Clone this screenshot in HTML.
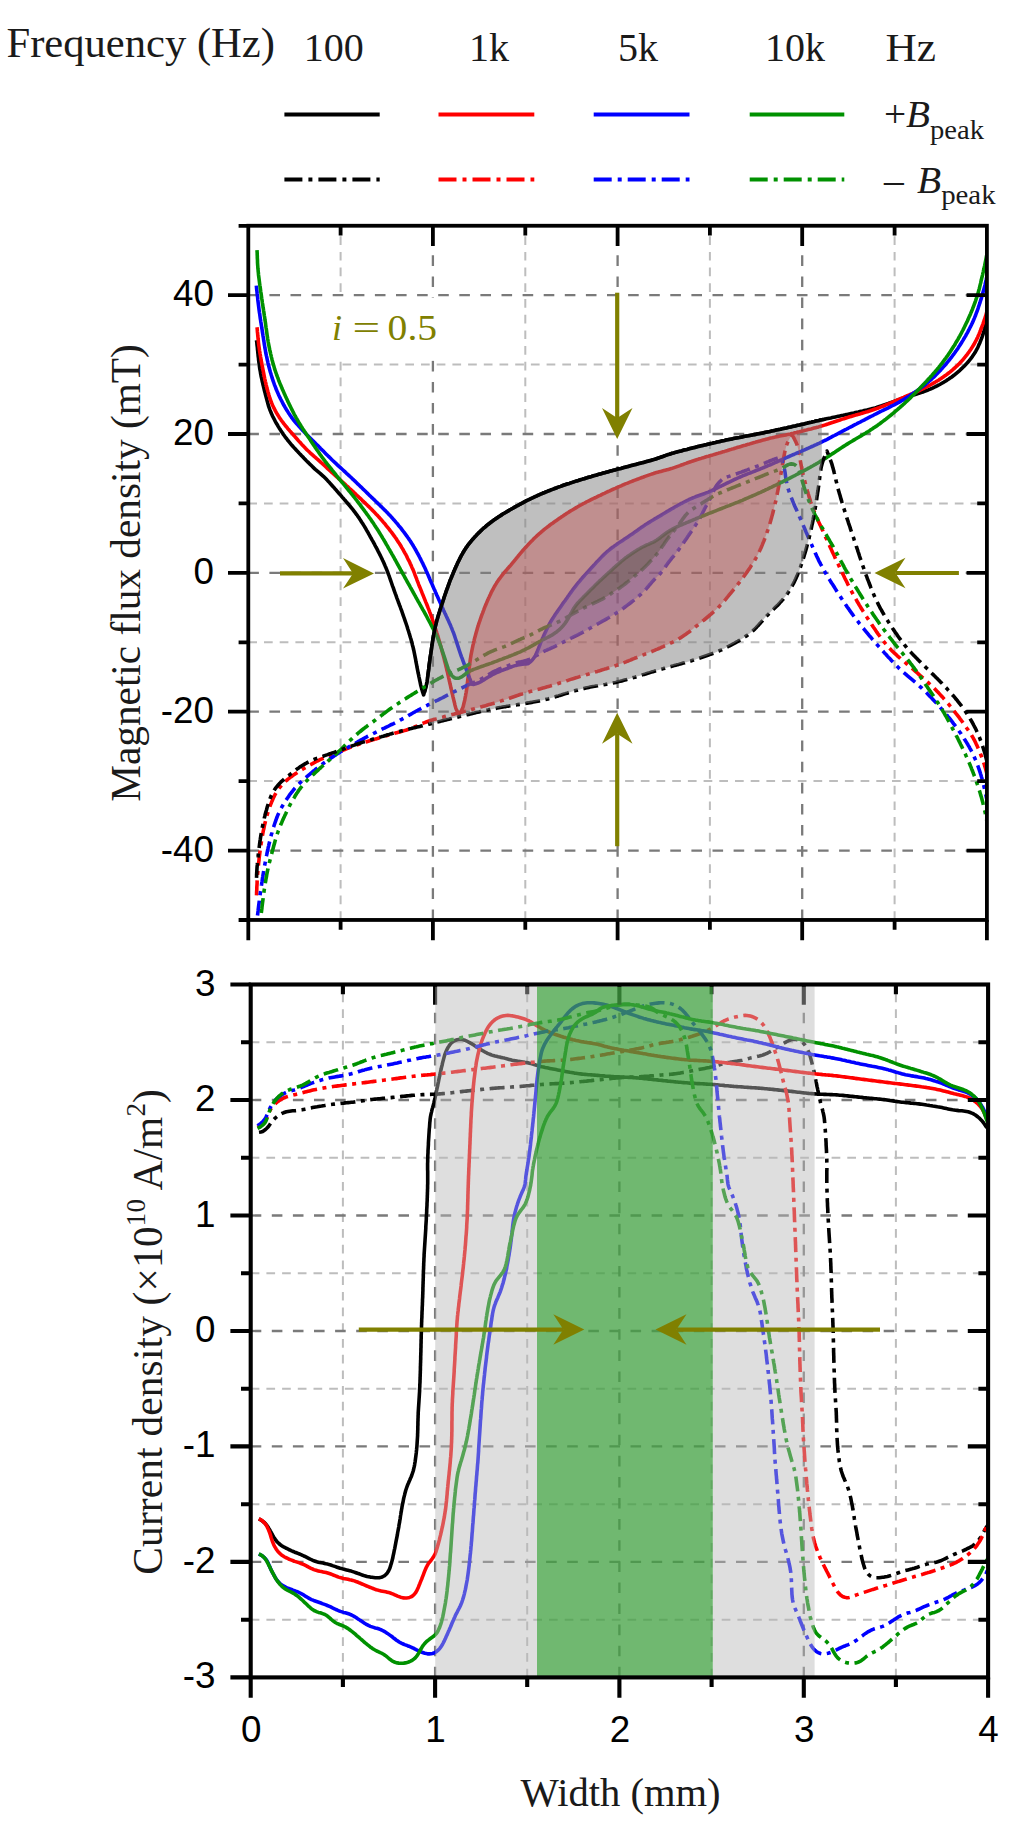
<!DOCTYPE html>
<html><head><meta charset="utf-8"><title>Figure</title>
<style>
html,body{margin:0;padding:0;background:#fff}
svg{display:block}
.ser{font-family:"Liberation Serif",serif}
.san{font-family:"Liberation Sans",sans-serif}
</style></head><body>
<svg width="1022" height="1829" viewBox="0 0 1022 1829">
<rect width="1022" height="1829" fill="#fff"/>

<g class="ser" fill="#1a1a1a">
<text x="6.5" y="56.8" font-size="42.6">Frequency (Hz)</text>
<text x="333.7" y="61" font-size="40" text-anchor="middle">100</text>
<text x="489" y="61" font-size="40" text-anchor="middle">1k</text>
<text x="638" y="61" font-size="40" text-anchor="middle">5k</text>
<text x="795" y="61" font-size="40" text-anchor="middle">10k</text>
<text transform="translate(885.5,61) scale(1.07,1)" font-size="40.5">Hz</text>
<text transform="translate(884,127.3) scale(1.06,1)" font-size="37">+<tspan font-style="italic">B</tspan><tspan font-size="27" dy="11.8">peak</tspan></text>
<text transform="translate(884,192.7) scale(1.068,1)" font-size="37">– <tspan font-style="italic" dx="3.2">B</tspan><tspan font-size="27" dy="11.5">peak</tspan></text>
</g>
<line x1="284.4" x2="379.7" y1="114.6" y2="114.6" stroke="#000" stroke-width="4"/>
<line x1="284.4" x2="379.7" y1="179.5" y2="179.5" stroke="#000" stroke-width="4" stroke-dasharray="18 6 4 6"/>
<line x1="438.5" x2="534.3" y1="114.6" y2="114.6" stroke="#ff0000" stroke-width="4"/>
<line x1="438.5" x2="534.3" y1="179.5" y2="179.5" stroke="#ff0000" stroke-width="4" stroke-dasharray="18 6 4 6"/>
<line x1="593.7" x2="689.5" y1="114.6" y2="114.6" stroke="#0000ff" stroke-width="4"/>
<line x1="593.7" x2="689.5" y1="179.5" y2="179.5" stroke="#0000ff" stroke-width="4" stroke-dasharray="18 6 4 6"/>
<line x1="749.7" x2="844.3" y1="114.6" y2="114.6" stroke="#009100" stroke-width="4"/>
<line x1="749.7" x2="844.3" y1="179.5" y2="179.5" stroke="#009100" stroke-width="4" stroke-dasharray="18 6 4 6"/>
<!-- chart 1 -->
<clipPath id="cp1"><rect x="248.3" y="225.75" width="738.5999999999999" height="694.25"/></clipPath>
<line x1="340.6" x2="340.6" y1="920.0" y2="225.8" stroke="#bdbdbd" stroke-width="2.0" stroke-dasharray="8.7 7"/>
<line x1="525.3" x2="525.3" y1="920.0" y2="225.8" stroke="#bdbdbd" stroke-width="2.0" stroke-dasharray="8.7 7"/>
<line x1="709.9" x2="709.9" y1="920.0" y2="225.8" stroke="#bdbdbd" stroke-width="2.0" stroke-dasharray="8.7 7"/>
<line x1="894.6" x2="894.6" y1="920.0" y2="225.8" stroke="#bdbdbd" stroke-width="2.0" stroke-dasharray="8.7 7"/>
<line y1="364.6" y2="364.6" x1="248.3" x2="986.9" stroke="#bdbdbd" stroke-width="2.0" stroke-dasharray="8.7 7"/>
<line y1="503.4" y2="503.4" x1="248.3" x2="986.9" stroke="#bdbdbd" stroke-width="2.0" stroke-dasharray="8.7 7"/>
<line y1="642.3" y2="642.3" x1="248.3" x2="986.9" stroke="#bdbdbd" stroke-width="2.0" stroke-dasharray="8.7 7"/>
<line y1="781.1" y2="781.1" x1="248.3" x2="986.9" stroke="#bdbdbd" stroke-width="2.0" stroke-dasharray="8.7 7"/>
<line x1="432.9" x2="432.9" y1="920.0" y2="225.8" stroke="#7a7a7a" stroke-width="2.3" stroke-dasharray="10.6 10.5"/>
<line x1="617.6" x2="617.6" y1="920.0" y2="225.8" stroke="#7a7a7a" stroke-width="2.3" stroke-dasharray="10.6 10.5"/>
<line x1="802.2" x2="802.2" y1="920.0" y2="225.8" stroke="#7a7a7a" stroke-width="2.3" stroke-dasharray="10.6 10.5"/>
<line y1="295.2" y2="295.2" x1="248.3" x2="986.9" stroke="#7a7a7a" stroke-width="2.3" stroke-dasharray="10.6 10.5"/>
<line y1="434.0" y2="434.0" x1="248.3" x2="986.9" stroke="#7a7a7a" stroke-width="2.3" stroke-dasharray="10.6 10.5"/>
<line y1="572.9" y2="572.9" x1="248.3" x2="986.9" stroke="#7a7a7a" stroke-width="2.3" stroke-dasharray="10.6 10.5"/>
<line y1="711.7" y2="711.7" x1="248.3" x2="986.9" stroke="#7a7a7a" stroke-width="2.3" stroke-dasharray="10.6 10.5"/>
<line y1="850.6" y2="850.6" x1="248.3" x2="986.9" stroke="#7a7a7a" stroke-width="2.3" stroke-dasharray="10.6 10.5"/>
<clipPath id="cp1b"><rect x="426" y="225.75" width="399" height="694.25"/></clipPath>
<g clip-path="url(#cp1)" fill="none" stroke-linejoin="round">
<path d="M256.5,340.2 256.7,341.8 256.9,343.3 257.0,344.8 257.2,346.3 257.4,347.9 257.5,349.4 257.7,350.9 257.8,352.5 258.0,354.0 258.1,355.5 258.3,357.1 258.5,358.6 258.6,360.1 258.8,361.6 259.0,363.1 259.2,364.5 259.4,366.0 259.6,367.5 259.8,369.0 260.1,370.5 260.4,372.0 260.6,373.5 260.9,375.0 261.2,376.6 261.6,378.2 261.9,379.7 262.2,381.2 262.6,382.7 262.9,384.2 263.3,385.7 263.6,387.1 264.0,388.6 264.3,390.0 264.7,391.5 265.1,392.9 265.4,394.4 265.8,395.9 266.2,397.4 266.6,398.9 267.0,400.4 267.4,401.9 267.8,403.3 268.2,404.7 268.6,406.2 269.1,407.6 269.6,409.0 270.1,410.4 270.7,411.8 271.3,413.2 271.9,414.6 272.5,416.0 273.2,417.3 273.9,418.7 274.6,420.0 275.3,421.4 276.0,422.7 276.8,424.0 277.6,425.3 278.3,426.6 279.1,427.9 280.0,429.2 280.8,430.5 281.6,431.7 282.5,433.0 283.3,434.3 284.2,435.5 285.1,436.8 286.0,438.0 287.0,439.2 287.9,440.5 288.9,441.7 289.9,442.9 290.9,444.1 291.9,445.3 293.0,446.5 294.0,447.6 295.1,448.8 296.2,450.0 297.2,451.1 298.3,452.2 299.4,453.4 300.5,454.5 301.6,455.7 302.7,456.8 303.8,458.0 305.0,459.2 306.1,460.4 307.3,461.6 308.5,462.7 309.6,463.9 310.8,465.0 311.9,466.1 313.0,467.2 314.2,468.3 315.3,469.3 316.5,470.3 317.7,471.3 318.9,472.3 320.1,473.3 321.2,474.3 322.3,475.3 323.4,476.3 324.4,477.3 325.4,478.3 326.4,479.3 327.4,480.4 328.4,481.5 329.5,482.6 330.5,483.8 331.6,485.0 332.7,486.2 333.8,487.4 334.9,488.7 336.0,489.9 337.0,491.1 338.1,492.4 339.1,493.6 340.2,494.7 341.2,495.9 342.2,497.1 343.2,498.2 344.2,499.4 345.2,500.5 346.2,501.7 347.2,502.8 348.2,504.0 349.2,505.2 350.2,506.3 351.1,507.5 352.1,508.7 353.1,509.9 354.0,511.1 355.0,512.4 355.9,513.6 356.8,514.8 357.7,516.1 358.6,517.3 359.4,518.6 360.3,519.9 361.1,521.2 361.9,522.5 362.8,523.8 363.6,525.1 364.4,526.4 365.2,527.7 366.0,529.1 366.7,530.4 367.5,531.7 368.3,533.1 369.0,534.4 369.8,535.8 370.5,537.1 371.3,538.5 372.0,539.8 372.8,541.2 373.5,542.5 374.3,543.9 375.0,545.3 375.7,546.6 376.5,548.0 377.2,549.4 377.9,550.8 378.6,552.1 379.3,553.5 380.0,554.9 380.7,556.3 381.4,557.7 382.1,559.1 382.7,560.5 383.4,561.9 384.0,563.3 384.6,564.7 385.2,566.2 385.9,567.6 386.4,569.0 387.0,570.4 387.6,571.9 388.1,573.3 388.6,574.7 389.2,576.2 389.7,577.7 390.2,579.1 390.7,580.6 391.2,582.0 391.7,583.5 392.2,585.0 392.7,586.4 393.3,587.9 393.8,589.4 394.3,590.8 394.8,592.3 395.3,593.7 395.9,595.2 396.4,596.6 396.9,598.1 397.5,599.6 398.0,601.0 398.5,602.5 399.1,603.9 399.6,605.4 400.2,606.8 400.7,608.3 401.3,609.8 401.8,611.2 402.3,612.7 402.8,614.1 403.3,615.6 403.8,617.0 404.3,618.4 404.8,619.9 405.3,621.3 405.8,622.8 406.3,624.3 406.8,625.8 407.3,627.2 407.7,628.7 408.2,630.2 408.7,631.7 409.1,633.1 409.6,634.6 410.0,636.1 410.4,637.5 410.9,639.0 411.3,640.5 411.7,641.9 412.1,643.4 412.4,644.9 412.8,646.3 413.2,647.8 413.5,649.3 413.9,650.8 414.2,652.3 414.5,653.8 414.8,655.3 415.1,656.9 415.4,658.4 415.7,659.9 415.9,661.4 416.2,662.8 416.5,664.3 416.8,665.8 417.0,667.2 417.3,668.7 417.6,670.2 417.9,671.7 418.2,673.3 418.6,674.9 418.9,676.6 419.3,678.3 419.6,680.0 420.0,681.6 420.3,683.2 420.6,684.7 421.0,686.2 421.4,687.7 421.8,689.2 422.2,690.6 422.6,692.0 423.1,693.5 423.6,694.9 424.1,693.3 424.6,691.6 425.1,690.0 425.5,688.3 425.9,686.8 426.3,685.2 426.6,683.7 426.9,682.1 427.1,680.7 427.3,679.1 427.5,677.6 427.8,676.0 428.0,674.5 428.2,673.0 428.4,671.5 428.6,670.0 428.8,668.5 428.9,667.1 429.1,665.6 429.3,664.1 429.5,662.7 429.7,661.1 429.9,659.6 430.1,658.1 430.3,656.7 430.6,655.2 430.8,653.7 431.0,652.3 431.2,650.9 431.4,649.4 431.6,647.9 431.8,646.4 432.1,644.9 432.3,643.3 432.5,641.8 432.8,640.2 433.0,638.6 433.3,637.0 433.6,635.4 433.9,633.9 434.2,632.3 434.5,630.8 434.8,629.3 435.1,627.8 435.4,626.2 435.8,624.7 436.2,623.3 436.5,621.8 436.9,620.3 437.4,618.8 437.8,617.3 438.2,615.9 438.7,614.4 439.1,612.9 439.6,611.5 440.0,610.0 440.5,608.6 441.0,607.1 441.4,605.7 441.9,604.2 442.4,602.8 442.9,601.3 443.4,599.8 443.9,598.4 444.3,596.9 444.8,595.5 445.3,594.0 445.8,592.6 446.3,591.1 446.8,589.6 447.4,588.2 447.9,586.7 448.4,585.2 449.0,583.8 449.5,582.3 450.0,580.8 450.6,579.4 451.2,578.0 451.8,576.5 452.4,575.1 453.0,573.7 453.6,572.2 454.2,570.8 454.8,569.3 455.5,567.9 456.1,566.4 456.8,565.0 457.4,563.6 458.1,562.1 458.8,560.7 459.5,559.3 460.2,557.9 460.9,556.5 461.6,555.2 462.4,553.8 463.1,552.5 463.9,551.2 464.7,549.9 465.6,548.6 466.4,547.3 467.3,546.1 468.2,544.8 469.2,543.5 470.2,542.3 471.2,541.1 472.2,539.9 473.2,538.8 474.2,537.6 475.2,536.5 476.3,535.4 477.3,534.3 478.4,533.2 479.5,532.2 480.5,531.1 481.6,530.1 482.7,529.0 483.8,528.0 485.0,527.1 486.1,526.1 487.2,525.1 488.4,524.2 489.6,523.3 490.8,522.3 492.1,521.4 493.3,520.5 494.6,519.6 495.8,518.7 497.1,517.9 498.3,517.1 499.6,516.2 500.8,515.4 502.1,514.6 503.3,513.8 504.7,513.0 506.0,512.2 507.4,511.4 508.7,510.6 510.1,509.8 511.5,509.0 512.9,508.2 514.3,507.4 515.7,506.6 517.1,505.8 518.5,505.1 519.9,504.3 521.2,503.6 522.6,502.9 524.0,502.1 525.3,501.4 526.7,500.7 528.1,500.0 529.5,499.3 530.9,498.7 532.3,498.0 533.7,497.3 535.1,496.7 536.4,496.1 537.8,495.4 539.2,494.8 540.6,494.2 542.0,493.6 543.3,493.0 544.7,492.5 546.1,491.9 547.5,491.3 548.9,490.7 550.4,490.2 551.8,489.6 553.2,489.1 554.7,488.5 556.2,488.0 557.6,487.4 559.1,486.9 560.6,486.4 562.1,485.8 563.5,485.3 565.0,484.8 566.5,484.3 568.0,483.8 569.4,483.4 570.9,482.9 572.4,482.4 573.9,481.9 575.3,481.4 576.8,480.9 578.3,480.5 579.8,480.0 581.2,479.6 582.7,479.1 584.2,478.7 585.6,478.2 587.1,477.8 588.6,477.3 590.1,476.9 591.5,476.5 593.0,476.0 594.5,475.6 596.0,475.2 597.4,474.7 598.9,474.3 600.4,473.9 601.9,473.5 603.3,473.1 604.8,472.7 606.2,472.3 607.7,471.9 609.1,471.5 610.6,471.1 612.0,470.7 613.5,470.3 615.0,469.9 616.4,469.5 617.9,469.1 619.4,468.7 620.9,468.4 622.4,468.0 623.9,467.6 625.4,467.2 626.8,466.8 628.3,466.4 629.8,466.0 631.3,465.6 632.8,465.2 634.3,464.8 635.9,464.4 637.4,464.0 639.0,463.6 640.5,463.2 642.0,462.8 643.6,462.4 645.1,462.0 646.5,461.6 648.0,461.2 649.4,460.8 650.8,460.4 652.2,460.0 653.5,459.6 654.9,459.2 656.4,458.7 657.8,458.2 659.2,457.8 660.7,457.2 662.1,456.7 663.6,456.2 665.2,455.6 666.6,455.1 668.1,454.6 669.5,454.2 670.9,453.7 672.2,453.3 673.5,453.0 674.7,452.6 675.9,452.3 677.2,451.9 678.5,451.6 679.8,451.2 681.2,450.9 682.6,450.5 684.1,450.1 685.5,449.7 687.0,449.4 688.5,449.0 690.1,448.6 691.6,448.2 693.2,447.8 694.8,447.4 696.4,447.0 698.0,446.6 699.6,446.2 701.2,445.8 702.9,445.4 704.5,445.1 706.1,444.7 707.7,444.3 709.3,443.9 710.9,443.5 712.5,443.2 714.1,442.8 715.6,442.5 717.2,442.1 718.7,441.8 720.2,441.4 721.7,441.1 723.1,440.8 724.6,440.5 726.1,440.1 727.6,439.8 729.0,439.5 730.5,439.2 732.0,438.9 733.4,438.6 734.9,438.3 736.4,438.0 737.9,437.7 739.3,437.5 740.8,437.2 742.3,436.9 743.8,436.6 745.2,436.3 746.7,436.0 748.2,435.8 749.7,435.5 751.1,435.2 752.6,434.9 754.1,434.6 755.6,434.4 757.0,434.1 758.5,433.8 760.0,433.5 761.5,433.2 762.9,432.9 764.4,432.6 765.9,432.3 767.4,432.0 768.8,431.7 770.3,431.4 771.8,431.1 773.2,430.8 774.7,430.4 776.2,430.1 777.6,429.8 779.1,429.5 780.6,429.2 782.0,428.8 783.5,428.5 785.0,428.2 786.4,427.9 787.9,427.5 789.3,427.2 790.8,426.9 792.3,426.5 793.7,426.2 795.2,425.9 796.7,425.5 798.1,425.2 799.6,424.9 801.1,424.5 802.5,424.2 804.0,423.9 805.5,423.5 807.0,423.2 808.4,422.8 809.9,422.5 811.4,422.2 812.9,421.8 814.4,421.5 815.9,421.1 817.4,420.8 818.9,420.5 820.3,420.1 821.8,419.8 823.3,419.5 824.8,419.2 826.3,418.8 827.8,418.5 829.3,418.2 830.8,417.9 832.3,417.5 833.8,417.2 835.4,416.9 836.9,416.6 838.5,416.2 840.0,415.9 841.6,415.6 843.1,415.3 844.7,414.9 846.2,414.6 847.8,414.3 849.3,413.9 850.9,413.6 852.4,413.3 853.9,413.0 855.4,412.6 856.9,412.3 858.4,412.0 859.9,411.6 861.3,411.3 862.8,411.0 864.2,410.6 865.6,410.3 867.0,410.0 868.3,409.6 869.7,409.3 871.0,408.9 872.3,408.6 873.6,408.2 875.0,407.9 876.4,407.5 877.9,407.0 879.4,406.5 880.9,406.1 882.5,405.5 884.0,405.0 885.5,404.5 887.0,404.0 888.4,403.5 889.8,402.9 891.2,402.4 892.6,401.9 894.0,401.4 895.3,400.9 896.7,400.4 898.1,399.9 899.5,399.4 900.9,398.9 902.4,398.4 903.8,397.9 905.3,397.4 906.8,396.9 908.3,396.5 909.9,396.0 911.4,395.6 912.9,395.1 914.4,394.7 915.9,394.2 917.4,393.7 918.9,393.3 920.3,392.8 921.8,392.3 923.2,391.9 924.6,391.3 926.0,390.8 927.4,390.3 928.8,389.7 930.2,389.1 931.7,388.5 933.1,387.8 934.4,387.2 935.8,386.5 937.1,385.9 938.4,385.2 939.8,384.5 941.0,383.8 942.3,383.0 943.6,382.3 944.9,381.5 946.2,380.7 947.5,379.8 948.8,379.0 950.1,378.1 951.4,377.2 952.7,376.2 953.9,375.3 955.1,374.3 956.3,373.3 957.5,372.3 958.7,371.3 959.9,370.3 961.0,369.2 962.2,368.1 963.3,367.0 964.4,365.9 965.5,364.8 966.6,363.6 967.6,362.5 968.6,361.3 969.6,360.1 970.6,358.9 971.5,357.7 972.4,356.4 973.3,355.1 974.2,353.8 975.0,352.5 975.8,351.1 976.5,349.8 977.3,348.4 978.0,347.0 978.6,345.6 979.3,344.1 979.9,342.7 980.5,341.2 981.1,339.7 981.7,338.2 982.2,336.7 982.7,335.1 983.2,333.6 983.7,332.1 984.1,330.6 984.6,329.0 985.0,327.5 985.3,325.9 985.7,324.3 986.0,322.7 986.4,321.0 986.7,319.4 986.9,317.8 987.2,316.2 987.5,314.6 987.8,313.1 988.0,311.5 988.3,309.9 988.5,308.3 988.7,306.8 988.9,305.2 989.2,303.6 989.4,302.0 989.6,300.5 989.7,298.9 989.9,297.3 990.1,295.8 990.3,294.2 990.5,292.6" stroke="#000" stroke-width="3.6"/>
<path d="M257.0,327.2 257.2,328.7 257.3,330.2 257.4,331.7 257.6,333.2 257.7,334.6 257.8,336.1 258.0,337.6 258.1,339.1 258.3,340.6 258.4,342.1 258.6,343.7 258.8,345.2 259.0,346.7 259.2,348.1 259.4,349.6 259.6,351.1 259.9,352.6 260.1,354.1 260.4,355.6 260.6,357.1 260.9,358.7 261.1,360.2 261.4,361.7 261.7,363.2 262.0,364.8 262.3,366.3 262.6,367.8 262.9,369.3 263.2,370.9 263.5,372.4 263.8,373.9 264.1,375.5 264.4,377.0 264.7,378.6 265.1,380.1 265.4,381.6 265.8,383.1 266.1,384.6 266.5,386.1 266.8,387.6 267.2,389.0 267.6,390.5 268.0,392.0 268.5,393.5 268.9,395.0 269.4,396.6 269.8,398.1 270.3,399.5 270.9,401.0 271.4,402.5 272.0,403.9 272.6,405.3 273.3,406.7 274.0,408.1 274.7,409.5 275.4,410.9 276.2,412.3 277.0,413.7 277.8,415.0 278.7,416.4 279.5,417.7 280.4,419.0 281.3,420.3 282.2,421.5 283.1,422.7 284.0,423.9 285.0,425.1 285.9,426.3 286.9,427.4 287.8,428.6 288.8,429.7 289.8,430.9 290.8,432.0 291.8,433.1 292.9,434.3 293.9,435.5 294.9,436.6 295.9,437.8 297.0,439.0 298.0,440.2 299.1,441.4 300.2,442.5 301.2,443.7 302.3,444.9 303.4,446.0 304.4,447.1 305.5,448.3 306.6,449.4 307.7,450.5 308.8,451.5 309.9,452.6 311.0,453.6 312.2,454.7 313.3,455.7 314.4,456.7 315.6,457.7 316.7,458.7 317.9,459.7 319.0,460.7 320.1,461.7 321.2,462.7 322.4,463.7 323.5,464.7 324.6,465.7 325.7,466.7 326.8,467.8 327.9,468.8 329.1,469.8 330.3,470.9 331.4,472.0 332.6,473.0 333.7,474.1 334.9,475.1 336.0,476.1 337.1,477.1 338.1,478.1 339.2,479.0 340.3,480.0 341.5,481.1 342.6,482.1 343.8,483.1 344.9,484.2 346.1,485.3 347.3,486.3 348.5,487.4 349.6,488.5 350.8,489.6 352.0,490.7 353.2,491.7 354.3,492.8 355.5,493.9 356.6,495.0 357.7,496.0 358.8,497.1 359.9,498.1 361.1,499.2 362.2,500.3 363.3,501.3 364.4,502.4 365.5,503.4 366.6,504.5 367.7,505.6 368.8,506.6 369.9,507.7 371.0,508.8 372.0,509.9 373.1,510.9 374.2,512.0 375.2,513.1 376.2,514.2 377.3,515.3 378.3,516.4 379.3,517.5 380.3,518.6 381.3,519.8 382.3,520.9 383.3,522.1 384.3,523.2 385.3,524.4 386.2,525.6 387.2,526.8 388.1,527.9 389.1,529.1 390.0,530.3 390.9,531.5 391.8,532.7 392.7,533.9 393.6,535.1 394.5,536.3 395.3,537.5 396.2,538.7 397.0,540.0 397.8,541.2 398.6,542.5 399.5,543.7 400.3,545.0 401.1,546.3 401.8,547.6 402.6,548.9 403.4,550.2 404.1,551.6 404.8,552.9 405.6,554.2 406.3,555.5 407.0,556.9 407.6,558.2 408.3,559.6 409.0,560.9 409.7,562.3 410.3,563.7 411.0,565.1 411.6,566.6 412.2,568.0 412.9,569.4 413.5,570.9 414.1,572.4 414.7,573.9 415.2,575.3 415.8,576.8 416.4,578.3 416.9,579.8 417.5,581.3 418.1,582.8 418.6,584.3 419.2,585.8 419.8,587.2 420.4,588.7 421.0,590.2 421.6,591.7 422.2,593.2 422.8,594.6 423.4,596.1 424.0,597.6 424.6,599.1 425.2,600.6 425.8,602.1 426.4,603.5 427.0,605.0 427.6,606.5 428.1,607.9 428.7,609.4 429.3,610.9 429.8,612.4 430.4,613.8 430.9,615.3 431.5,616.8 432.0,618.3 432.5,619.8 433.0,621.3 433.5,622.7 434.0,624.2 434.5,625.7 435.0,627.2 435.5,628.7 436.0,630.2 436.5,631.7 436.9,633.2 437.4,634.7 437.8,636.2 438.3,637.6 438.7,639.1 439.1,640.5 439.5,641.9 439.9,643.3 440.3,644.7 440.7,646.2 441.1,647.6 441.5,649.0 441.9,650.5 442.3,652.0 442.7,653.4 443.1,654.9 443.5,656.4 443.9,657.9 444.3,659.4 444.6,660.9 445.0,662.3 445.4,663.8 445.8,665.3 446.1,666.8 446.5,668.3 446.8,669.8 447.2,671.4 447.6,672.9 447.9,674.5 448.3,676.0 448.6,677.6 449.0,679.2 449.3,680.7 449.7,682.3 450.0,683.8 450.4,685.4 450.7,686.9 451.0,688.3 451.4,689.8 451.7,691.2 452.0,692.5 452.3,693.9 452.7,695.4 453.0,696.9 453.4,698.5 453.8,700.1 454.2,701.7 454.6,703.4 454.9,704.9 455.3,706.4 455.7,707.8 456.2,709.2 456.8,710.4 457.3,711.7 457.9,712.8 458.9,714.0 460.2,712.8 461.0,711.7 461.5,710.5 462.2,709.2 462.7,707.9 463.2,706.6 463.5,705.1 463.9,703.5 464.3,701.8 464.7,700.2 465.0,698.6 465.3,697.0 465.6,695.6 465.8,694.1 466.1,692.8 466.3,691.5 466.5,690.2 466.7,688.8 466.9,687.4 467.1,685.9 467.2,684.4 467.4,682.9 467.6,681.3 467.8,679.8 468.0,678.2 468.2,676.5 468.4,674.9 468.6,673.3 468.8,671.6 468.9,670.0 469.1,668.4 469.4,666.7 469.6,665.1 469.8,663.5 470.0,661.9 470.2,660.3 470.4,658.8 470.7,657.2 470.9,655.7 471.2,654.2 471.5,652.7 471.8,651.2 472.1,649.7 472.4,648.2 472.7,646.7 473.0,645.1 473.4,643.6 473.7,642.1 474.1,640.6 474.4,639.1 474.8,637.6 475.2,636.2 475.6,634.7 476.0,633.3 476.4,631.8 476.8,630.4 477.2,629.0 477.6,627.5 478.1,626.1 478.5,624.6 479.0,623.2 479.5,621.7 480.0,620.3 480.5,618.8 481.0,617.4 481.5,615.9 482.0,614.5 482.6,613.1 483.1,611.6 483.7,610.1 484.2,608.7 484.8,607.2 485.4,605.7 486.0,604.3 486.6,602.8 487.2,601.3 487.9,599.9 488.5,598.4 489.2,597.0 489.8,595.6 490.5,594.2 491.1,592.8 491.8,591.4 492.5,590.1 493.2,588.8 493.9,587.5 494.6,586.2 495.4,584.9 496.2,583.6 497.0,582.2 497.9,580.9 498.8,579.6 499.8,578.3 500.8,577.0 501.8,575.7 502.8,574.4 503.8,573.2 504.8,572.0 505.8,570.8 506.8,569.7 507.8,568.5 508.8,567.3 509.8,566.2 510.8,565.1 511.8,563.9 512.8,562.7 513.7,561.6 514.7,560.4 515.7,559.2 516.6,558.0 517.6,556.9 518.5,555.7 519.4,554.6 520.4,553.4 521.3,552.3 522.3,551.2 523.3,550.0 524.3,548.9 525.3,547.8 526.3,546.7 527.3,545.6 528.3,544.5 529.3,543.4 530.4,542.3 531.4,541.3 532.5,540.2 533.5,539.1 534.6,538.0 535.7,537.0 536.8,535.9 538.0,534.9 539.1,533.8 540.3,532.8 541.4,531.8 542.6,530.8 543.8,529.8 545.0,528.9 546.3,527.9 547.5,526.9 548.8,526.0 550.0,525.0 551.3,524.1 552.6,523.2 553.9,522.2 555.2,521.3 556.5,520.4 557.8,519.5 559.1,518.6 560.4,517.7 561.7,516.8 563.0,516.0 564.3,515.1 565.6,514.2 566.9,513.3 568.3,512.5 569.6,511.6 570.9,510.8 572.3,510.0 573.6,509.2 575.0,508.4 576.3,507.6 577.7,506.8 579.0,506.0 580.4,505.2 581.8,504.5 583.2,503.7 584.6,503.0 586.0,502.2 587.4,501.5 588.8,500.8 590.2,500.1 591.6,499.4 593.1,498.7 594.5,498.0 596.0,497.3 597.4,496.6 598.8,495.9 600.3,495.3 601.6,494.6 603.0,493.9 604.4,493.3 605.7,492.7 607.1,492.0 608.4,491.4 609.8,490.8 611.2,490.1 612.6,489.5 614.0,488.9 615.4,488.3 616.8,487.6 618.2,487.0 619.7,486.4 621.1,485.8 622.5,485.1 624.0,484.5 625.4,483.9 626.9,483.4 628.3,482.8 629.8,482.2 631.3,481.6 632.8,481.0 634.3,480.4 635.8,479.8 637.4,479.2 638.9,478.7 640.4,478.1 642.0,477.5 643.5,477.0 645.0,476.4 646.5,475.9 647.9,475.4 649.4,474.9 650.8,474.4 652.1,473.9 653.5,473.5 654.9,473.0 656.4,472.6 657.8,472.2 659.3,471.8 660.8,471.4 662.4,471.0 663.9,470.6 665.4,470.2 666.9,469.8 668.4,469.4 669.8,469.0 671.3,468.6 672.7,468.1 674.2,467.6 675.6,467.1 677.0,466.6 678.5,466.1 679.9,465.6 681.4,465.0 683.0,464.5 684.5,463.9 686.0,463.4 687.6,462.8 689.1,462.3 690.6,461.8 692.1,461.2 693.6,460.7 695.1,460.2 696.6,459.7 698.1,459.3 699.6,458.8 701.0,458.4 702.5,457.9 704.0,457.5 705.5,457.0 706.9,456.6 708.4,456.2 709.9,455.7 711.4,455.3 712.8,454.9 714.3,454.4 715.8,454.0 717.3,453.6 718.7,453.1 720.2,452.7 721.7,452.2 723.1,451.8 724.6,451.4 726.1,450.9 727.6,450.5 729.0,450.0 730.5,449.6 732.0,449.1 733.5,448.7 734.9,448.2 736.4,447.8 737.9,447.3 739.4,446.9 740.8,446.5 742.3,446.0 743.8,445.6 745.3,445.2 746.7,444.7 748.2,444.3 749.7,443.9 751.2,443.4 752.7,443.0 754.2,442.6 755.7,442.1 757.2,441.7 758.7,441.3 760.2,440.9 761.6,440.5 763.1,440.1 764.6,439.7 766.0,439.3 767.5,438.9 769.0,438.5 770.5,438.1 772.0,437.8 773.5,437.4 775.1,437.1 776.6,436.7 778.2,436.4 779.7,436.1 781.3,435.8 782.8,435.5 784.3,435.2 785.8,434.9 787.3,434.5 788.9,434.2 790.4,433.9 791.9,433.5 793.4,433.2 794.9,432.8 796.4,432.5 797.9,432.1 799.3,431.8 800.8,431.4 802.3,431.0 803.7,430.7 805.1,430.3 806.6,430.0 808.1,429.6 809.5,429.2 811.0,428.9 812.5,428.5 814.0,428.1 815.6,427.7 817.1,427.3 818.6,426.9 820.1,426.4 821.5,426.0 823.0,425.6 824.4,425.1 825.7,424.7 827.1,424.2 828.6,423.8 830.0,423.3 831.5,422.8 833.0,422.3 834.6,421.7 836.1,421.2 837.6,420.7 839.2,420.2 840.8,419.7 842.3,419.1 843.8,418.7 845.3,418.2 846.8,417.7 848.3,417.3 849.7,416.8 851.1,416.4 852.6,416.0 854.1,415.6 855.5,415.1 857.0,414.7 858.5,414.3 860.0,413.9 861.5,413.4 862.9,413.0 864.4,412.6 865.9,412.1 867.4,411.7 868.8,411.2 870.3,410.8 871.7,410.3 873.2,409.8 874.6,409.3 876.1,408.8 877.6,408.2 879.0,407.7 880.5,407.1 882.0,406.5 883.5,406.0 885.0,405.3 886.4,404.7 887.9,404.1 889.4,403.5 890.8,402.9 892.2,402.3 893.7,401.6 895.1,401.0 896.6,400.4 898.0,399.7 899.4,399.1 900.9,398.5 902.3,397.9 903.7,397.3 905.1,396.6 906.6,396.0 908.0,395.4 909.4,394.8 910.8,394.2 912.3,393.6 913.7,393.0 915.1,392.4 916.5,391.8 917.9,391.1 919.3,390.5 920.6,389.9 922.0,389.2 923.4,388.6 924.7,387.9 926.1,387.2 927.4,386.5 928.8,385.8 930.2,385.0 931.6,384.2 933.0,383.4 934.4,382.6 935.8,381.8 937.1,381.0 938.5,380.2 939.8,379.3 941.1,378.5 942.4,377.6 943.6,376.7 944.9,375.8 946.2,374.9 947.4,374.0 948.7,373.0 949.9,372.1 951.1,371.1 952.3,370.1 953.5,369.0 954.7,368.0 955.8,366.9 957.0,365.9 958.1,364.8 959.2,363.7 960.3,362.6 961.3,361.4 962.4,360.3 963.4,359.1 964.4,357.9 965.4,356.7 966.3,355.5 967.3,354.3 968.2,353.0 969.1,351.8 970.0,350.5 970.9,349.2 971.7,347.9 972.6,346.6 973.4,345.3 974.2,344.0 974.9,342.6 975.7,341.2 976.4,339.8 977.1,338.4 977.8,336.9 978.4,335.4 979.1,333.9 979.7,332.5 980.3,331.0 980.8,329.5 981.4,328.0 981.9,326.6 982.5,325.1 983.1,323.6 983.6,322.0 984.1,320.5 984.7,319.0 985.2,317.4 985.7,315.9 986.1,314.4 986.5,312.9 986.9,311.3 987.3,309.7 987.6,308.2 987.9,306.6 988.2,305.0 988.5,303.4 988.7,301.8 988.9,300.2 989.2,298.6 989.4,297.1 989.6,295.5 989.8,293.9 989.9,292.4 990.1,290.8 990.3,289.2 990.5,287.6" stroke="#ff0000" stroke-width="3.6"/>
<path d="M256.5,895.4 256.6,893.9 256.6,892.3 256.7,890.8 256.8,889.2 256.8,887.7 256.9,886.2 257.0,884.6 257.1,883.1 257.1,881.6 257.2,880.0 257.3,878.5 257.4,876.9 257.5,875.4 257.6,873.9 257.8,872.3 257.9,870.8 258.0,869.2 258.2,867.7 258.3,866.2 258.5,864.6 258.6,863.1 258.8,861.6 259.0,860.0 259.1,858.5 259.3,856.9 259.5,855.4 259.7,853.8 259.9,852.3 260.1,850.7 260.3,849.2 260.5,847.6 260.8,846.0 261.0,844.5 261.2,842.9 261.5,841.4 261.7,839.9 262.0,838.3 262.3,836.8 262.5,835.2 262.8,833.6 263.1,832.0 263.4,830.4 263.8,828.8 264.1,827.2 264.4,825.6 264.8,824.0 265.2,822.5 265.5,820.9 265.9,819.3 266.3,817.8 266.8,816.2 267.2,814.7 267.7,813.1 268.1,811.6 268.6,810.1 269.1,808.6 269.7,807.1 270.2,805.6 270.8,804.1 271.4,802.7 272.0,801.2 272.6,799.8 273.2,798.3 273.9,796.9 274.6,795.5 275.3,794.2 276.1,792.8 276.9,791.5 277.8,790.1 278.7,788.8 279.6,787.6 280.7,786.3 281.7,785.1 282.8,783.9 284.0,782.7 285.1,781.6 286.3,780.6 287.5,779.5 288.7,778.6 289.9,777.6 291.2,776.7 292.5,775.7 293.8,774.8 295.1,773.9 296.5,773.1 297.8,772.2 299.2,771.3 300.6,770.5 302.0,769.6 303.4,768.8 304.8,768.0 306.3,767.2 307.7,766.3 309.1,765.5 310.5,764.7 312.0,763.9 313.4,763.1 314.8,762.3 316.3,761.5 317.7,760.8 319.1,760.1 320.5,759.4 321.9,758.8 323.4,758.2 324.8,757.6 326.3,757.0 327.7,756.4 329.2,755.8 330.8,755.2 332.3,754.5 333.9,753.9 335.5,753.3 337.0,752.7 338.6,752.0 340.2,751.4 341.8,750.8 343.3,750.1 344.9,749.5 346.4,748.9 348.0,748.2 349.6,747.6 351.1,747.0 352.7,746.4 354.2,745.9 355.8,745.3 357.4,744.8 358.9,744.2 360.5,743.7 362.1,743.2 363.6,742.7 365.2,742.2 366.7,741.7 368.2,741.2 369.7,740.7 371.2,740.3 372.7,739.8 374.2,739.4 375.8,738.9 377.3,738.5 378.8,738.0 380.3,737.6 381.8,737.1 383.3,736.7 384.8,736.2 386.3,735.8 387.8,735.3 389.3,734.9 390.8,734.4 392.3,734.0 393.8,733.6 395.3,733.1 396.8,732.7 398.3,732.3 399.8,731.9 401.3,731.5 402.8,731.1 404.3,730.6 405.8,730.2 407.2,729.7 408.7,729.3 410.2,728.8 411.7,728.2 413.1,727.6 414.5,727.0 415.9,726.4 417.4,725.8 418.8,725.1 420.2,724.5 421.7,723.8 423.2,723.2 424.7,722.6 426.2,722.0 427.6,721.5 429.1,721.0 430.5,720.5 431.9,720.1 433.2,719.6 434.6,719.2 436.0,718.9 437.4,718.5 438.8,718.1 440.2,717.7 441.7,717.3 443.1,717.0 444.6,716.6 446.1,716.2 447.6,715.8 449.2,715.4 450.7,715.0 452.2,714.6 453.7,714.2 455.2,713.8 456.7,713.5 458.1,713.1 459.5,712.7 460.9,712.3 462.3,711.9 463.7,711.5 465.2,711.2 466.7,710.8 468.1,710.4 469.6,710.0 471.1,709.6 472.6,709.2 474.1,708.8 475.7,708.3 477.2,707.9 478.7,707.5 480.2,707.1 481.7,706.7 483.2,706.3 484.7,705.9 486.1,705.5 487.6,705.0 489.0,704.6 490.5,704.2 491.9,703.8 493.3,703.4 494.7,703.0 496.2,702.5 497.6,702.1 499.1,701.6 500.6,701.1 502.1,700.6 503.6,700.2 505.1,699.7 506.6,699.2 508.0,698.7 509.5,698.2 510.9,697.7 512.3,697.2 513.8,696.7 515.2,696.2 516.6,695.7 518.0,695.3 519.4,694.8 520.8,694.3 522.2,693.9 523.7,693.4 525.1,693.0 526.6,692.6 528.0,692.1 529.5,691.7 531.0,691.3 532.5,690.9 534.0,690.4 535.4,690.0 536.9,689.6 538.4,689.3 539.9,688.9 541.3,688.5 542.8,688.1 544.2,687.7 545.7,687.3 547.2,686.8 548.6,686.4 550.1,686.0 551.6,685.5 553.1,685.1 554.5,684.6 556.0,684.2 557.5,683.7 559.0,683.2 560.4,682.7 561.9,682.3 563.4,681.8 564.9,681.3 566.3,680.8 567.8,680.4 569.3,679.9 570.8,679.4 572.2,678.9 573.7,678.5 575.2,678.0 576.7,677.6 578.2,677.1 579.7,676.6 581.1,676.2 582.6,675.8 584.1,675.3 585.6,674.9 587.1,674.4 588.6,674.0 590.1,673.5 591.6,673.1 593.0,672.7 594.5,672.2 595.9,671.8 597.4,671.4 598.8,670.9 600.3,670.5 601.7,670.0 603.2,669.6 604.6,669.1 606.1,668.7 607.5,668.2 608.9,667.8 610.3,667.3 611.8,666.9 613.2,666.4 614.6,665.9 616.0,665.5 617.4,665.0 618.8,664.5 620.2,664.0 621.7,663.4 623.1,662.9 624.5,662.4 626.0,661.8 627.4,661.2 628.8,660.7 630.3,660.1 631.7,659.5 633.1,658.9 634.6,658.3 636.0,657.8 637.4,657.2 638.9,656.6 640.3,656.0 641.7,655.4 643.2,654.9 644.6,654.3 646.0,653.7 647.5,653.2 648.9,652.6 650.3,652.1 651.8,651.5 653.2,650.9 654.6,650.3 656.0,649.7 657.5,649.1 658.9,648.5 660.3,647.9 661.8,647.2 663.2,646.6 664.6,645.9 666.1,645.3 667.5,644.6 669.0,643.9 670.4,643.2 671.9,642.5 673.3,641.8 674.7,641.1 676.2,640.3 677.6,639.5 678.9,638.7 680.3,637.9 681.6,637.1 682.9,636.2 684.2,635.3 685.5,634.4 686.8,633.5 688.1,632.6 689.3,631.7 690.6,630.7 691.8,629.7 693.1,628.8 694.3,627.8 695.5,626.8 696.8,625.8 698.0,624.8 699.2,623.9 700.4,622.9 701.6,621.9 702.8,620.9 704.0,620.0 705.2,619.0 706.4,618.0 707.6,617.0 708.8,616.0 710.0,615.0 711.1,614.0 712.3,613.0 713.4,612.0 714.6,611.0 715.7,609.9 716.8,608.8 717.9,607.8 719.0,606.7 720.0,605.6 721.1,604.4 722.1,603.3 723.1,602.1 724.2,601.0 725.2,599.8 726.2,598.6 727.2,597.4 728.2,596.2 729.1,595.0 730.1,593.8 731.1,592.7 732.0,591.5 733.0,590.3 734.0,589.1 734.9,587.9 735.9,586.7 736.8,585.6 737.8,584.4 738.7,583.2 739.7,582.0 740.6,580.8 741.5,579.6 742.4,578.4 743.3,577.2 744.2,576.0 745.1,574.7 746.0,573.5 746.8,572.3 747.7,571.1 748.5,569.8 749.4,568.6 750.2,567.4 751.0,566.1 751.8,564.9 752.6,563.6 753.4,562.3 754.2,561.0 755.0,559.7 755.8,558.4 756.5,557.0 757.2,555.7 757.9,554.4 758.6,553.0 759.2,551.7 759.9,550.3 760.5,549.0 761.1,547.7 761.7,546.3 762.3,544.9 762.8,543.5 763.4,542.1 764.0,540.7 764.5,539.3 765.0,537.8 765.6,536.4 766.1,535.0 766.6,533.5 767.1,532.1 767.6,530.7 768.1,529.2 768.5,527.8 769.0,526.4 769.4,525.0 769.9,523.6 770.3,522.1 770.7,520.7 771.1,519.3 771.5,517.9 771.9,516.4 772.3,515.0 772.7,513.5 773.1,512.1 773.4,510.6 773.8,509.2 774.2,507.7 774.5,506.2 774.9,504.7 775.2,503.2 775.6,501.8 775.9,500.3 776.2,498.8 776.5,497.3 776.8,495.9 777.1,494.4 777.4,492.9 777.7,491.4 778.0,489.9 778.3,488.4 778.6,486.8 778.9,485.3 779.1,483.8 779.4,482.3 779.7,480.8 779.9,479.3 780.2,477.8 780.5,476.3 780.7,474.8 781.0,473.4 781.3,471.9 781.6,470.4 781.8,468.9 782.1,467.3 782.4,465.7 782.7,464.0 783.0,462.3 783.3,460.6 783.6,459.0 783.8,457.3 784.1,455.7 784.4,454.1 784.7,452.5 785.0,451.0 785.4,449.5 785.7,448.1 786.1,446.7 786.5,445.3 787.1,443.9 787.6,442.5 788.2,441.1 788.9,439.8 789.7,438.4 790.4,437.1 791.2,435.8 791.9,434.5 792.6,435.8 793.4,437.1 794.1,438.4 794.8,439.8 795.5,441.1 796.1,442.5 796.7,443.9 797.2,445.3 797.6,446.7 798.0,448.2 798.3,449.7 798.7,451.2 799.0,452.8 799.3,454.4 799.6,456.0 799.8,457.7 800.1,459.4 800.4,461.1 800.7,462.7 801.0,464.3 801.3,466.0 801.6,467.6 801.9,469.2 802.3,470.7 802.6,472.3 803.0,473.9 803.4,475.4 803.7,477.0 804.1,478.5 804.5,480.1 804.9,481.6 805.3,483.1 805.7,484.6 806.1,486.2 806.5,487.7 806.9,489.2 807.3,490.7 807.8,492.3 808.2,493.8 808.7,495.3 809.1,496.9 809.6,498.4 810.1,499.9 810.5,501.5 811.0,503.0 811.6,504.6 812.1,506.1 812.6,507.6 813.2,509.0 813.7,510.5 814.3,511.9 814.9,513.3 815.4,514.7 816.0,516.0 816.6,517.4 817.3,518.8 817.9,520.2 818.5,521.6 819.2,523.0 819.8,524.4 820.5,525.8 821.2,527.3 821.8,528.7 822.5,530.1 823.1,531.5 823.8,532.9 824.4,534.3 825.0,535.7 825.6,537.1 826.3,538.5 826.9,539.8 827.5,541.3 828.2,542.7 828.8,544.1 829.5,545.6 830.1,547.0 830.8,548.5 831.5,549.9 832.1,551.4 832.8,552.8 833.5,554.3 834.2,555.7 834.8,557.2 835.5,558.6 836.2,560.1 836.9,561.5 837.5,562.9 838.2,564.3 838.9,565.7 839.5,567.1 840.2,568.5 840.9,569.9 841.6,571.3 842.2,572.7 842.9,574.1 843.6,575.5 844.2,576.9 844.9,578.3 845.6,579.6 846.3,581.0 847.0,582.4 847.6,583.8 848.3,585.1 849.0,586.5 849.7,587.8 850.4,589.1 851.1,590.5 851.8,591.8 852.5,593.1 853.2,594.5 854.0,595.8 854.7,597.1 855.5,598.5 856.3,599.8 857.0,601.2 857.8,602.5 858.6,603.8 859.3,605.1 860.1,606.4 860.9,607.7 861.7,609.0 862.5,610.3 863.3,611.6 864.1,612.9 864.9,614.2 865.7,615.5 866.6,616.8 867.4,618.1 868.3,619.3 869.1,620.6 870.0,621.9 870.8,623.2 871.6,624.5 872.5,625.7 873.3,627.0 874.2,628.3 875.1,629.6 876.0,630.9 876.8,632.2 877.7,633.4 878.6,634.7 879.6,636.0 880.5,637.3 881.4,638.5 882.4,639.8 883.3,641.0 884.3,642.2 885.3,643.4 886.3,644.6 887.3,645.8 888.3,647.0 889.4,648.1 890.5,649.2 891.6,650.4 892.7,651.5 893.8,652.6 895.0,653.6 896.2,654.7 897.3,655.8 898.5,656.8 899.7,657.8 900.9,658.9 902.2,659.9 903.4,660.9 904.6,661.9 905.8,663.0 907.0,664.0 908.2,665.0 909.4,666.0 910.5,667.0 911.7,668.0 912.9,669.0 914.1,670.1 915.2,671.1 916.4,672.2 917.6,673.2 918.8,674.3 920.0,675.4 921.2,676.4 922.4,677.5 923.6,678.5 924.8,679.6 925.9,680.6 927.1,681.7 928.3,682.7 929.4,683.8 930.5,684.8 931.6,685.8 932.7,686.9 933.8,687.9 934.9,689.0 935.9,690.1 937.0,691.2 938.1,692.3 939.1,693.4 940.2,694.6 941.2,695.7 942.2,696.8 943.2,697.9 944.2,699.1 945.2,700.2 946.2,701.3 947.1,702.5 948.1,703.6 949.0,704.7 950.0,705.9 951.0,707.1 952.0,708.3 952.9,709.6 953.9,710.8 954.9,712.1 955.9,713.4 956.9,714.6 957.9,715.9 958.9,717.2 959.8,718.4 960.7,719.7 961.7,721.0 962.6,722.2 963.5,723.5 964.4,724.7 965.3,726.0 966.2,727.2 967.0,728.5 967.9,729.7 968.7,730.9 969.6,732.2 970.4,733.4 971.2,734.7 972.0,736.0 972.7,737.2 973.5,738.6 974.2,739.9 974.9,741.2 975.6,742.6 976.2,744.0 976.9,745.4 977.5,746.8 978.1,748.2 978.7,749.6 979.3,751.0 979.9,752.4 980.5,753.9 981.0,755.3 981.6,756.7 982.1,758.2 982.6,759.6 983.2,761.1 983.7,762.6 984.2,764.1 984.6,765.6 985.1,767.1 985.5,768.6 985.9,770.1 986.3,771.6 986.7,773.1 987.0,774.6 987.3,776.1 987.6,777.6 988.0,779.2 988.2,780.7 988.5,782.3 988.8,783.8 989.1,785.4 989.4,786.9 989.7,788.5 990.0,790.0" stroke="#ff0000" stroke-width="3.6" stroke-dasharray="15 5.5 4 5.5"/>
<path d="M256.3,285.6 256.5,287.2 256.6,288.8 256.8,290.3 257.0,291.9 257.1,293.4 257.3,295.0 257.5,296.6 257.7,298.1 257.8,299.7 258.0,301.3 258.2,302.9 258.4,304.5 258.6,306.0 258.8,307.6 259.0,309.2 259.2,310.8 259.4,312.3 259.7,313.9 259.9,315.4 260.1,317.0 260.3,318.6 260.6,320.2 260.8,321.8 261.1,323.4 261.3,324.9 261.6,326.5 261.8,328.1 262.1,329.6 262.3,331.2 262.5,332.7 262.8,334.3 263.0,335.8 263.3,337.3 263.5,338.9 263.7,340.4 264.0,341.9 264.2,343.4 264.4,344.9 264.7,346.4 264.9,347.9 265.2,349.4 265.5,350.9 265.7,352.4 266.0,353.9 266.3,355.4 266.7,356.9 267.0,358.4 267.3,360.0 267.7,361.5 268.0,363.1 268.4,364.6 268.8,366.2 269.2,367.7 269.6,369.2 270.0,370.7 270.4,372.3 270.9,373.8 271.3,375.2 271.8,376.7 272.2,378.2 272.7,379.6 273.2,381.1 273.7,382.5 274.2,384.0 274.7,385.4 275.3,386.8 275.8,388.3 276.4,389.7 277.0,391.1 277.6,392.5 278.2,393.9 278.8,395.3 279.5,396.7 280.2,398.1 280.9,399.5 281.6,400.8 282.3,402.2 283.0,403.6 283.7,405.0 284.5,406.3 285.3,407.7 286.1,409.0 286.8,410.3 287.7,411.6 288.5,412.9 289.3,414.1 290.2,415.4 291.0,416.6 291.9,417.9 292.9,419.1 293.8,420.3 294.8,421.5 295.7,422.6 296.7,423.8 297.7,424.9 298.7,426.0 299.7,427.1 300.7,428.2 301.7,429.4 302.7,430.5 303.8,431.6 304.9,432.7 305.9,433.9 307.1,435.0 308.2,436.1 309.3,437.2 310.4,438.3 311.6,439.5 312.7,440.6 313.9,441.7 315.0,442.8 316.1,443.9 317.2,445.0 318.3,446.1 319.4,447.2 320.4,448.3 321.5,449.4 322.7,450.5 323.8,451.6 324.9,452.8 326.0,453.9 327.1,455.0 328.2,456.1 329.4,457.2 330.5,458.3 331.6,459.4 332.7,460.5 333.9,461.6 335.0,462.7 336.1,463.7 337.3,464.8 338.4,465.8 339.6,466.9 340.7,467.9 341.9,469.0 343.0,470.0 344.2,471.1 345.4,472.2 346.5,473.3 347.7,474.3 348.8,475.4 350.0,476.5 351.1,477.5 352.2,478.6 353.3,479.6 354.4,480.7 355.5,481.7 356.6,482.8 357.7,483.9 358.9,485.0 360.0,486.1 361.1,487.1 362.3,488.3 363.4,489.4 364.6,490.5 365.7,491.6 366.8,492.7 368.0,493.8 369.1,494.9 370.2,496.0 371.3,497.1 372.4,498.1 373.5,499.2 374.6,500.2 375.7,501.3 376.8,502.4 377.9,503.4 379.0,504.5 380.1,505.6 381.2,506.6 382.3,507.7 383.4,508.8 384.5,509.9 385.6,510.9 386.6,512.0 387.7,513.1 388.7,514.2 389.8,515.3 390.8,516.4 391.8,517.5 392.8,518.6 393.8,519.8 394.8,520.9 395.8,522.1 396.8,523.2 397.8,524.4 398.7,525.6 399.7,526.8 400.7,527.9 401.6,529.1 402.5,530.3 403.4,531.5 404.3,532.7 405.2,533.9 406.1,535.1 407.0,536.3 407.8,537.5 408.7,538.7 409.5,540.0 410.4,541.2 411.2,542.5 412.0,543.8 412.8,545.0 413.6,546.4 414.4,547.7 415.1,549.0 415.9,550.3 416.6,551.6 417.3,553.0 418.1,554.3 418.8,555.6 419.5,557.0 420.2,558.3 420.8,559.7 421.5,561.0 422.2,562.4 422.9,563.7 423.5,565.1 424.2,566.5 424.9,567.9 425.5,569.3 426.1,570.7 426.8,572.1 427.4,573.5 428.0,574.9 428.6,576.3 429.2,577.7 429.8,579.2 430.4,580.6 431.0,582.0 431.7,583.4 432.3,584.8 432.9,586.2 433.5,587.6 434.1,589.0 434.8,590.4 435.4,591.9 436.0,593.3 436.6,594.7 437.3,596.1 437.9,597.5 438.5,598.9 439.1,600.3 439.8,601.7 440.4,603.1 441.0,604.5 441.7,605.9 442.3,607.4 442.9,608.8 443.5,610.2 444.2,611.6 444.8,613.0 445.5,614.4 446.1,615.8 446.8,617.2 447.4,618.6 448.1,620.0 448.7,621.4 449.3,622.8 450.0,624.2 450.6,625.6 451.2,627.1 451.8,628.5 452.3,629.9 452.9,631.4 453.5,632.8 454.0,634.3 454.5,635.7 455.0,637.2 455.5,638.7 456.0,640.2 456.5,641.6 456.9,643.1 457.4,644.6 457.9,646.1 458.4,647.6 458.9,649.2 459.4,650.7 459.9,652.2 460.4,653.7 460.9,655.1 461.4,656.6 462.0,658.0 462.5,659.4 463.0,660.8 463.5,662.3 464.1,663.7 464.6,665.2 465.2,666.6 465.8,668.1 466.3,669.6 466.9,671.0 467.5,672.5 468.0,674.0 468.6,675.5 469.2,677.0 469.7,678.4 470.3,679.9 470.9,681.4 471.4,682.8 472.0,684.3 473.5,684.4 474.9,684.1 476.5,683.5 478.0,683.0 479.5,682.3 480.9,681.6 482.4,680.7 483.8,679.9 485.2,679.0 486.6,678.1 488.0,677.3 489.5,676.4 490.9,675.6 492.3,674.8 493.7,674.0 495.2,673.3 496.6,672.7 498.0,672.1 499.4,671.5 500.8,670.9 502.2,670.4 503.6,669.8 505.1,669.3 506.6,668.7 508.1,668.2 509.6,667.6 511.2,667.0 512.7,666.4 514.3,665.9 515.9,665.4 517.5,665.0 519.2,664.7 520.8,664.4 522.5,664.2 524.2,664.0 526.0,663.9 527.7,663.8 529.0,662.9 530.2,662.0 531.4,660.9 532.5,659.7 533.6,658.4 534.5,657.0 535.4,655.6 536.1,654.1 536.8,652.6 537.4,651.1 538.0,649.6 538.6,648.2 539.1,646.8 539.7,645.3 540.2,643.9 540.8,642.4 541.4,641.0 542.0,639.6 542.6,638.1 543.3,636.7 543.9,635.3 544.6,633.9 545.2,632.5 545.9,631.1 546.6,629.6 547.2,628.2 548.0,626.8 548.7,625.4 549.4,624.0 550.2,622.6 551.0,621.2 551.9,619.8 552.7,618.5 553.6,617.1 554.5,615.7 555.4,614.3 556.3,613.0 557.3,611.6 558.2,610.3 559.1,609.0 560.0,607.7 560.9,606.4 561.7,605.2 562.6,603.9 563.5,602.7 564.4,601.5 565.3,600.3 566.2,599.0 567.1,597.8 568.0,596.4 569.0,595.1 569.9,593.8 570.9,592.4 571.9,591.0 572.8,589.7 573.8,588.4 574.8,587.1 575.8,585.8 576.7,584.6 577.7,583.4 578.7,582.2 579.7,581.1 580.6,579.9 581.7,578.7 582.7,577.5 583.8,576.3 584.8,575.1 585.9,573.9 587.0,572.7 588.2,571.4 589.3,570.2 590.4,569.0 591.5,567.8 592.7,566.5 593.8,565.3 594.9,564.1 596.0,562.8 597.2,561.6 598.3,560.4 599.4,559.3 600.5,558.1 601.6,556.9 602.7,555.8 603.9,554.7 605.0,553.6 606.2,552.5 607.4,551.4 608.7,550.4 610.0,549.3 611.3,548.3 612.6,547.3 613.9,546.4 615.2,545.4 616.6,544.5 617.9,543.5 619.3,542.6 620.6,541.7 622.0,540.9 623.3,540.0 624.6,539.1 625.9,538.2 627.2,537.4 628.5,536.5 629.8,535.6 631.0,534.8 632.3,533.9 633.6,533.0 634.8,532.1 636.1,531.2 637.5,530.2 638.8,529.2 640.2,528.3 641.6,527.3 642.9,526.4 644.3,525.5 645.6,524.6 647.0,523.7 648.3,522.9 649.6,522.1 650.9,521.3 652.2,520.5 653.5,519.7 654.8,518.9 656.1,518.2 657.4,517.4 658.7,516.6 660.0,515.9 661.3,515.1 662.6,514.3 663.9,513.5 665.2,512.7 666.5,511.9 667.8,511.2 669.1,510.4 670.4,509.6 671.7,508.8 673.1,508.1 674.4,507.3 675.7,506.5 677.1,505.8 678.5,505.0 679.8,504.3 681.2,503.5 682.7,502.8 684.1,502.0 685.5,501.3 686.9,500.6 688.4,499.9 689.8,499.2 691.2,498.6 692.6,498.0 694.1,497.4 695.5,496.8 696.9,496.3 698.4,495.8 699.8,495.3 701.2,494.8 702.7,494.3 704.1,493.8 705.5,493.2 707.0,492.6 708.4,492.1 709.8,491.4 711.2,490.8 712.6,490.1 714.0,489.5 715.4,488.8 716.9,488.1 718.3,487.4 719.7,486.7 721.2,486.0 722.6,485.3 724.0,484.6 725.5,483.9 726.9,483.2 728.4,482.5 729.8,481.8 731.3,481.1 732.8,480.4 734.2,479.7 735.7,479.0 737.1,478.3 738.6,477.7 740.1,477.0 741.6,476.4 743.1,475.7 744.6,475.1 746.1,474.5 747.6,473.9 749.1,473.4 750.7,472.8 752.2,472.2 753.6,471.6 755.1,471.0 756.6,470.4 758.0,469.8 759.5,469.3 760.9,468.7 762.3,468.1 763.8,467.5 765.2,466.9 766.6,466.3 768.0,465.7 769.5,465.1 770.9,464.5 772.3,463.9 773.6,463.3 775.0,462.7 776.4,462.1 777.7,461.5 779.1,460.8 780.5,460.2 782.0,459.6 783.4,458.9 784.9,458.3 786.3,457.7 787.6,457.1 789.0,456.5 790.3,455.9 791.6,455.3 793.0,454.7 794.3,454.2 795.7,453.6 797.2,452.9 798.6,452.3 800.1,451.7 801.6,451.1 803.1,450.4 804.6,449.8 806.1,449.1 807.6,448.5 809.0,447.8 810.5,447.2 812.0,446.5 813.5,445.9 814.9,445.2 816.3,444.6 817.7,443.9 819.1,443.3 820.5,442.6 821.9,441.9 823.3,441.2 824.7,440.5 826.2,439.8 827.6,439.1 828.9,438.4 830.3,437.7 831.7,436.9 833.0,436.2 834.4,435.5 835.7,434.8 837.1,434.1 838.5,433.3 839.8,432.6 841.2,431.9 842.6,431.1 844.0,430.4 845.4,429.7 846.8,429.0 848.1,428.3 849.5,427.5 850.9,426.8 852.3,426.1 853.6,425.4 855.0,424.7 856.4,424.0 857.9,423.2 859.3,422.5 860.7,421.8 862.1,421.0 863.5,420.3 864.9,419.6 866.3,418.8 867.7,418.1 869.1,417.4 870.5,416.7 871.9,416.0 873.3,415.3 874.7,414.5 876.1,413.8 877.5,413.1 878.9,412.4 880.3,411.7 881.7,411.0 883.1,410.3 884.5,409.6 885.9,409.0 887.3,408.3 888.7,407.6 890.1,406.9 891.4,406.2 892.8,405.5 894.2,404.8 895.5,404.1 896.9,403.4 898.3,402.7 899.6,401.9 900.9,401.1 902.3,400.3 903.6,399.6 904.9,398.7 906.2,397.9 907.5,397.1 908.8,396.3 910.1,395.4 911.4,394.6 912.7,393.7 914.0,392.8 915.3,391.9 916.6,391.1 917.8,390.2 919.1,389.3 920.3,388.3 921.5,387.4 922.7,386.5 923.9,385.6 925.1,384.7 926.2,383.7 927.4,382.7 928.6,381.7 929.8,380.7 930.9,379.7 932.1,378.6 933.2,377.5 934.4,376.5 935.5,375.4 936.5,374.3 937.6,373.2 938.7,372.1 939.7,371.0 940.8,369.9 941.8,368.7 942.8,367.6 943.9,366.4 944.9,365.3 945.9,364.1 946.9,362.9 947.9,361.7 948.9,360.5 949.8,359.3 950.8,358.0 951.8,356.8 952.7,355.5 953.6,354.3 954.6,353.0 955.5,351.7 956.4,350.5 957.3,349.2 958.2,347.9 959.0,346.6 959.9,345.3 960.7,344.0 961.5,342.7 962.3,341.4 963.1,340.1 963.9,338.7 964.7,337.4 965.5,336.1 966.2,334.7 967.0,333.4 967.7,332.1 968.4,330.7 969.1,329.4 969.8,328.0 970.5,326.7 971.2,325.3 971.8,324.0 972.5,322.6 973.1,321.2 973.7,319.8 974.3,318.4 974.9,316.9 975.5,315.5 976.0,314.0 976.5,312.6 977.1,311.2 977.6,309.7 978.1,308.3 978.5,306.9 979.0,305.5 979.5,304.0 980.0,302.6 980.4,301.1 980.9,299.6 981.4,298.1 981.8,296.5 982.3,295.0 982.7,293.5 983.1,292.0 983.5,290.6 983.9,289.2 984.3,287.7 984.7,286.2 985.1,284.7 985.4,283.1 985.8,281.5 986.2,279.9 986.5,278.2 986.9,276.6 987.2,275.1 987.4,273.5 987.7,272.0 987.9,270.4 988.1,268.9 988.4,267.3 988.6,265.8 988.8,264.2 988.9,262.7 989.1,261.1 989.3,259.6 989.5,258.1 989.6,256.6 989.8,255.1 989.9,253.6 990.0,252.1 990.2,250.6 990.3,249.1 990.5,247.6" stroke="#0000ff" stroke-width="3.6"/>
<path d="M257.5,915.5 257.7,914.0 257.9,912.4 258.1,910.9 258.2,909.4 258.4,907.9 258.6,906.3 258.8,904.8 259.0,903.3 259.2,901.7 259.4,900.2 259.6,898.6 259.8,897.0 260.0,895.5 260.2,893.9 260.4,892.4 260.7,890.8 260.9,889.2 261.1,887.7 261.3,886.1 261.6,884.5 261.8,882.9 262.1,881.3 262.3,879.7 262.5,878.1 262.8,876.5 263.0,875.0 263.3,873.4 263.6,871.9 263.8,870.3 264.1,868.8 264.4,867.2 264.6,865.6 264.9,864.1 265.2,862.5 265.5,861.0 265.8,859.4 266.0,857.9 266.3,856.4 266.7,854.9 267.0,853.3 267.3,851.8 267.6,850.3 268.0,848.7 268.3,847.2 268.7,845.6 269.0,844.1 269.4,842.5 269.8,841.0 270.1,839.4 270.5,837.9 270.9,836.4 271.3,834.8 271.8,833.3 272.2,831.8 272.6,830.3 273.1,828.8 273.5,827.3 274.0,825.8 274.5,824.3 275.0,822.8 275.5,821.4 276.0,819.9 276.5,818.5 277.1,817.0 277.6,815.6 278.2,814.2 278.9,812.8 279.6,811.3 280.3,809.9 281.0,808.5 281.8,807.1 282.6,805.7 283.4,804.4 284.2,803.0 285.0,801.7 285.9,800.3 286.8,799.0 287.7,797.7 288.6,796.4 289.5,795.1 290.4,793.8 291.4,792.5 292.4,791.3 293.4,790.0 294.4,788.8 295.5,787.6 296.5,786.4 297.6,785.3 298.7,784.2 299.8,783.1 300.9,782.0 302.0,781.0 303.1,779.9 304.3,778.9 305.4,777.9 306.6,776.9 307.8,775.9 309.0,774.9 310.2,773.9 311.4,772.8 312.6,771.8 313.9,770.8 315.1,769.8 316.4,768.8 317.6,767.8 318.9,766.8 320.2,765.8 321.4,764.9 322.7,763.9 323.9,763.0 325.2,762.1 326.4,761.2 327.7,760.3 328.9,759.4 330.2,758.6 331.4,757.7 332.7,756.9 334.0,756.0 335.3,755.2 336.6,754.3 337.9,753.5 339.3,752.7 340.6,751.8 342.0,751.0 343.4,750.1 344.8,749.3 346.2,748.5 347.5,747.7 348.9,746.9 350.3,746.1 351.6,745.3 353.0,744.5 354.3,743.7 355.7,743.0 357.1,742.2 358.5,741.4 359.9,740.6 361.2,739.8 362.6,739.1 364.0,738.3 365.3,737.6 366.7,736.9 368.0,736.2 369.4,735.5 370.7,734.8 372.1,734.2 373.4,733.5 374.8,732.8 376.1,732.2 377.5,731.5 378.9,730.8 380.2,730.1 381.6,729.4 383.0,728.7 384.4,728.1 385.8,727.4 387.3,726.7 388.7,726.0 390.1,725.2 391.6,724.5 393.1,723.8 394.5,723.1 396.0,722.3 397.4,721.6 398.8,720.9 400.2,720.1 401.6,719.4 403.0,718.6 404.3,717.9 405.7,717.1 407.0,716.4 408.3,715.6 409.7,714.8 411.0,714.1 412.4,713.3 413.7,712.5 415.0,711.8 416.4,711.0 417.7,710.3 419.1,709.5 420.5,708.8 421.9,708.0 423.4,707.3 424.8,706.5 426.3,705.8 427.8,705.0 429.3,704.3 430.8,703.5 432.3,702.8 433.7,702.1 435.1,701.4 436.5,700.7 437.9,700.1 439.2,699.4 440.6,698.7 442.0,698.0 443.3,697.3 444.6,696.6 446.0,695.9 447.4,695.2 448.7,694.6 450.1,693.9 451.5,693.2 452.9,692.4 454.3,691.7 455.8,691.0 457.2,690.3 458.7,689.6 460.1,688.8 461.6,688.1 463.0,687.3 464.5,686.6 466.0,685.9 467.5,685.2 469.0,684.5 470.5,683.9 472.0,683.2 473.5,682.6 475.1,681.9 476.6,681.2 478.1,680.5 479.6,679.8 481.0,679.1 482.4,678.3 483.8,677.4 485.2,676.6 486.6,675.8 488.0,674.9 489.5,674.0 490.9,673.2 492.3,672.4 493.7,671.6 495.2,670.9 496.6,670.3 498.0,669.6 499.4,669.0 500.8,668.5 502.2,667.9 503.6,667.4 505.1,666.8 506.6,666.2 508.1,665.7 509.6,665.1 511.2,664.5 512.7,664.0 514.3,663.5 515.9,663.0 517.5,662.5 519.2,662.1 520.9,661.8 522.6,661.4 524.3,661.0 526.0,660.6 527.7,660.0 529.3,659.4 530.8,658.7 532.3,657.9 533.8,657.0 535.2,656.2 536.7,655.3 538.1,654.6 539.5,653.8 540.9,653.0 542.4,652.2 543.8,651.5 545.3,650.7 546.8,650.1 548.2,649.4 549.7,648.8 551.1,648.1 552.6,647.5 554.0,646.8 555.5,646.1 556.9,645.4 558.4,644.7 559.8,644.0 561.3,643.2 562.7,642.5 564.2,641.7 565.7,641.0 567.1,640.2 568.6,639.5 570.0,638.7 571.4,638.0 572.8,637.3 574.2,636.6 575.6,636.0 576.9,635.3 578.4,634.6 579.8,633.8 581.2,633.1 582.6,632.4 584.0,631.6 585.4,630.8 586.8,630.1 588.2,629.3 589.5,628.5 590.9,627.7 592.3,626.9 593.7,626.1 595.1,625.3 596.5,624.5 597.9,623.8 599.3,623.0 600.7,622.2 602.1,621.4 603.5,620.7 604.9,619.9 606.3,619.1 607.7,618.3 609.1,617.5 610.5,616.6 611.9,615.8 613.3,614.9 614.7,614.1 616.1,613.2 617.4,612.3 618.8,611.4 620.1,610.5 621.4,609.6 622.7,608.7 624.0,607.8 625.3,606.8 626.5,605.9 627.8,604.9 629.0,604.0 630.3,603.0 631.5,602.0 632.7,601.1 634.0,600.1 635.2,599.1 636.5,598.0 637.7,597.0 638.9,596.0 640.1,594.9 641.3,593.9 642.5,592.7 643.6,591.6 644.8,590.4 645.9,589.3 646.9,588.0 648.0,586.8 649.0,585.5 650.1,584.3 651.1,583.1 652.1,581.9 653.2,580.7 654.3,579.6 655.4,578.5 656.5,577.4 657.6,576.3 658.7,575.1 659.8,574.0 660.8,572.8 661.9,571.5 662.9,570.2 663.8,568.8 664.8,567.5 665.8,566.1 666.8,564.7 667.7,563.4 668.7,562.1 669.7,560.8 670.7,559.6 671.6,558.4 672.6,557.2 673.6,556.1 674.6,554.9 675.6,553.7 676.6,552.4 677.5,551.2 678.5,549.9 679.5,548.5 680.4,547.2 681.3,545.8 682.3,544.5 683.2,543.1 684.2,541.8 685.1,540.5 686.0,539.2 686.9,537.9 687.8,536.6 688.7,535.3 689.5,534.0 690.4,532.8 691.3,531.5 692.2,530.2 693.0,528.9 693.9,527.6 694.8,526.3 695.7,524.9 696.6,523.5 697.5,522.2 698.3,520.8 699.1,519.4 700.0,517.9 700.8,516.5 701.5,515.0 702.3,513.5 703.0,512.0 703.8,510.5 704.5,509.0 705.3,507.5 706.1,506.0 706.9,504.5 707.7,503.0 708.5,501.5 709.3,500.1 710.1,498.6 710.9,497.1 711.6,495.6 712.3,494.1 712.9,492.6 713.6,491.1 714.3,489.6 715.0,488.1 715.8,486.7 716.6,485.4 717.6,484.2 718.6,483.0 719.6,481.8 720.7,480.8 721.8,479.7 723.0,478.7 724.2,477.8 725.8,477.4 727.3,476.9 728.9,476.4 730.4,475.9 732.0,475.4 733.5,474.9 735.1,474.3 736.7,473.8 738.2,473.2 739.7,472.6 741.3,472.1 742.8,471.5 744.3,471.0 745.8,470.4 747.3,469.9 748.9,469.3 750.5,468.7 752.0,468.2 753.6,467.6 755.1,467.0 756.6,466.4 758.1,465.8 759.6,465.2 761.1,464.6 762.5,464.0 764.0,463.4 765.4,462.8 766.8,462.2 768.3,461.6 769.7,461.0 771.2,460.4 772.7,459.8 774.2,459.3 775.8,458.7 777.4,458.1 778.9,457.6 780.5,457.0 781.1,458.5 781.6,460.0 782.2,461.6 782.7,463.1 783.2,464.7 783.7,466.2 784.1,467.8 784.5,469.4 784.8,471.0 785.1,472.6 785.3,474.2 785.5,475.9 785.7,477.5 786.0,479.2 786.3,480.8 786.6,482.4 786.9,484.0 787.3,485.6 787.7,487.1 788.1,488.6 788.6,490.1 789.1,491.6 789.6,493.1 790.2,494.6 790.7,496.1 791.3,497.6 791.9,499.0 792.4,500.5 793.0,501.9 793.6,503.4 794.2,504.8 794.8,506.2 795.5,507.7 796.1,509.1 796.8,510.6 797.4,512.0 798.1,513.5 798.7,514.9 799.3,516.4 800.0,517.8 800.6,519.2 801.2,520.7 801.8,522.1 802.4,523.5 803.1,525.0 803.7,526.4 804.3,527.8 804.9,529.2 805.5,530.7 806.1,532.2 806.8,533.6 807.4,535.0 808.0,536.5 808.6,537.8 809.2,539.2 809.8,540.6 810.4,541.9 811.0,543.3 811.6,544.6 812.2,546.0 812.8,547.4 813.4,548.8 814.0,550.3 814.7,551.7 815.3,553.1 816.0,554.5 816.6,556.0 817.3,557.4 818.0,558.8 818.6,560.2 819.3,561.6 820.0,562.9 820.7,564.3 821.5,565.7 822.2,567.0 822.9,568.4 823.7,569.7 824.5,571.1 825.2,572.4 826.0,573.8 826.8,575.1 827.6,576.4 828.4,577.7 829.2,579.0 830.0,580.4 830.8,581.7 831.6,583.0 832.5,584.3 833.3,585.5 834.1,586.8 834.9,588.1 835.7,589.4 836.5,590.7 837.3,592.0 838.1,593.2 839.0,594.5 839.8,595.8 840.6,597.0 841.4,598.3 842.2,599.5 843.0,600.8 843.9,602.0 844.7,603.3 845.5,604.5 846.4,605.7 847.2,607.0 848.1,608.2 849.0,609.4 849.8,610.7 850.7,611.9 851.6,613.1 852.5,614.3 853.3,615.5 854.2,616.7 855.1,617.9 856.0,619.1 857.0,620.3 857.9,621.4 858.8,622.6 859.7,623.8 860.7,625.0 861.6,626.2 862.5,627.4 863.5,628.5 864.4,629.7 865.4,630.9 866.4,632.1 867.3,633.2 868.3,634.4 869.3,635.6 870.3,636.7 871.3,637.9 872.3,639.1 873.3,640.2 874.3,641.4 875.3,642.6 876.4,643.8 877.4,645.0 878.4,646.1 879.5,647.3 880.5,648.4 881.5,649.6 882.5,650.7 883.5,651.8 884.5,652.9 885.5,653.9 886.5,655.0 887.4,656.1 888.4,657.2 889.5,658.3 890.5,659.3 891.5,660.5 892.5,661.6 893.5,662.6 894.5,663.7 895.5,664.8 896.6,665.8 897.6,666.8 898.6,667.9 899.7,668.9 900.8,669.9 901.9,670.9 903.0,672.0 904.1,672.9 905.3,673.9 906.5,674.9 907.6,675.9 908.8,676.9 910.0,677.9 911.2,678.9 912.4,679.9 913.6,680.9 914.8,681.9 916.0,682.9 917.2,684.0 918.4,685.0 919.5,686.1 920.6,687.1 921.8,688.2 922.9,689.3 924.0,690.3 925.1,691.4 926.2,692.5 927.3,693.6 928.4,694.8 929.5,695.9 930.6,697.0 931.7,698.1 932.7,699.2 933.8,700.4 934.9,701.5 935.9,702.6 937.0,703.8 938.0,704.9 939.0,706.1 940.1,707.2 941.1,708.4 942.1,709.5 943.1,710.7 944.1,711.9 945.1,713.0 946.1,714.2 947.1,715.4 948.0,716.6 949.0,717.7 950.0,718.9 950.9,720.1 951.9,721.4 952.8,722.6 953.7,723.8 954.7,725.0 955.6,726.3 956.5,727.5 957.4,728.8 958.3,730.0 959.2,731.3 960.1,732.5 961.0,733.8 961.8,735.1 962.7,736.4 963.5,737.6 964.3,739.0 965.2,740.3 966.0,741.6 966.8,742.9 967.6,744.2 968.4,745.6 969.2,746.9 969.9,748.3 970.7,749.7 971.4,751.0 972.1,752.4 972.8,753.8 973.4,755.2 974.1,756.6 974.7,758.0 975.3,759.4 975.9,760.8 976.5,762.2 977.0,763.6 977.6,765.1 978.1,766.5 978.6,768.0 979.1,769.4 979.6,770.9 980.1,772.3 980.5,773.8 981.0,775.3 981.4,776.8 981.9,778.3 982.3,779.8 982.7,781.4 983.1,782.9 983.5,784.5 983.9,786.0 984.2,787.6 984.6,789.1 985.0,790.7 985.3,792.2 985.6,793.7 986.0,795.3 986.3,796.8 986.6,798.3 987.0,799.9 987.3,801.4 987.6,802.9 987.9,804.4 988.2,805.9 988.5,807.4 988.8,808.9 989.1,810.5 989.4,812.0 989.7,813.5 990.0,815.0" stroke="#0000ff" stroke-width="3.6" stroke-dasharray="15 5.5 4 5.5"/>
<path d="M257.0,250.1 257.1,251.6 257.2,253.1 257.2,254.6 257.3,256.2 257.3,257.7 257.4,259.2 257.5,260.7 257.5,262.3 257.6,263.8 257.7,265.4 257.8,266.9 257.9,268.5 258.1,270.0 258.2,271.6 258.4,273.1 258.5,274.7 258.7,276.2 258.9,277.8 259.1,279.3 259.3,280.9 259.5,282.5 259.7,284.1 259.9,285.6 260.2,287.2 260.4,288.8 260.6,290.4 260.8,292.0 261.1,293.6 261.3,295.1 261.5,296.7 261.7,298.3 262.0,299.8 262.2,301.4 262.4,303.0 262.7,304.5 262.9,306.1 263.1,307.7 263.4,309.2 263.6,310.8 263.9,312.4 264.1,313.9 264.3,315.5 264.6,317.1 264.8,318.6 265.0,320.2 265.3,321.8 265.5,323.3 265.7,324.9 265.9,326.5 266.1,328.0 266.4,329.6 266.6,331.2 266.8,332.7 267.0,334.3 267.2,335.9 267.5,337.4 267.7,339.0 268.0,340.6 268.2,342.1 268.5,343.7 268.8,345.2 269.1,346.7 269.4,348.2 269.7,349.7 270.1,351.2 270.4,352.7 270.7,354.1 271.1,355.6 271.4,357.1 271.8,358.6 272.1,360.0 272.5,361.5 272.9,363.0 273.3,364.4 273.8,365.9 274.2,367.4 274.6,368.9 275.1,370.3 275.6,371.8 276.1,373.3 276.6,374.8 277.2,376.2 277.7,377.7 278.3,379.2 278.8,380.7 279.4,382.1 280.0,383.6 280.6,385.1 281.3,386.6 281.9,388.0 282.5,389.5 283.2,391.0 283.8,392.4 284.4,393.9 285.1,395.3 285.7,396.8 286.4,398.2 287.1,399.6 287.7,401.1 288.4,402.5 289.1,403.9 289.8,405.4 290.5,406.8 291.2,408.2 291.9,409.6 292.6,411.0 293.3,412.4 294.0,413.8 294.7,415.1 295.5,416.5 296.2,417.8 297.0,419.2 297.7,420.5 298.5,421.9 299.3,423.3 300.2,424.6 301.0,426.0 301.9,427.3 302.7,428.7 303.6,430.0 304.4,431.3 305.3,432.6 306.2,433.9 307.1,435.2 307.9,436.5 308.8,437.8 309.7,439.1 310.5,440.4 311.4,441.7 312.2,442.9 313.1,444.2 313.9,445.5 314.8,446.7 315.6,448.0 316.5,449.3 317.4,450.5 318.3,451.8 319.1,453.0 320.0,454.3 320.9,455.5 321.8,456.8 322.7,458.0 323.7,459.3 324.6,460.5 325.5,461.8 326.5,463.0 327.5,464.3 328.4,465.5 329.4,466.7 330.4,467.9 331.4,469.2 332.3,470.4 333.4,471.7 334.4,472.9 335.4,474.2 336.3,475.4 337.3,476.6 338.3,477.8 339.3,479.0 340.2,480.1 341.2,481.3 342.2,482.5 343.2,483.7 344.2,484.9 345.2,486.1 346.2,487.3 347.2,488.5 348.2,489.8 349.2,491.0 350.2,492.2 351.2,493.5 352.2,494.7 353.2,496.0 354.2,497.2 355.2,498.5 356.1,499.7 357.1,500.9 358.0,502.2 358.9,503.4 359.9,504.6 360.8,505.9 361.7,507.1 362.7,508.4 363.6,509.6 364.6,510.9 365.5,512.2 366.4,513.4 367.3,514.7 368.3,516.0 369.2,517.3 370.1,518.5 371.0,519.8 371.8,521.1 372.7,522.3 373.6,523.6 374.4,524.9 375.3,526.2 376.1,527.5 377.0,528.8 377.8,530.1 378.7,531.4 379.5,532.8 380.3,534.1 381.1,535.4 381.9,536.7 382.7,538.1 383.5,539.4 384.3,540.7 385.0,542.0 385.8,543.3 386.5,544.6 387.3,545.9 388.1,547.3 388.8,548.6 389.6,549.9 390.3,551.2 391.1,552.5 391.8,553.8 392.6,555.2 393.3,556.5 394.1,557.8 394.8,559.2 395.6,560.5 396.3,561.8 397.0,563.1 397.7,564.5 398.5,565.8 399.2,567.1 399.9,568.4 400.6,569.7 401.4,571.1 402.1,572.4 402.8,573.7 403.6,575.0 404.3,576.3 405.0,577.7 405.8,579.0 406.5,580.3 407.2,581.7 408.0,583.0 408.7,584.3 409.5,585.6 410.2,587.0 410.9,588.3 411.7,589.6 412.4,590.9 413.1,592.3 413.9,593.6 414.6,594.9 415.4,596.2 416.1,597.6 416.8,598.9 417.6,600.2 418.3,601.6 419.1,602.9 419.8,604.2 420.6,605.6 421.3,606.9 422.1,608.2 422.8,609.6 423.6,610.9 424.3,612.2 425.0,613.5 425.8,614.9 426.5,616.2 427.2,617.5 427.9,618.9 428.7,620.3 429.4,621.7 430.2,623.1 430.9,624.6 431.7,626.0 432.4,627.5 433.2,628.9 433.9,630.3 434.6,631.8 435.3,633.2 436.0,634.6 436.6,636.0 437.3,637.5 437.9,638.9 438.5,640.3 439.1,641.8 439.6,643.3 440.2,644.8 440.7,646.2 441.2,647.7 441.7,649.2 442.2,650.6 442.7,652.1 443.2,653.5 443.7,655.0 444.2,656.5 444.7,658.0 445.2,659.6 445.7,661.2 446.2,662.7 446.7,664.3 447.2,665.8 447.7,667.3 448.2,668.8 448.8,670.3 449.5,671.8 450.2,673.3 451.1,674.7 452.2,676.0 453.5,677.1 454.8,677.9 456.3,678.3 457.9,678.3 459.5,677.9 461.1,677.2 462.5,676.3 463.9,675.3 465.2,674.2 466.4,673.3 467.5,672.5 468.6,671.7 469.8,671.1 471.0,670.5 472.3,670.0 473.6,669.4 475.1,668.9 476.6,668.3 478.2,667.7 479.8,667.1 481.5,666.5 483.1,666.0 484.8,665.4 486.5,664.8 488.2,664.2 489.8,663.6 491.4,663.1 493.0,662.5 494.5,661.9 496.0,661.4 497.5,660.8 499.0,660.2 500.5,659.6 502.0,659.1 503.5,658.5 505.0,657.9 506.5,657.4 508.0,656.8 509.4,656.2 510.9,655.7 512.3,655.1 513.6,654.6 515.0,654.0 516.3,653.5 517.6,652.9 518.9,652.4 520.3,651.8 521.6,651.2 523.0,650.5 524.3,649.9 525.7,649.2 527.0,648.5 528.4,647.8 529.7,647.1 531.0,646.4 532.4,645.6 533.7,644.9 535.1,644.1 536.5,643.3 537.8,642.5 539.2,641.7 540.6,641.0 541.9,640.3 543.3,639.5 544.7,638.9 546.0,638.2 547.4,637.5 548.7,636.8 550.0,636.1 551.4,635.4 552.7,634.6 554.0,633.7 555.3,632.8 556.6,631.9 557.8,630.9 559.0,629.9 560.2,628.8 561.3,627.7 562.4,626.6 563.4,625.4 564.4,624.2 565.3,622.9 566.2,621.7 567.0,620.4 567.8,619.1 568.6,617.8 569.3,616.4 570.1,615.1 570.8,613.7 571.6,612.3 572.4,610.8 573.2,609.4 574.0,608.0 574.9,606.7 575.9,605.3 576.9,604.0 578.0,602.8 579.1,601.6 580.3,600.3 581.4,599.2 582.6,598.0 583.7,596.8 584.8,595.7 586.0,594.5 587.1,593.4 588.2,592.3 589.3,591.2 590.4,590.1 591.5,589.0 592.7,587.9 593.8,586.8 594.9,585.6 596.0,584.5 597.1,583.4 598.3,582.3 599.4,581.2 600.6,580.1 601.8,579.1 602.9,578.0 604.1,576.9 605.3,575.8 606.5,574.7 607.7,573.7 608.8,572.6 610.0,571.5 611.2,570.4 612.4,569.3 613.5,568.2 614.7,567.2 615.9,566.1 617.0,565.1 618.2,564.1 619.4,563.0 620.6,562.0 621.7,561.0 622.9,560.1 624.1,559.1 625.3,558.1 626.6,557.2 627.8,556.3 629.1,555.4 630.5,554.5 631.8,553.6 633.1,552.7 634.5,551.8 635.8,551.0 637.2,550.1 638.5,549.3 639.9,548.5 641.2,547.7 642.6,547.0 644.0,546.3 645.4,545.6 646.8,544.9 648.3,544.3 649.9,543.6 651.4,542.9 652.8,542.3 654.3,541.6 655.6,540.8 656.9,540.0 658.2,539.1 659.4,538.2 660.7,537.2 661.9,536.2 663.2,535.2 664.5,534.2 665.9,533.2 667.2,532.3 668.6,531.4 669.9,530.6 671.3,529.8 672.6,529.0 673.9,528.3 675.2,527.7 676.6,527.0 678.0,526.4 679.4,525.7 680.8,525.1 682.2,524.5 683.6,523.9 685.1,523.3 686.5,522.7 688.0,522.1 689.4,521.5 690.9,520.9 692.3,520.3 693.7,519.7 695.2,519.1 696.6,518.4 698.1,517.8 699.6,517.2 701.0,516.6 702.5,516.0 704.0,515.5 705.5,514.9 706.9,514.3 708.4,513.7 709.9,513.1 711.4,512.5 712.8,512.0 714.3,511.4 715.8,510.8 717.3,510.2 718.7,509.6 720.2,509.0 721.7,508.5 723.1,507.9 724.6,507.3 726.1,506.7 727.6,506.1 729.1,505.6 730.5,505.0 732.0,504.4 733.5,503.8 735.0,503.2 736.4,502.6 737.9,502.1 739.4,501.5 740.8,500.9 742.3,500.3 743.8,499.6 745.2,499.0 746.6,498.4 748.0,497.8 749.4,497.2 750.8,496.6 752.2,496.0 753.6,495.4 755.0,494.8 756.4,494.2 757.8,493.5 759.2,492.9 760.6,492.3 762.0,491.6 763.4,491.0 764.8,490.4 766.1,489.7 767.5,489.1 768.9,488.4 770.3,487.7 771.7,487.1 773.1,486.4 774.5,485.7 775.9,485.1 777.3,484.4 778.7,483.7 780.1,483.0 781.5,482.3 782.9,481.6 784.2,480.9 785.6,480.2 787.0,479.5 788.4,478.8 789.8,478.1 791.2,477.4 792.6,476.7 793.9,476.0 795.3,475.3 796.7,474.5 798.0,473.8 799.3,473.1 800.7,472.4 802.0,471.7 803.3,471.0 804.6,470.3 805.9,469.6 807.3,468.9 808.6,468.2 809.9,467.5 811.2,466.7 812.5,466.0 813.9,465.2 815.2,464.5 816.5,463.7 817.8,463.0 819.1,462.2 820.4,461.4 821.7,460.6 823.0,459.8 824.3,459.0 825.7,458.2 827.0,457.3 828.3,456.5 829.6,455.6 830.9,454.8 832.1,453.9 833.4,453.1 834.8,452.2 836.1,451.3 837.4,450.4 838.7,449.6 840.0,448.7 841.4,447.8 842.7,446.9 844.0,446.1 845.4,445.2 846.7,444.4 848.0,443.6 849.3,442.8 850.6,442.0 852.0,441.2 853.3,440.4 854.6,439.6 856.0,438.8 857.3,438.0 858.7,437.2 860.1,436.4 861.4,435.6 862.8,434.8 864.1,434.0 865.5,433.2 866.8,432.3 868.2,431.5 869.5,430.7 870.8,429.8 872.1,429.0 873.4,428.1 874.7,427.2 876.0,426.4 877.3,425.5 878.5,424.6 879.8,423.7 881.0,422.8 882.2,421.9 883.5,420.9 884.7,420.0 885.9,419.1 887.1,418.1 888.3,417.2 889.5,416.2 890.7,415.3 891.8,414.3 893.0,413.4 894.2,412.4 895.3,411.4 896.5,410.4 897.7,409.4 898.8,408.4 900.0,407.4 901.1,406.4 902.3,405.4 903.4,404.3 904.6,403.3 905.7,402.2 906.9,401.2 908.0,400.1 909.2,399.0 910.3,397.9 911.4,396.8 912.6,395.6 913.7,394.5 914.8,393.4 915.9,392.3 917.0,391.2 918.1,390.0 919.2,388.9 920.3,387.8 921.3,386.7 922.4,385.6 923.4,384.5 924.4,383.5 925.4,382.4 926.5,381.3 927.5,380.2 928.5,379.0 929.6,377.9 930.6,376.8 931.7,375.6 932.7,374.4 933.7,373.3 934.7,372.2 935.7,371.0 936.7,369.9 937.6,368.7 938.6,367.6 939.5,366.4 940.5,365.2 941.4,364.0 942.3,362.8 943.2,361.6 944.1,360.4 945.0,359.2 945.9,358.0 946.7,356.8 947.6,355.6 948.4,354.4 949.3,353.1 950.1,351.9 951.0,350.6 951.8,349.3 952.6,348.0 953.4,346.7 954.3,345.5 955.1,344.2 955.8,342.8 956.6,341.5 957.4,340.2 958.2,338.9 958.9,337.5 959.7,336.1 960.4,334.8 961.2,333.4 961.9,332.0 962.7,330.5 963.4,329.1 964.1,327.7 964.8,326.3 965.5,324.9 966.1,323.5 966.8,322.1 967.5,320.7 968.1,319.3 968.7,317.9 969.3,316.5 970.0,315.1 970.6,313.7 971.2,312.2 971.8,310.8 972.4,309.4 972.9,307.9 973.5,306.5 974.0,305.1 974.5,303.7 975.1,302.3 975.6,300.8 976.0,299.4 976.5,298.0 977.0,296.5 977.4,295.1 977.9,293.6 978.3,292.1 978.7,290.6 979.2,289.0 979.6,287.5 979.9,286.0 980.3,284.4 980.7,282.9 981.0,281.3 981.4,279.8 981.7,278.2 982.1,276.7 982.5,275.1 982.8,273.6 983.2,272.1 983.5,270.5 983.9,269.0 984.2,267.4 984.6,265.9 984.9,264.3 985.2,262.8 985.5,261.3 985.8,259.8 986.1,258.3 986.4,256.7 986.7,255.2 987.0,253.6 987.2,252.0 987.5,250.5 987.7,248.8 987.9,247.2 988.1,245.6 988.3,244.0 988.5,242.4 988.6,240.8 988.8,239.2 989.0,237.6 989.1,236.0 989.3,234.4 989.4,232.8 989.6,231.2 989.7,229.6 989.8,228.0 990.0,226.4 990.1,224.8 990.2,223.2 990.3,221.6 990.5,220.0" stroke="#009100" stroke-width="3.6"/>
<path d="M261.3,913.0 261.5,911.5 261.7,909.9 261.9,908.4 262.0,906.9 262.2,905.4 262.4,903.8 262.6,902.3 262.8,900.8 263.0,899.2 263.2,897.7 263.4,896.1 263.6,894.6 263.8,893.1 264.0,891.6 264.2,890.0 264.5,888.5 264.7,887.0 264.9,885.5 265.2,884.0 265.4,882.5 265.7,880.9 265.9,879.4 266.2,877.9 266.5,876.4 266.7,874.9 267.0,873.4 267.3,871.8 267.6,870.3 268.0,868.8 268.3,867.2 268.7,865.7 269.0,864.1 269.4,862.5 269.8,861.0 270.2,859.4 270.6,857.9 271.0,856.3 271.4,854.8 271.8,853.3 272.2,851.8 272.6,850.3 273.0,848.8 273.4,847.3 273.8,845.8 274.2,844.3 274.6,842.9 275.0,841.4 275.4,839.9 275.8,838.5 276.3,837.1 276.7,835.6 277.2,834.2 277.7,832.7 278.2,831.2 278.8,829.7 279.3,828.3 279.9,826.8 280.5,825.3 281.2,823.8 281.8,822.3 282.4,820.8 283.1,819.4 283.7,818.0 284.4,816.5 285.0,815.1 285.7,813.8 286.3,812.4 287.0,811.0 287.6,809.6 288.3,808.3 289.0,806.9 289.7,805.5 290.4,804.2 291.2,802.8 291.9,801.5 292.6,800.2 293.4,798.9 294.2,797.6 294.9,796.3 295.7,795.0 296.5,793.7 297.4,792.5 298.2,791.2 299.0,790.0 299.9,788.8 300.8,787.6 301.8,786.4 302.7,785.2 303.7,784.0 304.8,782.8 305.9,781.6 307.0,780.5 308.2,779.3 309.3,778.2 310.5,777.1 311.7,776.0 312.8,774.9 314.0,773.8 315.2,772.7 316.3,771.7 317.5,770.6 318.6,769.6 319.7,768.5 320.9,767.5 322.0,766.5 323.1,765.5 324.3,764.5 325.4,763.4 326.6,762.4 327.7,761.4 328.9,760.3 330.0,759.3 331.2,758.3 332.4,757.2 333.6,756.2 334.7,755.1 335.9,754.1 337.0,753.1 338.1,752.0 339.2,751.0 340.3,750.0 341.3,749.0 342.4,747.9 343.4,746.9 344.5,745.8 345.5,744.8 346.6,743.7 347.6,742.7 348.7,741.7 349.8,740.7 350.9,739.6 352.0,738.6 353.1,737.6 354.2,736.6 355.4,735.5 356.6,734.5 357.8,733.5 359.0,732.4 360.2,731.5 361.4,730.5 362.6,729.5 363.9,728.5 365.1,727.6 366.4,726.7 367.6,725.7 368.9,724.8 370.2,723.8 371.5,722.9 372.8,722.0 374.0,721.0 375.3,720.1 376.5,719.1 377.8,718.2 379.0,717.2 380.3,716.3 381.5,715.3 382.8,714.4 384.0,713.4 385.3,712.5 386.5,711.6 387.8,710.6 389.0,709.7 390.3,708.8 391.5,708.0 392.8,707.1 394.0,706.2 395.3,705.4 396.5,704.5 397.8,703.7 399.0,702.9 400.3,702.1 401.5,701.2 402.8,700.4 404.1,699.6 405.4,698.8 406.7,697.9 408.0,697.1 409.3,696.3 410.7,695.4 412.0,694.6 413.4,693.8 414.8,692.9 416.2,692.1 417.5,691.2 418.9,690.4 420.2,689.6 421.6,688.8 422.9,688.0 424.2,687.2 425.5,686.4 426.8,685.6 428.1,684.8 429.4,684.0 430.7,683.2 432.1,682.4 433.4,681.6 434.8,680.8 436.2,680.0 437.6,679.3 438.9,678.5 440.3,677.8 441.7,677.1 443.1,676.4 444.4,675.8 445.8,675.2 447.2,674.5 448.6,673.9 450.0,673.3 451.4,672.7 452.8,672.1 454.2,671.5 455.6,670.9 457.1,670.3 458.5,669.7 459.9,669.0 461.3,668.4 462.7,667.7 464.1,667.0 465.5,666.3 466.9,665.6 468.3,664.8 469.7,664.0 471.1,663.2 472.5,662.4 473.9,661.5 475.3,660.7 476.7,659.8 478.1,658.9 479.5,658.1 480.8,657.2 482.2,656.4 483.5,655.6 484.8,654.8 486.2,654.1 487.5,653.4 488.8,652.7 490.2,652.0 491.6,651.4 493.0,650.8 494.4,650.2 495.9,649.6 497.3,649.1 498.7,648.6 500.1,648.1 501.5,647.6 502.9,647.1 504.3,646.6 505.8,646.0 507.2,645.4 508.7,644.8 510.1,644.1 511.6,643.4 513.1,642.7 514.5,642.0 515.9,641.3 517.3,640.7 518.7,640.0 520.2,639.4 521.7,638.7 523.1,638.1 524.7,637.5 526.2,636.8 527.7,636.1 529.2,635.5 530.6,634.8 532.0,634.1 533.4,633.4 534.7,632.7 536.1,631.9 537.5,631.2 539.0,630.5 540.5,629.7 542.0,629.0 543.5,628.2 545.1,627.5 546.7,626.8 548.2,626.2 549.8,625.5 551.3,624.9 552.9,624.2 554.5,623.6 556.0,622.9 557.6,622.2 559.1,621.5 560.6,620.7 562.1,619.9 563.6,619.2 565.0,618.4 566.4,617.6 567.7,616.8 569.1,616.0 570.4,615.2 571.8,614.4 573.2,613.7 574.6,612.9 576.0,612.1 577.4,611.4 578.8,610.6 580.2,609.9 581.6,609.1 583.1,608.4 584.5,607.7 586.0,606.9 587.5,606.2 589.0,605.5 590.5,604.8 592.0,604.0 593.5,603.4 594.9,602.7 596.4,602.0 597.8,601.3 599.1,600.6 600.5,600.0 601.8,599.3 603.2,598.6 604.5,597.8 605.9,597.0 607.2,596.2 608.5,595.3 609.9,594.4 611.2,593.5 612.6,592.6 613.9,591.7 615.3,590.8 616.6,589.9 617.9,589.1 619.3,588.2 620.6,587.2 621.9,586.3 623.2,585.4 624.4,584.5 625.6,583.5 626.8,582.5 628.0,581.6 629.2,580.6 630.4,579.6 631.5,578.6 632.7,577.6 633.9,576.6 635.1,575.6 636.3,574.7 637.5,573.7 638.6,572.7 639.8,571.7 641.0,570.7 642.1,569.6 643.3,568.6 644.4,567.5 645.5,566.4 646.6,565.3 647.7,564.2 648.8,563.0 649.9,561.8 651.1,560.6 652.2,559.4 653.3,558.2 654.4,556.9 655.5,555.7 656.6,554.4 657.6,553.1 658.6,551.8 659.5,550.5 660.5,549.2 661.3,547.9 662.2,546.6 663.2,545.2 664.1,543.9 665.0,542.5 665.9,541.2 666.8,539.9 667.8,538.7 668.7,537.4 669.6,536.2 670.6,535.0 671.6,533.7 672.6,532.4 673.6,531.2 674.6,529.9 675.5,528.6 676.5,527.4 677.4,526.2 678.4,525.0 679.3,523.8 680.2,522.6 681.1,521.3 682.0,520.1 682.8,518.9 683.8,517.6 684.7,516.4 685.6,515.2 686.6,514.1 687.6,513.0 688.7,512.0 689.9,511.0 691.1,510.1 692.3,509.2 693.6,508.4 694.9,507.5 696.3,506.7 697.6,505.9 698.9,505.1 700.2,504.3 701.6,503.5 702.9,502.6 704.3,501.7 705.7,500.8 707.1,500.0 708.5,499.1 710.0,498.2 711.4,497.3 712.8,496.5 714.2,495.8 715.6,495.0 717.0,494.3 718.4,493.7 719.7,493.0 721.1,492.5 722.4,491.9 723.7,491.3 724.9,490.8 726.2,490.3 727.6,489.7 729.0,489.2 730.4,488.6 731.9,488.0 733.4,487.4 734.9,486.8 736.4,486.2 737.9,485.6 739.4,485.0 740.9,484.4 742.4,483.9 743.9,483.3 745.4,482.7 746.8,482.1 748.3,481.5 749.9,480.9 751.4,480.3 752.9,479.6 754.5,479.0 756.0,478.4 757.5,477.8 759.1,477.2 760.6,476.6 762.1,476.0 763.5,475.4 764.9,474.8 766.3,474.3 767.7,473.7 769.2,473.1 770.7,472.6 772.3,472.0 773.8,471.4 775.4,470.9 777.0,470.3 778.6,469.7 780.0,469.1 781.5,468.4 782.8,467.7 784.1,467.0 785.4,466.2 786.8,465.4 788.3,464.6 789.8,464.1 791.3,463.9 792.8,464.1 794.3,464.5 795.6,465.3 796.8,466.4 797.7,467.7 798.5,469.1 799.1,470.6 799.6,472.0 800.1,473.5 800.5,475.0 801.0,476.5 801.4,478.0 801.9,479.5 802.3,481.0 802.7,482.5 803.2,484.1 803.6,485.6 804.1,487.2 804.6,488.8 805.1,490.3 805.6,491.8 806.1,493.3 806.6,494.8 807.2,496.3 807.7,497.7 808.2,499.2 808.8,500.7 809.4,502.1 810.0,503.6 810.6,505.1 811.2,506.6 811.9,508.0 812.5,509.5 813.2,510.9 813.9,512.3 814.5,513.7 815.2,515.1 815.9,516.4 816.6,517.8 817.4,519.1 818.1,520.5 818.8,521.8 819.6,523.2 820.3,524.5 821.1,525.8 821.8,527.1 822.6,528.4 823.3,529.8 824.0,531.1 824.8,532.4 825.5,533.6 826.3,534.9 827.0,536.2 827.8,537.5 828.5,538.8 829.3,540.0 830.0,541.3 830.8,542.7 831.6,544.0 832.3,545.3 833.1,546.6 833.8,548.0 834.6,549.3 835.3,550.6 836.0,551.9 836.7,553.2 837.5,554.6 838.2,556.0 838.9,557.3 839.7,558.8 840.5,560.2 841.2,561.6 842.0,563.0 842.8,564.5 843.6,565.9 844.3,567.3 845.1,568.8 845.9,570.2 846.7,571.5 847.4,572.9 848.2,574.3 849.0,575.7 849.8,577.0 850.5,578.4 851.3,579.7 852.1,581.0 852.9,582.4 853.7,583.7 854.5,585.1 855.3,586.4 856.1,587.7 856.9,589.0 857.7,590.3 858.5,591.6 859.3,592.9 860.1,594.2 860.9,595.5 861.7,596.8 862.5,598.1 863.3,599.4 864.1,600.7 864.9,602.0 865.8,603.3 866.6,604.5 867.4,605.8 868.2,607.1 869.1,608.3 869.9,609.6 870.7,610.8 871.6,612.1 872.4,613.3 873.2,614.6 874.1,615.8 874.9,617.0 875.8,618.3 876.6,619.5 877.5,620.7 878.4,622.0 879.2,623.2 880.1,624.5 881.0,625.7 882.0,627.0 882.9,628.2 883.8,629.5 884.7,630.7 885.6,631.9 886.5,633.2 887.5,634.4 888.4,635.6 889.4,636.9 890.3,638.2 891.3,639.4 892.3,640.7 893.2,641.9 894.2,643.1 895.1,644.3 896.1,645.5 897.0,646.7 898.0,647.9 899.0,649.1 900.0,650.3 901.0,651.5 902.0,652.7 903.0,654.0 904.0,655.2 905.0,656.4 906.0,657.6 907.0,658.8 907.9,660.0 908.9,661.2 909.8,662.4 910.7,663.6 911.7,664.7 912.6,666.0 913.5,667.2 914.4,668.4 915.3,669.7 916.3,670.9 917.2,672.2 918.1,673.5 918.9,674.8 919.8,676.0 920.7,677.3 921.5,678.5 922.4,679.8 923.3,681.1 924.1,682.4 925.0,683.6 925.8,684.9 926.7,686.1 927.5,687.4 928.4,688.6 929.2,689.9 930.1,691.1 930.9,692.3 931.8,693.6 932.6,694.8 933.5,696.1 934.3,697.4 935.2,698.7 936.0,699.9 936.8,701.2 937.7,702.5 938.5,703.8 939.3,705.1 940.1,706.3 940.9,707.6 941.7,708.9 942.5,710.2 943.2,711.6 944.0,712.9 944.8,714.2 945.5,715.6 946.3,716.9 947.0,718.2 947.7,719.5 948.5,720.9 949.2,722.2 949.9,723.5 950.6,724.9 951.3,726.2 952.0,727.5 952.7,728.9 953.5,730.2 954.2,731.6 954.9,733.0 955.7,734.4 956.4,735.9 957.2,737.3 957.9,738.8 958.6,740.2 959.3,741.6 960.0,743.0 960.7,744.5 961.4,745.9 962.1,747.3 962.8,748.8 963.5,750.2 964.2,751.6 964.8,753.1 965.5,754.5 966.1,755.9 966.8,757.4 967.4,758.8 968.0,760.3 968.7,761.7 969.3,763.1 969.9,764.5 970.5,766.0 971.1,767.4 971.6,768.8 972.2,770.3 972.8,771.7 973.3,773.2 973.9,774.6 974.4,776.1 975.0,777.5 975.5,779.0 976.0,780.4 976.5,781.9 977.0,783.3 977.5,784.8 978.0,786.2 978.5,787.7 978.9,789.2 979.4,790.6 979.9,792.1 980.3,793.6 980.7,795.1 981.2,796.6 981.6,798.0 982.0,799.5 982.4,801.0 982.8,802.4 983.1,803.9 983.5,805.4 983.9,806.8 984.2,808.3 984.5,809.8 984.9,811.3 985.2,812.7 985.5,814.2 985.8,815.7 986.1,817.2 986.4,818.7 986.7,820.2 986.9,821.7 987.2,823.2 987.5,824.7 987.7,826.2 988.0,827.7 988.2,829.2 988.5,830.8 988.7,832.3 989.0,833.8 989.2,835.4 989.5,836.9 989.7,838.5 990.0,840.0" stroke="#009100" stroke-width="3.6" stroke-dasharray="15 5.5 4 5.5"/>
<path d="M256.5,877.9 256.6,876.3 256.6,874.7 256.7,873.0 256.8,871.4 256.9,869.8 257.0,868.2 257.1,866.6 257.3,864.9 257.4,863.4 257.6,861.8 257.7,860.2 257.9,858.5 258.1,856.9 258.2,855.2 258.4,853.6 258.6,852.0 258.8,850.3 259.0,848.7 259.2,847.2 259.4,845.6 259.6,844.0 259.8,842.4 260.0,840.9 260.3,839.3 260.5,837.7 260.8,836.1 261.0,834.5 261.3,833.0 261.6,831.4 261.9,829.9 262.1,828.4 262.4,826.9 262.7,825.4 263.1,823.8 263.4,822.3 263.7,820.8 264.1,819.2 264.4,817.7 264.8,816.2 265.1,814.7 265.5,813.2 265.9,811.7 266.4,810.2 266.8,808.7 267.2,807.1 267.7,805.6 268.2,804.1 268.7,802.5 269.2,801.0 269.7,799.6 270.2,798.1 270.8,796.7 271.4,795.3 272.1,794.0 272.8,792.6 273.6,791.3 274.4,789.9 275.3,788.6 276.2,787.4 277.2,786.2 278.2,785.0 279.2,783.8 280.3,782.7 281.4,781.6 282.5,780.6 283.7,779.5 284.9,778.5 286.2,777.5 287.4,776.5 288.6,775.6 289.8,774.6 291.1,773.6 292.3,772.7 293.5,771.7 294.8,770.7 296.1,769.7 297.4,768.8 298.7,767.9 300.0,766.9 301.4,766.1 302.7,765.2 304.1,764.4 305.4,763.6 306.8,762.9 308.2,762.1 309.6,761.5 311.0,760.8 312.4,760.1 313.9,759.5 315.3,758.9 316.8,758.3 318.3,757.8 319.9,757.2 321.4,756.7 323.0,756.2 324.6,755.6 326.1,755.1 327.7,754.6 329.3,754.0 330.8,753.5 332.4,752.9 334.0,752.4 335.5,751.8 337.1,751.2 338.6,750.7 340.2,750.1 341.8,749.5 343.3,749.0 344.9,748.4 346.4,747.8 348.0,747.3 349.6,746.7 351.1,746.2 352.7,745.6 354.3,745.1 355.8,744.5 357.4,744.0 358.9,743.5 360.5,743.0 362.1,742.4 363.6,741.9 365.2,741.5 366.7,741.0 368.2,740.5 369.7,740.1 371.2,739.7 372.7,739.2 374.2,738.8 375.8,738.4 377.3,738.0 378.8,737.5 380.3,737.1 381.8,736.6 383.3,736.2 384.8,735.7 386.2,735.3 387.7,734.8 389.2,734.4 390.7,733.9 392.2,733.5 393.7,733.1 395.2,732.6 396.7,732.2 398.1,731.8 399.6,731.5 401.0,731.1 402.5,730.7 404.0,730.3 405.4,729.9 406.9,729.6 408.4,729.2 409.9,728.8 411.3,728.5 412.8,728.1 414.2,727.8 415.6,727.4 417.0,727.1 418.4,726.7 419.8,726.4 421.3,726.0 422.7,725.7 424.2,725.3 425.7,725.0 427.2,724.6 428.6,724.2 430.1,723.9 431.5,723.5 432.9,723.2 434.3,722.8 435.7,722.5 437.0,722.1 438.4,721.8 439.9,721.4 441.3,721.1 442.8,720.7 444.3,720.3 445.8,719.9 447.4,719.5 448.9,719.2 450.4,718.8 452.0,718.4 453.5,718.0 455.1,717.6 456.6,717.3 458.1,716.9 459.6,716.5 461.1,716.2 462.6,715.8 464.1,715.4 465.6,715.1 467.1,714.7 468.6,714.4 470.1,714.0 471.6,713.7 473.1,713.3 474.6,713.0 476.0,712.6 477.5,712.3 479.0,712.0 480.5,711.6 481.9,711.3 483.4,711.0 484.9,710.6 486.4,710.3 488.0,710.0 489.5,709.6 491.1,709.3 492.7,709.0 494.2,708.7 495.7,708.4 497.2,708.1 498.7,707.8 500.1,707.5 501.5,707.3 502.9,707.0 504.4,706.8 505.8,706.6 507.3,706.3 508.8,706.1 510.3,705.8 511.8,705.6 513.3,705.4 514.8,705.1 516.3,704.9 517.9,704.6 519.4,704.4 521.0,704.2 522.5,703.9 524.0,703.7 525.6,703.4 527.1,703.1 528.7,702.9 530.2,702.6 531.7,702.4 533.2,702.1 534.7,701.8 536.2,701.5 537.7,701.2 539.2,700.9 540.6,700.6 542.1,700.3 543.6,700.0 545.1,699.6 546.5,699.2 548.0,698.9 549.5,698.5 551.0,698.0 552.5,697.6 554.0,697.2 555.4,696.8 556.9,696.3 558.4,695.9 559.8,695.4 561.3,695.0 562.7,694.5 564.1,694.1 565.6,693.6 567.0,693.2 568.4,692.7 569.9,692.3 571.3,691.9 572.7,691.4 574.1,691.0 575.5,690.6 576.9,690.2 578.4,689.8 579.8,689.4 581.2,689.1 582.7,688.7 584.2,688.4 585.7,688.0 587.2,687.7 588.7,687.4 590.2,687.1 591.7,686.8 593.2,686.5 594.7,686.3 596.2,686.0 597.7,685.8 599.2,685.5 600.6,685.3 602.1,685.0 603.6,684.7 605.1,684.5 606.6,684.2 608.2,683.9 609.7,683.6 611.2,683.3 612.7,683.0 614.3,682.7 615.8,682.4 617.3,682.0 618.8,681.6 620.2,681.3 621.7,680.9 623.1,680.5 624.6,680.1 626.1,679.7 627.5,679.3 629.0,678.9 630.5,678.5 632.0,678.0 633.4,677.6 634.9,677.2 636.4,676.7 637.9,676.3 639.4,675.8 640.9,675.4 642.4,674.9 644.0,674.4 645.5,674.0 647.0,673.5 648.5,673.1 649.9,672.6 651.4,672.1 652.9,671.7 654.4,671.3 655.9,670.8 657.4,670.4 658.9,669.9 660.3,669.5 661.8,669.1 663.4,668.6 664.9,668.2 666.4,667.8 668.0,667.3 669.5,666.9 671.0,666.5 672.6,666.1 674.1,665.6 675.7,665.2 677.2,664.8 678.7,664.4 680.3,663.9 681.8,663.5 683.3,663.1 684.8,662.7 686.3,662.2 687.8,661.8 689.3,661.4 690.7,661.0 692.1,660.5 693.6,660.1 695.0,659.7 696.3,659.2 697.7,658.8 699.1,658.3 700.6,657.8 702.0,657.3 703.5,656.8 704.9,656.3 706.4,655.8 707.8,655.3 709.2,654.8 710.6,654.2 712.0,653.7 713.4,653.2 714.7,652.7 716.1,652.1 717.4,651.6 718.8,651.0 720.1,650.4 721.5,649.8 722.8,649.2 724.2,648.5 725.5,647.9 726.9,647.2 728.2,646.5 729.6,645.8 731.0,645.1 732.3,644.4 733.7,643.7 735.1,642.9 736.4,642.1 737.8,641.4 739.1,640.6 740.5,639.8 741.8,639.0 743.1,638.1 744.4,637.3 745.6,636.4 746.9,635.6 748.1,634.7 749.3,633.8 750.5,632.8 751.6,631.8 752.8,630.8 753.9,629.8 755.0,628.8 756.1,627.7 757.1,626.6 758.2,625.5 759.2,624.3 760.2,623.2 761.2,622.1 762.2,621.0 763.2,619.8 764.2,618.7 765.1,617.6 766.1,616.5 767.2,615.4 768.2,614.4 769.3,613.3 770.4,612.2 771.5,611.1 772.6,610.0 773.7,609.0 774.8,607.9 775.9,606.9 777.0,605.8 778.1,604.8 779.1,603.7 780.1,602.6 781.1,601.6 782.1,600.4 783.1,599.3 784.0,598.1 785.0,596.9 785.9,595.7 786.8,594.5 787.6,593.3 788.5,592.0 789.3,590.8 790.1,589.5 790.8,588.2 791.6,586.9 792.3,585.6 793.1,584.2 793.8,582.9 794.5,581.5 795.1,580.1 795.8,578.7 796.4,577.3 797.1,575.9 797.7,574.4 798.3,572.9 798.9,571.4 799.4,569.9 800.0,568.4 800.5,567.0 801.0,565.5 801.5,564.1 802.0,562.6 802.5,561.2 803.0,559.7 803.4,558.3 803.9,556.8 804.3,555.3 804.8,553.8 805.2,552.3 805.7,550.7 806.1,549.2 806.5,547.7 806.9,546.2 807.3,544.7 807.7,543.2 808.1,541.8 808.5,540.3 808.9,538.8 809.2,537.3 809.6,535.8 809.9,534.3 810.3,532.9 810.6,531.4 811.0,529.9 811.3,528.4 811.6,526.9 811.9,525.4 812.3,523.9 812.6,522.4 812.9,520.8 813.2,519.3 813.4,517.8 813.7,516.4 814.0,514.9 814.3,513.4 814.5,511.9 814.8,510.4 815.1,508.9 815.3,507.4 815.6,505.8 815.8,504.3 816.1,502.8 816.3,501.2 816.6,499.7 816.8,498.2 817.0,496.6 817.3,495.1 817.5,493.6 817.7,492.1 818.0,490.6 818.2,489.0 818.4,487.5 818.7,485.9 818.9,484.2 819.1,482.6 819.3,480.9 819.5,479.3 819.7,477.6 819.9,476.0 820.1,474.4 820.3,472.8 820.5,471.3 820.8,469.8 821.0,468.3 821.3,466.9 821.7,465.4 822.1,463.9 822.5,462.4 823.0,461.0 823.5,459.5 824.0,458.0 824.6,456.6 825.2,455.2 825.7,453.8 826.3,452.4 826.9,451.0 827.5,452.4 828.0,453.8 828.6,455.2 829.1,456.6 829.7,458.0 830.2,459.5 830.8,461.0 831.3,462.4 831.8,463.8 832.2,465.3 832.6,466.7 833.0,468.1 833.4,469.5 833.8,470.9 834.1,472.4 834.5,473.9 834.8,475.4 835.2,476.9 835.6,478.5 835.9,480.0 836.3,481.6 836.7,483.1 837.0,484.6 837.4,486.2 837.8,487.7 838.2,489.2 838.6,490.7 839.0,492.1 839.4,493.6 839.9,495.0 840.3,496.5 840.7,498.0 841.1,499.4 841.6,500.9 842.0,502.3 842.5,503.8 842.9,505.2 843.4,506.7 843.8,508.2 844.3,509.7 844.7,511.2 845.2,512.6 845.7,514.1 846.1,515.5 846.6,517.0 847.0,518.4 847.5,519.8 848.0,521.2 848.4,522.6 848.9,524.1 849.4,525.5 849.9,526.9 850.3,528.4 850.8,529.8 851.3,531.3 851.8,532.7 852.3,534.2 852.8,535.6 853.3,537.1 853.8,538.5 854.2,540.0 854.7,541.4 855.2,542.9 855.7,544.3 856.2,545.7 856.6,547.2 857.1,548.6 857.6,550.0 858.0,551.5 858.5,552.9 859.0,554.3 859.4,555.7 859.9,557.2 860.4,558.6 860.8,560.0 861.3,561.5 861.8,562.9 862.3,564.3 862.8,565.8 863.3,567.2 863.8,568.6 864.3,570.0 864.8,571.5 865.3,572.9 865.8,574.3 866.4,575.8 866.9,577.2 867.4,578.7 868.0,580.1 868.6,581.6 869.1,583.0 869.7,584.5 870.3,586.0 870.8,587.4 871.4,588.9 872.0,590.3 872.6,591.8 873.2,593.2 873.8,594.6 874.4,596.1 875.1,597.5 875.7,598.9 876.3,600.3 877.0,601.7 877.7,603.0 878.3,604.4 879.1,605.8 879.8,607.2 880.5,608.6 881.3,609.9 882.0,611.3 882.8,612.6 883.6,614.0 884.3,615.3 885.1,616.6 885.9,618.0 886.7,619.3 887.6,620.6 888.4,621.9 889.2,623.1 890.0,624.4 890.8,625.7 891.7,626.9 892.5,628.2 893.4,629.5 894.2,630.8 895.1,632.1 896.0,633.3 896.9,634.6 897.8,635.9 898.7,637.2 899.6,638.5 900.6,639.7 901.5,641.0 902.4,642.2 903.4,643.4 904.3,644.7 905.3,645.9 906.3,647.1 907.3,648.3 908.3,649.5 909.3,650.6 910.4,651.8 911.4,652.9 912.5,654.1 913.6,655.2 914.7,656.3 915.8,657.4 916.9,658.6 918.0,659.7 919.1,660.8 920.3,661.9 921.4,663.0 922.5,664.1 923.6,665.2 924.8,666.3 925.9,667.4 927.0,668.5 928.1,669.6 929.2,670.7 930.4,671.9 931.5,673.0 932.6,674.1 933.8,675.2 934.9,676.3 936.0,677.4 937.2,678.6 938.3,679.7 939.4,680.8 940.5,681.9 941.6,683.0 942.7,684.2 943.8,685.3 944.9,686.4 945.9,687.6 947.0,688.7 948.0,689.9 949.1,691.0 950.2,692.2 951.2,693.4 952.2,694.6 953.3,695.8 954.3,696.9 955.3,698.1 956.2,699.3 957.2,700.4 958.1,701.6 959.1,702.8 960.0,704.0 960.9,705.2 961.8,706.4 962.8,707.6 963.6,708.9 964.5,710.1 965.4,711.4 966.2,712.6 967.1,713.8 967.9,715.1 968.7,716.3 969.5,717.6 970.2,718.9 971.0,720.2 971.7,721.5 972.5,722.8 973.2,724.1 973.9,725.5 974.6,726.8 975.3,728.2 976.0,729.5 976.6,730.9 977.2,732.3 977.9,733.7 978.5,735.1 979.1,736.6 979.7,738.0 980.2,739.5 980.8,741.0 981.3,742.5 981.9,744.1 982.4,745.6 982.9,747.1 983.4,748.5 983.8,750.0 984.3,751.5 984.8,753.0 985.2,754.5 985.6,756.1 986.0,757.7 986.4,759.3 986.8,760.9 987.1,762.5 987.4,764.0 987.7,765.6 988.0,767.2 988.2,768.7 988.5,770.3 988.8,771.9 989.0,773.5 989.3,775.1 989.5,776.8 989.7,778.4 990.0,780.0" stroke="#000" stroke-width="3.6" stroke-dasharray="15 5.5 4 5.5"/>
<path d="M428.8,668.6 430.1,658.6 431.4,649.5 432.7,640.8 434.0,633.1 435.3,626.8 436.6,621.4 438.0,616.7 439.3,612.4 440.6,608.3 441.9,604.3 443.2,600.3 444.5,596.4 445.8,592.5 447.2,588.7 448.5,585.1 449.8,581.6 451.1,578.2 452.4,575.0 453.7,571.9 455.0,568.8 456.4,565.9 457.7,563.0 459.0,560.3 460.3,557.7 461.6,555.2 462.9,552.8 464.2,550.7 465.6,548.6 466.9,546.7 468.2,544.9 469.5,543.2 470.8,541.5 472.1,540.0 473.4,538.5 474.8,537.0 476.1,535.6 477.4,534.2 478.7,532.9 480.0,531.6 481.3,530.4 482.6,529.1 484.0,527.9 485.3,526.8 486.6,525.7 487.9,524.6 489.2,523.6 490.5,522.6 491.8,521.6 493.2,520.6 494.5,519.7 495.8,518.8 497.1,517.9 498.4,517.0 499.7,516.1 501.0,515.3 502.4,514.5 503.7,513.6 505.0,512.8 506.3,512.0 507.6,511.2 508.9,510.5 510.2,509.7 511.6,508.9 512.9,508.2 514.2,507.4 515.5,506.7 516.8,506.0 518.1,505.3 519.4,504.5 520.8,503.8 522.1,503.1 523.4,502.4 524.7,501.8 526.0,501.1 527.3,500.4 528.6,499.8 530.0,499.1 531.3,498.5 532.6,497.8 533.9,497.2 535.2,496.6 536.5,496.0 537.8,495.4 539.2,494.8 540.5,494.3 541.8,493.7 543.1,493.1 544.4,492.6 545.7,492.0 547.0,491.5 548.4,491.0 549.7,490.4 551.0,489.9 552.3,489.4 553.6,488.9 554.9,488.4 556.2,487.9 557.6,487.4 558.9,487.0 560.2,486.5 561.5,486.0 562.8,485.6 564.1,485.1 565.4,484.7 566.8,484.2 568.1,483.8 569.4,483.4 570.7,482.9 572.0,482.5 573.3,482.1 574.6,481.6 576.0,481.2 577.3,480.8 578.6,480.4 579.9,480.0 581.2,479.6 582.5,479.2 583.8,478.8 585.2,478.4 586.5,478.0 587.8,477.6 589.1,477.2 590.4,476.8 591.7,476.4 593.0,476.0 594.4,475.6 595.7,475.3 597.0,474.9 598.3,474.5 599.6,474.1 600.9,473.8 602.2,473.4 603.6,473.0 604.9,472.7 606.2,472.3 607.5,471.9 608.8,471.6 610.1,471.2 611.4,470.9 612.8,470.5 614.1,470.2 615.4,469.8 616.7,469.5 618.0,469.1 619.3,468.8 620.6,468.4 622.0,468.1 623.3,467.7 624.6,467.4 625.9,467.0 627.2,466.7 628.5,466.3 629.9,466.0 631.2,465.6 632.5,465.3 633.8,464.9 635.1,464.6 636.4,464.2 637.7,463.9 639.1,463.6 640.4,463.2 641.7,462.9 643.0,462.5 644.3,462.2 645.6,461.8 646.9,461.5 648.3,461.1 649.6,460.7 650.9,460.4 652.2,460.0 653.5,459.6 654.8,459.2 656.1,458.8 657.5,458.4 658.8,457.9 660.1,457.4 661.4,457.0 662.7,456.5 664.0,456.0 665.3,455.6 666.7,455.1 668.0,454.7 669.3,454.2 670.6,453.8 671.9,453.4 673.2,453.0 674.5,452.7 675.9,452.3 677.2,451.9 678.5,451.6 679.8,451.2 681.1,450.9 682.4,450.5 683.7,450.2 685.1,449.9 686.4,449.5 687.7,449.2 689.0,448.8 690.3,448.5 691.6,448.2 692.9,447.9 694.3,447.5 695.6,447.2 696.9,446.9 698.2,446.6 699.5,446.3 700.8,445.9 702.1,445.6 703.5,445.3 704.8,445.0 706.1,444.7 707.4,444.4 708.7,444.1 710.0,443.8 711.3,443.4 712.7,443.1 714.0,442.8 715.3,442.5 716.6,442.2 717.9,441.9 719.2,441.6 720.5,441.3 721.9,441.1 723.2,440.8 724.5,440.5 725.8,440.2 727.1,439.9 728.4,439.6 729.7,439.4 731.1,439.1 732.4,438.8 733.7,438.6 735.0,438.3 736.3,438.1 737.6,437.8 738.9,437.5 740.3,437.3 741.6,437.0 742.9,436.8 744.2,436.5 745.5,436.3 746.8,436.0 748.1,435.8 749.5,435.5 750.8,435.3 752.1,435.0 753.4,434.8 754.7,434.5 756.0,434.3 757.3,434.0 758.7,433.8 760.0,433.5 761.3,433.2 762.6,433.0 763.9,432.7 765.2,432.4 766.5,432.2 767.9,431.9 769.2,431.6 770.5,431.3 771.8,431.1 773.1,430.8 774.4,430.5 775.7,430.2 777.1,429.9 778.4,429.6 779.7,429.4 781.0,429.1 782.3,428.8 783.6,428.5 784.9,428.2 786.3,427.9 787.6,427.6 788.9,427.3 790.2,427.0 791.5,426.7 792.8,426.4 794.1,426.1 795.5,425.8 796.8,425.5 798.1,425.2 799.4,424.9 800.7,424.6 802.0,424.3 803.3,424.0 804.7,423.7 806.0,423.4 807.3,423.1 808.6,422.8 809.9,422.5 811.2,422.2 812.5,421.9 813.9,421.6 815.2,421.3 816.5,421.0 817.8,420.7 819.1,420.4 820.4,420.1 821.8,419.8 821.8,465.1 820.4,472.0 819.1,482.3 817.8,491.7 816.5,500.1 815.2,508.1 813.9,515.6 812.5,522.4 811.2,528.7 809.9,534.5 808.6,539.8 807.3,544.8 806.0,549.6 804.7,554.2 803.3,558.5 802.0,562.6 800.7,566.4 799.4,570.0 798.1,573.4 796.8,576.5 795.5,579.5 794.1,582.2 792.8,584.7 791.5,587.0 790.2,589.3 788.9,591.3 787.6,593.3 786.3,595.2 784.9,597.0 783.6,598.6 782.3,600.2 781.0,601.7 779.7,603.1 778.4,604.5 777.1,605.8 775.7,607.0 774.4,608.3 773.1,609.5 771.8,610.8 770.5,612.1 769.2,613.4 767.9,614.7 766.5,616.1 765.2,617.5 763.9,619.0 762.6,620.5 761.3,622.0 760.0,623.5 758.7,624.9 757.3,626.4 756.0,627.7 754.7,629.0 753.4,630.3 752.1,631.5 750.8,632.6 749.5,633.6 748.1,634.6 746.8,635.6 745.5,636.5 744.2,637.4 742.9,638.3 741.6,639.1 740.3,639.9 738.9,640.7 737.6,641.4 736.3,642.2 735.0,642.9 733.7,643.7 732.4,644.4 731.1,645.1 729.7,645.7 728.4,646.4 727.1,647.1 725.8,647.7 724.5,648.4 723.2,649.0 721.9,649.6 720.5,650.2 719.2,650.8 717.9,651.3 716.6,651.9 715.3,652.4 714.0,653.0 712.7,653.5 711.3,654.0 710.0,654.5 708.7,655.0 707.4,655.4 706.1,655.9 704.8,656.4 703.5,656.8 702.1,657.3 700.8,657.7 699.5,658.2 698.2,658.6 696.9,659.0 695.6,659.5 694.3,659.9 692.9,660.3 691.6,660.7 690.3,661.1 689.0,661.5 687.7,661.8 686.4,662.2 685.1,662.6 683.7,663.0 682.4,663.3 681.1,663.7 679.8,664.1 678.5,664.4 677.2,664.8 675.9,665.2 674.5,665.5 673.2,665.9 671.9,666.2 670.6,666.6 669.3,667.0 668.0,667.3 666.7,667.7 665.3,668.1 664.0,668.4 662.7,668.8 661.4,669.2 660.1,669.6 658.8,670.0 657.5,670.3 656.1,670.7 654.8,671.1 653.5,671.5 652.2,671.9 650.9,672.3 649.6,672.7 648.3,673.1 646.9,673.5 645.6,673.9 644.3,674.3 643.0,674.7 641.7,675.1 640.4,675.5 639.1,675.9 637.7,676.3 636.4,676.7 635.1,677.1 633.8,677.5 632.5,677.9 631.2,678.3 629.9,678.7 628.5,679.0 627.2,679.4 625.9,679.8 624.6,680.1 623.3,680.5 622.0,680.8 620.6,681.2 619.3,681.5 618.0,681.8 616.7,682.1 615.4,682.4 614.1,682.7 612.8,683.0 611.4,683.3 610.1,683.5 608.8,683.8 607.5,684.0 606.2,684.3 604.9,684.5 603.6,684.8 602.2,685.0 600.9,685.2 599.6,685.4 598.3,685.6 597.0,685.9 595.7,686.1 594.4,686.3 593.0,686.6 591.7,686.8 590.4,687.1 589.1,687.3 587.8,687.6 586.5,687.9 585.2,688.1 583.8,688.4 582.5,688.8 581.2,689.1 579.9,689.4 578.6,689.8 577.3,690.1 576.0,690.5 574.6,690.9 573.3,691.2 572.0,691.6 570.7,692.0 569.4,692.4 568.1,692.8 566.8,693.3 565.4,693.7 564.1,694.1 562.8,694.5 561.5,694.9 560.2,695.3 558.9,695.7 557.6,696.1 556.2,696.5 554.9,696.9 553.6,697.3 552.3,697.7 551.0,698.1 549.7,698.4 548.4,698.8 547.0,699.1 545.7,699.4 544.4,699.8 543.1,700.1 541.8,700.4 540.5,700.6 539.2,700.9 537.8,701.2 536.5,701.5 535.2,701.7 533.9,702.0 532.6,702.2 531.3,702.4 530.0,702.7 528.6,702.9 527.3,703.1 526.0,703.3 524.7,703.5 523.4,703.8 522.1,704.0 520.8,704.2 519.4,704.4 518.1,704.6 516.8,704.8 515.5,705.0 514.2,705.2 512.9,705.4 511.6,705.6 510.2,705.8 508.9,706.0 507.6,706.3 506.3,706.5 505.0,706.7 503.7,706.9 502.4,707.1 501.0,707.4 499.7,707.6 498.4,707.9 497.1,708.1 495.8,708.4 494.5,708.6 493.2,708.9 491.8,709.2 490.5,709.4 489.2,709.7 487.9,710.0 486.6,710.3 485.3,710.5 484.0,710.8 482.6,711.1 481.3,711.4 480.0,711.7 478.7,712.0 477.4,712.3 476.1,712.6 474.8,712.9 473.4,713.2 472.1,713.5 470.8,713.9 469.5,714.2 468.2,714.5 466.9,714.8 465.6,715.1 464.2,715.4 462.9,715.7 461.6,716.0 460.3,716.4 459.0,716.7 457.7,717.0 456.4,717.3 455.0,717.6 453.7,718.0 452.4,718.3 451.1,718.6 449.8,718.9 448.5,719.3 447.2,719.6 445.8,719.9 444.5,720.3 443.2,720.6 441.9,720.9 440.6,721.3 439.3,721.6 438.0,721.9 436.6,722.2 435.3,722.6 434.0,722.9 432.7,723.2 431.4,723.6 430.1,723.9 428.8,724.2Z" fill="rgba(128,128,128,0.5)"/>
<path d="M460.5,712.3 461.7,710.2 462.9,707.5 464.0,703.0 465.2,697.5 466.4,690.8 467.6,681.9 468.7,671.8 469.9,662.6 471.1,655.0 472.2,648.9 473.4,643.5 474.6,638.6 475.8,634.1 476.9,629.9 478.1,626.0 479.3,622.4 480.4,619.0 481.6,615.7 482.8,612.5 483.9,609.5 485.1,606.5 486.3,603.6 487.5,600.8 488.6,598.2 489.8,595.6 491.0,593.1 492.1,590.8 493.3,588.6 494.5,586.4 495.7,584.4 496.8,582.6 498.0,580.8 499.2,579.1 500.3,577.5 501.5,576.0 502.7,574.6 503.8,573.1 505.0,571.8 506.2,570.4 507.4,569.1 508.5,567.7 509.7,566.4 510.9,565.0 512.0,563.6 513.2,562.2 514.4,560.8 515.6,559.3 516.7,557.9 517.9,556.5 519.1,555.0 520.2,553.6 521.4,552.2 522.6,550.9 523.7,549.5 524.9,548.2 526.1,546.9 527.3,545.6 528.4,544.4 529.6,543.1 530.8,541.9 531.9,540.7 533.1,539.5 534.3,538.4 535.5,537.2 536.6,536.1 537.8,535.0 539.0,534.0 540.1,532.9 541.3,531.9 542.5,531.0 543.6,530.0 544.8,529.1 546.0,528.1 547.2,527.2 548.3,526.3 549.5,525.4 550.7,524.6 551.8,523.7 553.0,522.9 554.2,522.0 555.4,521.2 556.5,520.4 557.7,519.6 558.9,518.8 560.0,517.9 561.2,517.2 562.4,516.4 563.5,515.6 564.7,514.8 565.9,514.0 567.1,513.3 568.2,512.5 569.4,511.8 570.6,511.0 571.7,510.3 572.9,509.6 574.1,508.9 575.3,508.2 576.4,507.5 577.6,506.8 578.8,506.1 579.9,505.5 581.1,504.8 582.3,504.2 583.4,503.6 584.6,502.9 585.8,502.3 587.0,501.7 588.1,501.1 589.3,500.5 590.5,500.0 591.6,499.4 592.8,498.8 594.0,498.3 595.2,497.7 596.3,497.1 597.5,496.6 598.7,496.0 599.8,495.5 601.0,494.9 602.2,494.4 603.3,493.8 604.5,493.2 605.7,492.7 606.9,492.2 608.0,491.6 609.2,491.1 610.4,490.5 611.5,490.0 612.7,489.5 613.9,488.9 615.1,488.4 616.2,487.9 617.4,487.4 618.6,486.8 619.7,486.3 620.9,485.8 622.1,485.3 623.2,484.8 624.4,484.4 625.6,483.9 626.8,483.4 627.9,482.9 629.1,482.5 630.3,482.0 631.4,481.5 632.6,481.1 633.8,480.6 634.9,480.2 636.1,479.7 637.3,479.3 638.5,478.8 639.6,478.4 640.8,478.0 642.0,477.5 643.1,477.1 644.3,476.7 645.5,476.2 646.7,475.8 647.8,475.4 649.0,475.0 650.2,474.6 651.3,474.2 652.5,473.8 653.7,473.4 654.8,473.0 656.0,472.7 657.2,472.3 658.4,472.0 659.5,471.7 660.7,471.4 661.9,471.1 663.0,470.8 664.2,470.5 665.4,470.2 666.6,469.9 667.7,469.6 668.9,469.3 670.1,468.9 671.2,468.6 672.4,468.2 673.6,467.8 674.7,467.4 675.9,467.0 677.1,466.6 678.3,466.2 679.4,465.8 680.6,465.4 681.8,464.9 682.9,464.5 684.1,464.1 685.3,463.7 686.5,463.2 687.6,462.8 688.8,462.4 690.0,462.0 691.1,461.6 692.3,461.2 693.5,460.8 694.6,460.4 695.8,460.0 697.0,459.6 698.2,459.3 699.3,458.9 700.5,458.5 701.7,458.2 702.8,457.8 704.0,457.5 705.2,457.1 706.4,456.8 707.5,456.4 708.7,456.1 709.9,455.7 711.0,455.4 712.2,455.0 713.4,454.7 714.5,454.4 715.7,454.0 716.9,453.7 718.1,453.3 719.2,453.0 720.4,452.6 721.6,452.3 722.7,451.9 723.9,451.6 725.1,451.2 726.3,450.9 727.4,450.5 728.6,450.1 729.8,449.8 730.9,449.4 732.1,449.1 733.3,448.7 734.4,448.4 735.6,448.0 736.8,447.7 738.0,447.3 739.1,447.0 740.3,446.6 741.5,446.3 742.6,445.9 743.8,445.6 745.0,445.3 746.2,444.9 747.3,444.6 748.5,444.2 749.7,443.9 750.8,443.5 752.0,443.2 753.2,442.9 754.3,442.5 755.5,442.2 756.7,441.8 757.9,441.5 759.0,441.2 760.2,440.9 761.4,440.5 762.5,440.2 763.7,439.9 764.9,439.6 766.1,439.3 767.2,439.0 768.4,438.7 769.6,438.4 770.7,438.1 771.9,437.8 773.1,437.5 774.2,437.3 775.4,437.0 776.6,436.8 777.8,436.5 778.9,436.3 780.1,436.0 781.3,435.8 782.4,435.5 783.6,435.3 784.8,435.1 786.0,434.8 787.1,434.6 788.3,434.3 789.5,434.1 790.6,433.8 791.8,433.5 793.0,433.3 794.1,433.0 795.3,432.7 796.5,432.4 797.7,432.2 798.8,431.9 800.0,431.6 800.0,458.6 798.8,452.1 797.7,447.0 796.5,443.5 795.3,440.8 794.1,438.5 793.0,436.4 791.8,434.7 790.6,436.7 789.5,438.8 788.3,441.0 787.1,443.7 786.0,447.2 784.8,452.2 783.6,458.6 782.4,465.5 781.3,471.9 780.1,478.3 778.9,484.9 777.8,491.2 776.6,497.1 775.4,502.4 774.2,507.4 773.1,512.1 771.9,516.5 770.7,520.7 769.6,524.6 768.4,528.2 767.2,531.7 766.1,535.1 764.9,538.2 763.7,541.3 762.5,544.2 761.4,547.0 760.2,549.6 759.0,552.1 757.9,554.5 756.7,556.7 755.5,558.8 754.3,560.8 753.2,562.7 752.0,564.6 750.8,566.4 749.7,568.1 748.5,569.9 747.3,571.6 746.2,573.3 745.0,574.9 743.8,576.5 742.6,578.1 741.5,579.7 740.3,581.2 739.1,582.7 738.0,584.2 736.8,585.6 735.6,587.1 734.4,588.5 733.3,590.0 732.1,591.4 730.9,592.8 729.8,594.3 728.6,595.7 727.4,597.1 726.3,598.5 725.1,599.9 723.9,601.2 722.7,602.6 721.6,603.9 720.4,605.1 719.2,606.4 718.1,607.6 716.9,608.7 715.7,609.9 714.5,611.0 713.4,612.0 712.2,613.1 711.0,614.1 709.9,615.1 708.7,616.1 707.5,617.1 706.4,618.1 705.2,619.0 704.0,620.0 702.8,620.9 701.7,621.9 700.5,622.8 699.3,623.8 698.2,624.7 697.0,625.6 695.8,626.6 694.6,627.5 693.5,628.5 692.3,629.4 691.1,630.3 690.0,631.2 688.8,632.1 687.6,632.9 686.5,633.8 685.3,634.6 684.1,635.4 682.9,636.2 681.8,637.0 680.6,637.7 679.4,638.4 678.3,639.1 677.1,639.8 675.9,640.4 674.7,641.1 673.6,641.7 672.4,642.3 671.2,642.8 670.1,643.4 668.9,644.0 667.7,644.5 666.6,645.1 665.4,645.6 664.2,646.1 663.0,646.7 661.9,647.2 660.7,647.7 659.5,648.2 658.4,648.7 657.2,649.2 656.0,649.7 654.8,650.2 653.7,650.7 652.5,651.2 651.3,651.6 650.2,652.1 649.0,652.6 647.8,653.0 646.7,653.5 645.5,654.0 644.3,654.4 643.1,654.9 642.0,655.3 640.8,655.8 639.6,656.3 638.5,656.8 637.3,657.2 636.1,657.7 634.9,658.2 633.8,658.7 632.6,659.1 631.4,659.6 630.3,660.1 629.1,660.6 627.9,661.0 626.8,661.5 625.6,661.9 624.4,662.4 623.2,662.8 622.1,663.3 620.9,663.7 619.7,664.1 618.6,664.6 617.4,665.0 616.2,665.4 615.1,665.8 613.9,666.2 612.7,666.5 611.5,666.9 610.4,667.3 609.2,667.7 608.0,668.1 606.9,668.4 605.7,668.8 604.5,669.2 603.3,669.5 602.2,669.9 601.0,670.2 599.8,670.6 598.7,671.0 597.5,671.3 596.3,671.7 595.2,672.0 594.0,672.4 592.8,672.7 591.6,673.1 590.5,673.4 589.3,673.8 588.1,674.1 587.0,674.5 585.8,674.8 584.6,675.2 583.4,675.5 582.3,675.9 581.1,676.2 579.9,676.6 578.8,676.9 577.6,677.3 576.4,677.6 575.3,678.0 574.1,678.4 572.9,678.7 571.7,679.1 570.6,679.5 569.4,679.8 568.2,680.2 567.1,680.6 565.9,681.0 564.7,681.4 563.5,681.7 562.4,682.1 561.2,682.5 560.0,682.9 558.9,683.3 557.7,683.6 556.5,684.0 555.4,684.4 554.2,684.7 553.0,685.1 551.8,685.5 550.7,685.8 549.5,686.2 548.3,686.5 547.2,686.8 546.0,687.2 544.8,687.5 543.6,687.8 542.5,688.1 541.3,688.5 540.1,688.8 539.0,689.1 537.8,689.4 536.6,689.7 535.5,690.0 534.3,690.4 533.1,690.7 531.9,691.0 530.8,691.3 529.6,691.7 528.4,692.0 527.3,692.3 526.1,692.7 524.9,693.0 523.7,693.4 522.6,693.8 521.4,694.1 520.2,694.5 519.1,694.9 517.9,695.3 516.7,695.7 515.6,696.1 514.4,696.5 513.2,696.9 512.0,697.3 510.9,697.7 509.7,698.1 508.5,698.5 507.4,698.9 506.2,699.3 505.0,699.7 503.8,700.1 502.7,700.5 501.5,700.8 500.3,701.2 499.2,701.6 498.0,702.0 496.8,702.3 495.7,702.7 494.5,703.0 493.3,703.4 492.1,703.7 491.0,704.1 489.8,704.4 488.6,704.8 487.5,705.1 486.3,705.4 485.1,705.7 483.9,706.1 482.8,706.4 481.6,706.7 480.4,707.0 479.3,707.4 478.1,707.7 476.9,708.0 475.8,708.3 474.6,708.6 473.4,708.9 472.2,709.3 471.1,709.6 469.9,709.9 468.7,710.2 467.6,710.5 466.4,710.8 465.2,711.1 464.0,711.5 462.9,711.8 461.7,712.1 460.5,712.4Z" fill="rgba(195,72,72,0.4)"/>
<path d="M535.3,655.6 535.9,654.5 536.6,653.1 537.2,651.7 537.8,650.2 538.4,648.6 539.0,646.9 539.7,645.3 540.3,643.7 540.9,642.2 541.5,640.7 542.1,639.3 542.8,637.9 543.4,636.5 544.0,635.1 544.6,633.8 545.2,632.5 545.8,631.1 546.5,629.8 547.1,628.6 547.7,627.3 548.3,626.1 548.9,624.9 549.6,623.8 550.2,622.7 550.8,621.6 551.4,620.6 552.0,619.5 552.7,618.6 553.3,617.6 553.9,616.6 554.5,615.7 555.1,614.8 555.7,613.8 556.4,612.9 557.0,612.0 557.6,611.1 558.2,610.2 558.8,609.3 559.5,608.4 560.1,607.5 560.7,606.6 561.3,605.8 561.9,604.9 562.6,604.0 563.2,603.2 563.8,602.3 564.4,601.5 565.0,600.6 565.6,599.8 566.3,598.9 566.9,598.0 567.5,597.2 568.1,596.3 568.7,595.4 569.4,594.5 570.0,593.7 570.6,592.8 571.2,591.9 571.8,591.1 572.5,590.2 573.1,589.4 573.7,588.5 574.3,587.7 574.9,586.9 575.5,586.1 576.2,585.3 576.8,584.5 577.4,583.8 578.0,583.0 578.6,582.3 579.3,581.5 579.9,580.8 580.5,580.1 581.1,579.3 581.7,578.6 582.4,577.9 583.0,577.2 583.6,576.5 584.2,575.8 584.8,575.1 585.4,574.4 586.1,573.7 586.7,573.1 587.3,572.4 587.9,571.7 588.5,571.0 589.2,570.3 589.8,569.7 590.4,569.0 591.0,568.3 591.6,567.6 592.3,567.0 592.9,566.3 593.5,565.6 594.1,564.9 594.7,564.3 595.3,563.6 596.0,562.9 596.6,562.3 597.2,561.6 597.8,560.9 598.4,560.3 599.1,559.6 599.7,559.0 600.3,558.3 600.9,557.7 601.5,557.0 602.2,556.4 602.8,555.8 603.4,555.2 604.0,554.6 604.6,554.0 605.2,553.4 605.9,552.8 606.5,552.3 607.1,551.7 607.7,551.2 608.3,550.7 609.0,550.2 609.6,549.6 610.2,549.2 610.8,548.7 611.4,548.2 612.1,547.7 612.7,547.3 613.3,546.8 613.9,546.4 614.5,545.9 615.1,545.5 615.8,545.0 616.4,544.6 617.0,544.2 617.6,543.8 618.2,543.3 618.9,542.9 619.5,542.5 620.1,542.1 620.7,541.7 621.3,541.3 622.0,540.9 622.6,540.5 623.2,540.1 623.8,539.7 624.4,539.2 625.0,538.8 625.7,538.4 626.3,538.0 626.9,537.6 627.5,537.2 628.1,536.7 628.8,536.3 629.4,535.9 630.0,535.5 630.6,535.0 631.2,534.6 631.9,534.2 632.5,533.8 633.1,533.3 633.7,532.9 634.3,532.4 634.9,532.0 635.6,531.6 636.2,531.1 636.8,530.7 637.4,530.2 638.0,529.8 638.7,529.4 639.3,528.9 639.9,528.5 640.5,528.1 641.1,527.6 641.8,527.2 642.4,526.8 643.0,526.3 643.6,525.9 644.2,525.5 644.8,525.1 645.5,524.7 646.1,524.3 646.7,523.9 647.3,523.5 647.9,523.1 648.6,522.7 649.2,522.3 649.8,521.9 650.4,521.6 651.0,521.2 651.7,520.8 652.3,520.4 652.9,520.1 653.5,519.7 654.1,519.3 654.7,519.0 655.4,518.6 656.0,518.2 656.6,517.9 657.2,517.5 657.8,517.1 658.5,516.8 659.1,516.4 659.7,516.0 660.3,515.7 660.9,515.3 661.6,514.9 662.2,514.6 662.8,514.2 663.4,513.8 664.0,513.5 664.6,513.1 665.3,512.7 665.9,512.3 666.5,512.0 667.1,511.6 667.7,511.2 668.4,510.8 669.0,510.5 669.6,510.1 670.2,509.7 670.8,509.4 671.5,509.0 672.1,508.6 672.7,508.3 673.3,507.9 673.9,507.6 674.5,507.2 675.2,506.9 675.8,506.5 676.4,506.2 677.0,505.8 677.6,505.5 678.3,505.1 678.9,504.8 679.5,504.5 680.1,504.1 680.7,503.8 681.4,503.5 682.0,503.1 682.6,502.8 683.2,502.5 683.8,502.2 684.4,501.8 685.1,501.5 685.7,501.2 686.3,500.9 686.9,500.6 687.5,500.3 688.2,500.0 688.8,499.7 689.4,499.4 690.0,499.1 690.6,498.8 691.3,498.6 691.9,498.3 692.5,498.0 693.1,497.8 693.7,497.5 694.3,497.3 695.0,497.0 695.6,496.8 696.2,496.6 696.8,496.3 697.4,496.1 698.1,495.9 698.7,495.7 699.3,495.5 699.9,495.2 700.5,495.0 701.2,494.8 701.8,494.6 702.4,494.4 703.0,494.2 703.6,493.9 704.2,493.7 704.9,493.5 705.5,493.2 706.1,493.0 706.7,492.7 707.3,492.5 708.0,492.2 708.6,492.0 709.2,491.7 709.8,491.4 710.4,491.2 711.1,490.9 711.7,490.6 712.3,490.3 712.9,490.0 713.5,489.7 714.1,489.4 714.1,489.9 713.5,491.2 712.9,492.6 712.3,494.1 711.7,495.5 711.1,496.8 710.4,498.0 709.8,499.2 709.2,500.4 708.6,501.5 708.0,502.6 707.3,503.7 706.7,504.8 706.1,506.0 705.5,507.1 704.9,508.3 704.2,509.6 703.6,510.8 703.0,512.1 702.4,513.3 701.8,514.5 701.2,515.7 700.5,516.9 699.9,518.0 699.3,519.1 698.7,520.1 698.1,521.2 697.4,522.2 696.8,523.2 696.2,524.1 695.6,525.1 695.0,526.0 694.3,527.0 693.7,527.9 693.1,528.8 692.5,529.7 691.9,530.7 691.3,531.6 690.6,532.5 690.0,533.4 689.4,534.3 688.8,535.1 688.2,536.0 687.5,536.9 686.9,537.8 686.3,538.7 685.7,539.6 685.1,540.5 684.4,541.4 683.8,542.3 683.2,543.2 682.6,544.1 682.0,544.9 681.4,545.8 680.7,546.7 680.1,547.6 679.5,548.5 678.9,549.3 678.3,550.2 677.6,551.0 677.0,551.8 676.4,552.6 675.8,553.4 675.2,554.2 674.5,555.0 673.9,555.7 673.3,556.4 672.7,557.2 672.1,557.9 671.5,558.6 670.8,559.4 670.2,560.1 669.6,560.9 669.0,561.7 668.4,562.5 667.7,563.3 667.1,564.2 666.5,565.1 665.9,565.9 665.3,566.8 664.6,567.7 664.0,568.6 663.4,569.4 662.8,570.3 662.2,571.1 661.6,571.9 660.9,572.6 660.3,573.4 659.7,574.1 659.1,574.7 658.5,575.4 657.8,576.0 657.2,576.6 656.6,577.3 656.0,577.9 655.4,578.5 654.7,579.1 654.1,579.8 653.5,580.4 652.9,581.1 652.3,581.8 651.7,582.5 651.0,583.2 650.4,583.9 649.8,584.6 649.2,585.4 648.6,586.1 647.9,586.8 647.3,587.6 646.7,588.3 646.1,589.0 645.5,589.7 644.8,590.4 644.2,591.0 643.6,591.7 643.0,592.3 642.4,592.9 641.8,593.5 641.1,594.0 640.5,594.6 639.9,595.1 639.3,595.7 638.7,596.2 638.0,596.7 637.4,597.3 636.8,597.8 636.2,598.3 635.6,598.8 634.9,599.3 634.3,599.8 633.7,600.3 633.1,600.8 632.5,601.3 631.9,601.8 631.2,602.3 630.6,602.7 630.0,603.2 629.4,603.7 628.8,604.2 628.1,604.7 627.5,605.1 626.9,605.6 626.3,606.1 625.7,606.5 625.0,607.0 624.4,607.5 623.8,607.9 623.2,608.4 622.6,608.8 622.0,609.2 621.3,609.7 620.7,610.1 620.1,610.5 619.5,610.9 618.9,611.4 618.2,611.8 617.6,612.2 617.0,612.6 616.4,613.0 615.8,613.4 615.1,613.8 614.5,614.2 613.9,614.5 613.3,614.9 612.7,615.3 612.1,615.7 611.4,616.1 610.8,616.4 610.2,616.8 609.6,617.2 609.0,617.5 608.3,617.9 607.7,618.3 607.1,618.6 606.5,619.0 605.9,619.3 605.2,619.7 604.6,620.0 604.0,620.4 603.4,620.7 602.8,621.1 602.2,621.4 601.5,621.8 600.9,622.1 600.3,622.4 599.7,622.8 599.1,623.1 598.4,623.5 597.8,623.8 597.2,624.1 596.6,624.5 596.0,624.8 595.3,625.2 594.7,625.5 594.1,625.9 593.5,626.2 592.9,626.6 592.3,626.9 591.6,627.3 591.0,627.6 590.4,628.0 589.8,628.4 589.2,628.7 588.5,629.1 587.9,629.4 587.3,629.8 586.7,630.1 586.1,630.5 585.4,630.8 584.8,631.1 584.2,631.5 583.6,631.8 583.0,632.2 582.4,632.5 581.7,632.8 581.1,633.1 580.5,633.5 579.9,633.8 579.3,634.1 578.6,634.4 578.0,634.7 577.4,635.0 576.8,635.3 576.2,635.6 575.5,636.0 574.9,636.3 574.3,636.6 573.7,636.9 573.1,637.2 572.5,637.5 571.8,637.8 571.2,638.1 570.6,638.4 570.0,638.7 569.4,639.1 568.7,639.4 568.1,639.7 567.5,640.0 566.9,640.3 566.3,640.6 565.6,641.0 565.0,641.3 564.4,641.6 563.8,641.9 563.2,642.2 562.6,642.6 561.9,642.9 561.3,643.2 560.7,643.5 560.1,643.8 559.5,644.2 558.8,644.5 558.2,644.8 557.6,645.1 557.0,645.4 556.4,645.7 555.7,646.0 555.1,646.3 554.5,646.6 553.9,646.9 553.3,647.2 552.7,647.4 552.0,647.7 551.4,648.0 550.8,648.3 550.2,648.5 549.6,648.8 548.9,649.1 548.3,649.3 547.7,649.6 547.1,649.9 546.5,650.2 545.8,650.5 545.2,650.8 544.6,651.1 544.0,651.4 543.4,651.7 542.8,652.0 542.1,652.3 541.5,652.7 540.9,653.0 540.3,653.3 539.7,653.7 539.0,654.0 538.4,654.4 537.8,654.7 537.2,655.1 536.6,655.4 535.9,655.8 535.3,656.1Z" fill="rgba(123,84,160,0.4)"/>
<path d="M569.9,615.4 570.3,614.6 570.8,613.8 571.2,612.9 571.7,612.1 572.1,611.3 572.6,610.5 573.0,609.7 573.5,608.9 573.9,608.2 574.4,607.5 574.8,606.8 575.3,606.2 575.7,605.6 576.2,605.0 576.6,604.5 577.1,603.9 577.5,603.4 578.0,602.9 578.4,602.4 578.9,601.9 579.3,601.4 579.8,600.9 580.2,600.4 580.6,600.0 581.1,599.5 581.5,599.0 582.0,598.6 582.4,598.1 582.9,597.7 583.3,597.2 583.8,596.7 584.2,596.3 584.7,595.8 585.1,595.4 585.6,594.9 586.0,594.5 586.5,594.0 586.9,593.6 587.4,593.1 587.8,592.7 588.3,592.3 588.7,591.8 589.2,591.4 589.6,590.9 590.1,590.5 590.5,590.0 591.0,589.6 591.4,589.1 591.9,588.7 592.3,588.2 592.7,587.8 593.2,587.3 593.6,586.9 594.1,586.4 594.5,586.0 595.0,585.5 595.4,585.1 595.9,584.6 596.3,584.2 596.8,583.8 597.2,583.3 597.7,582.9 598.1,582.5 598.6,582.0 599.0,581.6 599.5,581.2 599.9,580.8 600.4,580.3 600.8,579.9 601.3,579.5 601.7,579.1 602.2,578.7 602.6,578.3 603.1,577.9 603.5,577.4 604.0,577.0 604.4,576.6 604.8,576.2 605.3,575.8 605.7,575.4 606.2,575.0 606.6,574.6 607.1,574.2 607.5,573.8 608.0,573.4 608.4,572.9 608.9,572.5 609.3,572.1 609.8,571.7 610.2,571.3 610.7,570.9 611.1,570.5 611.6,570.0 612.0,569.6 612.5,569.2 612.9,568.8 613.4,568.4 613.8,568.0 614.3,567.6 614.7,567.2 615.2,566.8 615.6,566.4 616.1,566.0 616.5,565.6 616.9,565.2 617.4,564.8 617.8,564.4 618.3,564.0 618.7,563.6 619.2,563.2 619.6,562.8 620.1,562.4 620.5,562.1 621.0,561.7 621.4,561.3 621.9,560.9 622.3,560.6 622.8,560.2 623.2,559.8 623.7,559.5 624.1,559.1 624.6,558.7 625.0,558.4 625.5,558.0 625.9,557.7 626.4,557.4 626.8,557.0 627.3,556.7 627.7,556.4 628.2,556.1 628.6,555.7 629.1,555.4 629.5,555.1 629.9,554.8 630.4,554.5 630.8,554.2 631.3,553.9 631.7,553.6 632.2,553.3 632.6,553.0 633.1,552.7 633.5,552.4 634.0,552.2 634.4,551.9 634.9,551.6 635.3,551.3 635.8,551.0 636.2,550.7 636.7,550.5 637.1,550.2 637.6,549.9 638.0,549.6 638.5,549.4 638.9,549.1 639.4,548.8 639.8,548.6 640.3,548.3 640.7,548.0 641.2,547.8 641.6,547.5 642.0,547.3 642.5,547.0 642.9,546.8 643.4,546.6 643.8,546.3 644.3,546.1 644.7,545.9 645.2,545.7 645.6,545.5 646.1,545.3 646.5,545.0 647.0,544.8 647.4,544.7 647.9,544.5 648.3,544.3 648.8,544.1 649.2,543.9 649.7,543.7 650.1,543.5 650.6,543.3 651.0,543.1 651.5,542.9 651.9,542.7 652.4,542.5 652.8,542.3 653.3,542.1 653.7,541.8 654.1,541.6 654.6,541.4 655.0,541.1 655.5,540.9 655.9,540.6 656.4,540.3 656.8,540.0 657.3,539.7 657.7,539.4 658.2,539.1 658.6,538.8 659.1,538.4 659.5,538.1 660.0,537.8 660.4,537.4 660.9,537.1 661.3,536.7 661.8,536.4 662.2,536.0 662.7,535.7 663.1,535.3 663.6,535.0 664.0,534.6 664.5,534.3 664.9,534.0 665.4,533.6 665.8,533.3 666.2,533.0 666.7,532.7 667.1,532.4 667.6,532.1 668.0,531.8 668.5,531.5 668.9,531.2 669.4,530.9 669.8,530.6 670.3,530.3 670.7,530.1 671.2,529.8 671.6,529.6 672.1,529.3 672.5,529.1 673.0,528.8 673.4,528.6 673.9,528.4 674.3,528.1 674.8,527.9 675.2,527.7 675.7,527.5 676.1,527.3 676.6,527.0 676.6,527.4 676.1,527.9 675.7,528.5 675.2,529.1 674.8,529.6 674.3,530.2 673.9,530.8 673.4,531.3 673.0,531.9 672.5,532.5 672.1,533.1 671.6,533.6 671.2,534.2 670.7,534.8 670.3,535.4 669.8,535.9 669.4,536.5 668.9,537.1 668.5,537.7 668.0,538.3 667.6,538.9 667.1,539.5 666.7,540.1 666.2,540.7 665.8,541.4 665.4,542.0 664.9,542.6 664.5,543.3 664.0,543.9 663.6,544.6 663.1,545.3 662.7,545.9 662.2,546.6 661.8,547.3 661.3,547.9 660.9,548.6 660.4,549.3 660.0,549.9 659.5,550.5 659.1,551.1 658.6,551.8 658.2,552.4 657.7,552.9 657.3,553.5 656.8,554.1 656.4,554.6 655.9,555.2 655.5,555.7 655.0,556.2 654.6,556.7 654.1,557.3 653.7,557.8 653.3,558.3 652.8,558.8 652.4,559.2 651.9,559.7 651.5,560.2 651.0,560.7 650.6,561.2 650.1,561.7 649.7,562.1 649.2,562.6 648.8,563.1 648.3,563.5 647.9,564.0 647.4,564.5 647.0,564.9 646.5,565.4 646.1,565.8 645.6,566.3 645.2,566.7 644.7,567.1 644.3,567.6 643.8,568.0 643.4,568.4 642.9,568.9 642.5,569.3 642.0,569.7 641.6,570.1 641.2,570.5 640.7,570.9 640.3,571.3 639.8,571.7 639.4,572.1 638.9,572.4 638.5,572.8 638.0,573.2 637.6,573.6 637.1,574.0 636.7,574.3 636.2,574.7 635.8,575.1 635.3,575.4 634.9,575.8 634.4,576.2 634.0,576.6 633.5,576.9 633.1,577.3 632.6,577.7 632.2,578.1 631.7,578.4 631.3,578.8 630.8,579.2 630.4,579.6 629.9,579.9 629.5,580.3 629.1,580.7 628.6,581.1 628.2,581.5 627.7,581.8 627.3,582.2 626.8,582.6 626.4,582.9 625.9,583.3 625.5,583.6 625.0,584.0 624.6,584.3 624.1,584.7 623.7,585.0 623.2,585.4 622.8,585.7 622.3,586.0 621.9,586.4 621.4,586.7 621.0,587.0 620.5,587.3 620.1,587.6 619.6,587.9 619.2,588.2 618.7,588.5 618.3,588.8 617.8,589.1 617.4,589.4 616.9,589.7 616.5,590.0 616.1,590.3 615.6,590.6 615.2,590.9 614.7,591.2 614.3,591.5 613.8,591.8 613.4,592.1 612.9,592.4 612.5,592.7 612.0,593.0 611.6,593.3 611.1,593.6 610.7,593.9 610.2,594.2 609.8,594.5 609.3,594.8 608.9,595.1 608.4,595.4 608.0,595.7 607.5,595.9 607.1,596.2 606.6,596.5 606.2,596.8 605.7,597.1 605.3,597.3 604.8,597.6 604.4,597.9 604.0,598.1 603.5,598.4 603.1,598.6 602.6,598.9 602.2,599.1 601.7,599.3 601.3,599.6 600.8,599.8 600.4,600.0 599.9,600.3 599.5,600.5 599.0,600.7 598.6,600.9 598.1,601.1 597.7,601.4 597.2,601.6 596.8,601.8 596.3,602.0 595.9,602.2 595.4,602.4 595.0,602.6 594.5,602.9 594.1,603.1 593.6,603.3 593.2,603.5 592.7,603.7 592.3,603.9 591.9,604.1 591.4,604.3 591.0,604.6 590.5,604.8 590.1,605.0 589.6,605.2 589.2,605.4 588.7,605.6 588.3,605.8 587.8,606.0 587.4,606.3 586.9,606.5 586.5,606.7 586.0,606.9 585.6,607.1 585.1,607.4 584.7,607.6 584.2,607.8 583.8,608.0 583.3,608.3 582.9,608.5 582.4,608.7 582.0,608.9 581.5,609.2 581.1,609.4 580.6,609.6 580.2,609.9 579.8,610.1 579.3,610.3 578.9,610.6 578.4,610.8 578.0,611.0 577.5,611.3 577.1,611.5 576.6,611.8 576.2,612.0 575.7,612.2 575.3,612.5 574.8,612.7 574.4,613.0 573.9,613.2 573.5,613.5 573.0,613.7 572.6,614.0 572.1,614.2 571.7,614.5 571.2,614.8 570.8,615.0 570.3,615.3 569.9,615.5Z" fill="rgba(90,88,58,0.4)"/>
<path d="M256.5,340.2 256.7,341.8 256.9,343.3 257.0,344.8 257.2,346.3 257.4,347.9 257.5,349.4 257.7,350.9 257.8,352.5 258.0,354.0 258.1,355.5 258.3,357.1 258.5,358.6 258.6,360.1 258.8,361.6 259.0,363.1 259.2,364.5 259.4,366.0 259.6,367.5 259.8,369.0 260.1,370.5 260.4,372.0 260.6,373.5 260.9,375.0 261.2,376.6 261.6,378.2 261.9,379.7 262.2,381.2 262.6,382.7 262.9,384.2 263.3,385.7 263.6,387.1 264.0,388.6 264.3,390.0 264.7,391.5 265.1,392.9 265.4,394.4 265.8,395.9 266.2,397.4 266.6,398.9 267.0,400.4 267.4,401.9 267.8,403.3 268.2,404.7 268.6,406.2 269.1,407.6 269.6,409.0 270.1,410.4 270.7,411.8 271.3,413.2 271.9,414.6 272.5,416.0 273.2,417.3 273.9,418.7 274.6,420.0 275.3,421.4 276.0,422.7 276.8,424.0 277.6,425.3 278.3,426.6 279.1,427.9 280.0,429.2 280.8,430.5 281.6,431.7 282.5,433.0 283.3,434.3 284.2,435.5 285.1,436.8 286.0,438.0 287.0,439.2 287.9,440.5 288.9,441.7 289.9,442.9 290.9,444.1 291.9,445.3 293.0,446.5 294.0,447.6 295.1,448.8 296.2,450.0 297.2,451.1 298.3,452.2 299.4,453.4 300.5,454.5 301.6,455.7 302.7,456.8 303.8,458.0 305.0,459.2 306.1,460.4 307.3,461.6 308.5,462.7 309.6,463.9 310.8,465.0 311.9,466.1 313.0,467.2 314.2,468.3 315.3,469.3 316.5,470.3 317.7,471.3 318.9,472.3 320.1,473.3 321.2,474.3 322.3,475.3 323.4,476.3 324.4,477.3 325.4,478.3 326.4,479.3 327.4,480.4 328.4,481.5 329.5,482.6 330.5,483.8 331.6,485.0 332.7,486.2 333.8,487.4 334.9,488.7 336.0,489.9 337.0,491.1 338.1,492.4 339.1,493.6 340.2,494.7 341.2,495.9 342.2,497.1 343.2,498.2 344.2,499.4 345.2,500.5 346.2,501.7 347.2,502.8 348.2,504.0 349.2,505.2 350.2,506.3 351.1,507.5 352.1,508.7 353.1,509.9 354.0,511.1 355.0,512.4 355.9,513.6 356.8,514.8 357.7,516.1 358.6,517.3 359.4,518.6 360.3,519.9 361.1,521.2 361.9,522.5 362.8,523.8 363.6,525.1 364.4,526.4 365.2,527.7 366.0,529.1 366.7,530.4 367.5,531.7 368.3,533.1 369.0,534.4 369.8,535.8 370.5,537.1 371.3,538.5 372.0,539.8 372.8,541.2 373.5,542.5 374.3,543.9 375.0,545.3 375.7,546.6 376.5,548.0 377.2,549.4 377.9,550.8 378.6,552.1 379.3,553.5 380.0,554.9 380.7,556.3 381.4,557.7 382.1,559.1 382.7,560.5 383.4,561.9 384.0,563.3 384.6,564.7 385.2,566.2 385.9,567.6 386.4,569.0 387.0,570.4 387.6,571.9 388.1,573.3 388.6,574.7 389.2,576.2 389.7,577.7 390.2,579.1 390.7,580.6 391.2,582.0 391.7,583.5 392.2,585.0 392.7,586.4 393.3,587.9 393.8,589.4 394.3,590.8 394.8,592.3 395.3,593.7 395.9,595.2 396.4,596.6 396.9,598.1 397.5,599.6 398.0,601.0 398.5,602.5 399.1,603.9 399.6,605.4 400.2,606.8 400.7,608.3 401.3,609.8 401.8,611.2 402.3,612.7 402.8,614.1 403.3,615.6 403.8,617.0 404.3,618.4 404.8,619.9 405.3,621.3 405.8,622.8 406.3,624.3 406.8,625.8 407.3,627.2 407.7,628.7 408.2,630.2 408.7,631.7 409.1,633.1 409.6,634.6 410.0,636.1 410.4,637.5 410.9,639.0 411.3,640.5 411.7,641.9 412.1,643.4 412.4,644.9 412.8,646.3 413.2,647.8 413.5,649.3 413.9,650.8 414.2,652.3 414.5,653.8 414.8,655.3 415.1,656.9 415.4,658.4 415.7,659.9 415.9,661.4 416.2,662.8 416.5,664.3 416.8,665.8 417.0,667.2 417.3,668.7 417.6,670.2 417.9,671.7 418.2,673.3 418.6,674.9 418.9,676.6 419.3,678.3 419.6,680.0 420.0,681.6 420.3,683.2 420.6,684.7 421.0,686.2 421.4,687.7 421.8,689.2 422.2,690.6 422.6,692.0 423.1,693.5 423.6,694.9 424.1,693.3 424.6,691.6 425.1,690.0 425.5,688.3 425.9,686.8 426.3,685.2 426.6,683.7 426.9,682.1 427.1,680.7 427.3,679.1 427.5,677.6 427.8,676.0 428.0,674.5 428.2,673.0 428.4,671.5 428.6,670.0 428.8,668.5 428.9,667.1 429.1,665.6 429.3,664.1 429.5,662.7 429.7,661.1 429.9,659.6 430.1,658.1 430.3,656.7 430.6,655.2 430.8,653.7 431.0,652.3 431.2,650.9 431.4,649.4 431.6,647.9 431.8,646.4 432.1,644.9 432.3,643.3 432.5,641.8 432.8,640.2 433.0,638.6 433.3,637.0 433.6,635.4 433.9,633.9 434.2,632.3 434.5,630.8 434.8,629.3 435.1,627.8 435.4,626.2 435.8,624.7 436.2,623.3 436.5,621.8 436.9,620.3 437.4,618.8 437.8,617.3 438.2,615.9 438.7,614.4 439.1,612.9 439.6,611.5 440.0,610.0 440.5,608.6 441.0,607.1 441.4,605.7 441.9,604.2 442.4,602.8 442.9,601.3 443.4,599.8 443.9,598.4 444.3,596.9 444.8,595.5 445.3,594.0 445.8,592.6 446.3,591.1 446.8,589.6 447.4,588.2 447.9,586.7 448.4,585.2 449.0,583.8 449.5,582.3 450.0,580.8 450.6,579.4 451.2,578.0 451.8,576.5 452.4,575.1 453.0,573.7 453.6,572.2 454.2,570.8 454.8,569.3 455.5,567.9 456.1,566.4 456.8,565.0 457.4,563.6 458.1,562.1 458.8,560.7 459.5,559.3 460.2,557.9 460.9,556.5 461.6,555.2 462.4,553.8 463.1,552.5 463.9,551.2 464.7,549.9 465.6,548.6 466.4,547.3 467.3,546.1 468.2,544.8 469.2,543.5 470.2,542.3 471.2,541.1 472.2,539.9 473.2,538.8 474.2,537.6 475.2,536.5 476.3,535.4 477.3,534.3 478.4,533.2 479.5,532.2 480.5,531.1 481.6,530.1 482.7,529.0 483.8,528.0 485.0,527.1 486.1,526.1 487.2,525.1 488.4,524.2 489.6,523.3 490.8,522.3 492.1,521.4 493.3,520.5 494.6,519.6 495.8,518.7 497.1,517.9 498.3,517.1 499.6,516.2 500.8,515.4 502.1,514.6 503.3,513.8 504.7,513.0 506.0,512.2 507.4,511.4 508.7,510.6 510.1,509.8 511.5,509.0 512.9,508.2 514.3,507.4 515.7,506.6 517.1,505.8 518.5,505.1 519.9,504.3 521.2,503.6 522.6,502.9 524.0,502.1 525.3,501.4 526.7,500.7 528.1,500.0 529.5,499.3 530.9,498.7 532.3,498.0 533.7,497.3 535.1,496.7 536.4,496.1 537.8,495.4 539.2,494.8 540.6,494.2 542.0,493.6 543.3,493.0 544.7,492.5 546.1,491.9 547.5,491.3 548.9,490.7 550.4,490.2 551.8,489.6 553.2,489.1 554.7,488.5 556.2,488.0 557.6,487.4 559.1,486.9 560.6,486.4 562.1,485.8 563.5,485.3 565.0,484.8 566.5,484.3 568.0,483.8 569.4,483.4 570.9,482.9 572.4,482.4 573.9,481.9 575.3,481.4 576.8,480.9 578.3,480.5 579.8,480.0 581.2,479.6 582.7,479.1 584.2,478.7 585.6,478.2 587.1,477.8 588.6,477.3 590.1,476.9 591.5,476.5 593.0,476.0 594.5,475.6 596.0,475.2 597.4,474.7 598.9,474.3 600.4,473.9 601.9,473.5 603.3,473.1 604.8,472.7 606.2,472.3 607.7,471.9 609.1,471.5 610.6,471.1 612.0,470.7 613.5,470.3 615.0,469.9 616.4,469.5 617.9,469.1 619.4,468.7 620.9,468.4 622.4,468.0 623.9,467.6 625.4,467.2 626.8,466.8 628.3,466.4 629.8,466.0 631.3,465.6 632.8,465.2 634.3,464.8 635.9,464.4 637.4,464.0 639.0,463.6 640.5,463.2 642.0,462.8 643.6,462.4 645.1,462.0 646.5,461.6 648.0,461.2 649.4,460.8 650.8,460.4 652.2,460.0 653.5,459.6 654.9,459.2 656.4,458.7 657.8,458.2 659.2,457.8 660.7,457.2 662.1,456.7 663.6,456.2 665.2,455.6 666.6,455.1 668.1,454.6 669.5,454.2 670.9,453.7 672.2,453.3 673.5,453.0 674.7,452.6 675.9,452.3 677.2,451.9 678.5,451.6 679.8,451.2 681.2,450.9 682.6,450.5 684.1,450.1 685.5,449.7 687.0,449.4 688.5,449.0 690.1,448.6 691.6,448.2 693.2,447.8 694.8,447.4 696.4,447.0 698.0,446.6 699.6,446.2 701.2,445.8 702.9,445.4 704.5,445.1 706.1,444.7 707.7,444.3 709.3,443.9 710.9,443.5 712.5,443.2 714.1,442.8 715.6,442.5 717.2,442.1 718.7,441.8 720.2,441.4 721.7,441.1 723.1,440.8 724.6,440.5 726.1,440.1 727.6,439.8 729.0,439.5 730.5,439.2 732.0,438.9 733.4,438.6 734.9,438.3 736.4,438.0 737.9,437.7 739.3,437.5 740.8,437.2 742.3,436.9 743.8,436.6 745.2,436.3 746.7,436.0 748.2,435.8 749.7,435.5 751.1,435.2 752.6,434.9 754.1,434.6 755.6,434.4 757.0,434.1 758.5,433.8 760.0,433.5 761.5,433.2 762.9,432.9 764.4,432.6 765.9,432.3 767.4,432.0 768.8,431.7 770.3,431.4 771.8,431.1 773.2,430.8 774.7,430.4 776.2,430.1 777.6,429.8 779.1,429.5 780.6,429.2 782.0,428.8 783.5,428.5 785.0,428.2 786.4,427.9 787.9,427.5 789.3,427.2 790.8,426.9 792.3,426.5 793.7,426.2 795.2,425.9 796.7,425.5 798.1,425.2 799.6,424.9 801.1,424.5 802.5,424.2 804.0,423.9 805.5,423.5 807.0,423.2 808.4,422.8 809.9,422.5 811.4,422.2 812.9,421.8 814.4,421.5 815.9,421.1 817.4,420.8 818.9,420.5 820.3,420.1 821.8,419.8 823.3,419.5 824.8,419.2 826.3,418.8 827.8,418.5 829.3,418.2 830.8,417.9 832.3,417.5 833.8,417.2 835.4,416.9 836.9,416.6 838.5,416.2 840.0,415.9 841.6,415.6 843.1,415.3 844.7,414.9 846.2,414.6 847.8,414.3 849.3,413.9 850.9,413.6 852.4,413.3 853.9,413.0 855.4,412.6 856.9,412.3 858.4,412.0 859.9,411.6 861.3,411.3 862.8,411.0 864.2,410.6 865.6,410.3 867.0,410.0 868.3,409.6 869.7,409.3 871.0,408.9 872.3,408.6 873.6,408.2 875.0,407.9 876.4,407.5 877.9,407.0 879.4,406.5 880.9,406.1 882.5,405.5 884.0,405.0 885.5,404.5 887.0,404.0 888.4,403.5 889.8,402.9 891.2,402.4 892.6,401.9 894.0,401.4 895.3,400.9 896.7,400.4 898.1,399.9 899.5,399.4 900.9,398.9 902.4,398.4 903.8,397.9 905.3,397.4 906.8,396.9 908.3,396.5 909.9,396.0 911.4,395.6 912.9,395.1 914.4,394.7 915.9,394.2 917.4,393.7 918.9,393.3 920.3,392.8 921.8,392.3 923.2,391.9 924.6,391.3 926.0,390.8 927.4,390.3 928.8,389.7 930.2,389.1 931.7,388.5 933.1,387.8 934.4,387.2 935.8,386.5 937.1,385.9 938.4,385.2 939.8,384.5 941.0,383.8 942.3,383.0 943.6,382.3 944.9,381.5 946.2,380.7 947.5,379.8 948.8,379.0 950.1,378.1 951.4,377.2 952.7,376.2 953.9,375.3 955.1,374.3 956.3,373.3 957.5,372.3 958.7,371.3 959.9,370.3 961.0,369.2 962.2,368.1 963.3,367.0 964.4,365.9 965.5,364.8 966.6,363.6 967.6,362.5 968.6,361.3 969.6,360.1 970.6,358.9 971.5,357.7 972.4,356.4 973.3,355.1 974.2,353.8 975.0,352.5 975.8,351.1 976.5,349.8 977.3,348.4 978.0,347.0 978.6,345.6 979.3,344.1 979.9,342.7 980.5,341.2 981.1,339.7 981.7,338.2 982.2,336.7 982.7,335.1 983.2,333.6 983.7,332.1 984.1,330.6 984.6,329.0 985.0,327.5 985.3,325.9 985.7,324.3 986.0,322.7 986.4,321.0 986.7,319.4 986.9,317.8 987.2,316.2 987.5,314.6 987.8,313.1 988.0,311.5 988.3,309.9 988.5,308.3 988.7,306.8 988.9,305.2 989.2,303.6 989.4,302.0 989.6,300.5 989.7,298.9 989.9,297.3 990.1,295.8 990.3,294.2 990.5,292.6" stroke="#000" stroke-width="3.6" clip-path="url(#cp1b)"/>
</g>
<path d="M248.3,920.0v20.3M432.9,920.0v20.3M432.9,225.8v20.3M617.6,920.0v20.3M617.6,225.8v20.3M802.2,920.0v20.3M802.2,225.8v20.3M986.9,920.0v20.3M340.6,920.0v9.7M340.6,225.8v9.7M525.3,920.0v9.7M525.3,225.8v9.7M709.9,920.0v9.7M709.9,225.8v9.7M894.6,920.0v9.7M894.6,225.8v9.7M248.3,295.2h-20.3M986.9,295.2h-20.3M248.3,434.0h-20.3M986.9,434.0h-20.3M248.3,572.9h-20.3M986.9,572.9h-20.3M248.3,711.7h-20.3M986.9,711.7h-20.3M248.3,850.6h-20.3M986.9,850.6h-20.3M248.3,225.8h-9.7M248.3,364.6h-9.7M986.9,364.6h-9.7M248.3,503.4h-9.7M986.9,503.4h-9.7M248.3,642.3h-9.7M986.9,642.3h-9.7M248.3,781.1h-9.7M986.9,781.1h-9.7M248.3,920.0h-9.7" stroke="#000" stroke-width="3.8" fill="none"/>
<rect x="248.3" y="225.75" width="738.6" height="694.2" fill="none" stroke="#000" stroke-width="3.8"/>
<line x1="617.2" y1="292.7" x2="617.2" y2="418.1" stroke="#808000" stroke-width="4.2"/><polygon points="617.2,439.1 602.0,408.1 617.2,418.1 632.5,408.1" fill="#808000"/>
<line x1="617.2" y1="846.2" x2="617.2" y2="733.7" stroke="#808000" stroke-width="4.2"/><polygon points="617.2,712.7 632.5,743.7 617.2,733.7 602.0,743.7" fill="#808000"/>
<line x1="280.0" y1="573.4" x2="353.0" y2="573.4" stroke="#808000" stroke-width="4.2"/><polygon points="374.0,573.4 343.0,588.6 353.0,573.4 343.0,558.1" fill="#808000"/>
<line x1="958.9" y1="573.0" x2="895.5" y2="573.0" stroke="#808000" stroke-width="4.2"/><polygon points="874.5,573.0 905.5,557.8 895.5,573.0 905.5,588.2" fill="#808000"/>
<g class="san" font-size="36.8" fill="#000" text-anchor="end">
<text x="214" y="306.4">40</text>
<text x="214" y="445.2">20</text>
<text x="214" y="584.1">0</text>
<text x="214" y="722.9">-20</text>
<text x="214" y="861.8">-40</text>
</g>
<text class="ser" font-size="41.3" fill="#1a1a1a" text-anchor="middle" transform="translate(140.2,573) rotate(-90)">Magnetic flux density (mT)</text>
<rect x="329" y="298" width="112" height="62.5" fill="#fff"/>
<g class="ser" font-size="36" fill="#808000"><text x="332" y="340" font-style="italic">i</text><text transform="translate(352.6,340) scale(1.36,1)">=</text><text x="387.6" y="340" textLength="49.5" lengthAdjust="spacingAndGlyphs">0.5</text></g>
<!-- chart 2 -->
<clipPath id="cp2"><rect x="250.7" y="984.5" width="737.4000000000001" height="692.9000000000001"/></clipPath>
<line x1="342.9" x2="342.9" y1="1677.4" y2="984.5" stroke="#bdbdbd" stroke-width="2.0" stroke-dasharray="8.7 7"/>
<line x1="527.2" x2="527.2" y1="1677.4" y2="984.5" stroke="#bdbdbd" stroke-width="2.0" stroke-dasharray="8.7 7"/>
<line x1="711.6" x2="711.6" y1="1677.4" y2="984.5" stroke="#bdbdbd" stroke-width="2.0" stroke-dasharray="8.7 7"/>
<line x1="895.9" x2="895.9" y1="1677.4" y2="984.5" stroke="#bdbdbd" stroke-width="2.0" stroke-dasharray="8.7 7"/>
<line y1="1042.2" y2="1042.2" x1="250.7" x2="988.1" stroke="#bdbdbd" stroke-width="2.0" stroke-dasharray="8.7 7"/>
<line y1="1157.7" y2="1157.7" x1="250.7" x2="988.1" stroke="#bdbdbd" stroke-width="2.0" stroke-dasharray="8.7 7"/>
<line y1="1273.2" y2="1273.2" x1="250.7" x2="988.1" stroke="#bdbdbd" stroke-width="2.0" stroke-dasharray="8.7 7"/>
<line y1="1388.7" y2="1388.7" x1="250.7" x2="988.1" stroke="#bdbdbd" stroke-width="2.0" stroke-dasharray="8.7 7"/>
<line y1="1504.2" y2="1504.2" x1="250.7" x2="988.1" stroke="#bdbdbd" stroke-width="2.0" stroke-dasharray="8.7 7"/>
<line y1="1619.7" y2="1619.7" x1="250.7" x2="988.1" stroke="#bdbdbd" stroke-width="2.0" stroke-dasharray="8.7 7"/>
<line x1="435.1" x2="435.1" y1="1677.4" y2="984.5" stroke="#7a7a7a" stroke-width="2.3" stroke-dasharray="10.6 10.5"/>
<line x1="619.4" x2="619.4" y1="1677.4" y2="984.5" stroke="#7a7a7a" stroke-width="2.3" stroke-dasharray="10.6 10.5"/>
<line x1="803.8" x2="803.8" y1="1677.4" y2="984.5" stroke="#7a7a7a" stroke-width="2.3" stroke-dasharray="10.6 10.5"/>
<line y1="1100.0" y2="1100.0" x1="250.7" x2="988.1" stroke="#7a7a7a" stroke-width="2.3" stroke-dasharray="10.6 10.5"/>
<line y1="1215.5" y2="1215.5" x1="250.7" x2="988.1" stroke="#7a7a7a" stroke-width="2.3" stroke-dasharray="10.6 10.5"/>
<line y1="1331.0" y2="1331.0" x1="250.7" x2="988.1" stroke="#7a7a7a" stroke-width="2.3" stroke-dasharray="10.6 10.5"/>
<line y1="1446.4" y2="1446.4" x1="250.7" x2="988.1" stroke="#7a7a7a" stroke-width="2.3" stroke-dasharray="10.6 10.5"/>
<line y1="1561.9" y2="1561.9" x1="250.7" x2="988.1" stroke="#7a7a7a" stroke-width="2.3" stroke-dasharray="10.6 10.5"/>
<g clip-path="url(#cp2)" fill="none" stroke-linejoin="round">
<path d="M258.8,1518.9 260.4,1519.7 262.0,1520.7 263.3,1521.8 264.6,1522.8 265.7,1524.0 266.8,1525.3 267.8,1526.7 268.7,1528.2 269.6,1529.6 270.4,1531.1 271.3,1532.6 272.1,1534.2 272.9,1535.6 273.8,1537.1 274.7,1538.5 275.6,1539.9 276.6,1541.2 277.7,1542.4 278.9,1543.5 280.1,1544.5 281.4,1545.5 282.8,1546.4 284.2,1547.2 285.7,1548.0 287.2,1548.7 288.7,1549.5 290.2,1550.2 291.7,1550.9 293.2,1551.5 294.8,1552.2 296.4,1552.8 297.9,1553.4 299.5,1554.0 301.0,1554.6 302.5,1555.3 303.9,1556.0 305.4,1556.7 306.8,1557.4 308.2,1558.1 309.6,1558.8 311.0,1559.5 312.4,1560.2 313.8,1560.8 315.3,1561.3 316.8,1561.8 318.3,1562.2 319.8,1562.5 321.4,1562.8 323.0,1563.1 324.5,1563.4 326.1,1563.8 327.7,1564.1 329.2,1564.6 330.8,1565.0 332.4,1565.6 333.9,1566.1 335.5,1566.6 337.1,1567.2 338.6,1567.7 340.2,1568.2 341.8,1568.6 343.3,1569.1 344.9,1569.5 346.5,1569.9 348.0,1570.3 349.6,1570.7 351.2,1571.1 352.7,1571.6 354.3,1572.1 355.9,1572.7 357.5,1573.3 359.0,1573.8 360.6,1574.4 362.2,1575.0 363.8,1575.5 365.4,1575.9 367.1,1576.4 368.7,1576.7 370.3,1577.1 372.0,1577.3 373.6,1577.5 375.3,1577.7 376.8,1577.7 378.4,1577.7 379.9,1577.6 381.3,1577.2 382.7,1576.7 384.1,1576.0 385.3,1575.1 386.4,1574.0 387.4,1572.8 388.2,1571.6 388.9,1570.2 389.6,1568.8 390.1,1567.4 390.6,1565.9 391.0,1564.4 391.5,1562.9 391.9,1561.4 392.3,1559.8 392.7,1558.3 393.0,1556.7 393.3,1555.1 393.7,1553.5 394.0,1551.9 394.3,1550.2 394.7,1548.6 395.0,1547.0 395.3,1545.4 395.6,1543.8 395.9,1542.2 396.2,1540.7 396.5,1539.2 396.8,1537.6 397.1,1536.1 397.4,1534.6 397.6,1533.0 397.9,1531.5 398.2,1529.9 398.5,1528.3 398.8,1526.8 399.0,1525.2 399.3,1523.7 399.6,1522.2 399.8,1520.6 400.1,1519.1 400.3,1517.6 400.5,1516.0 400.8,1514.5 401.0,1512.9 401.3,1511.4 401.5,1509.9 401.8,1508.4 402.0,1506.9 402.3,1505.4 402.6,1503.9 402.9,1502.5 403.2,1501.0 403.5,1499.4 403.8,1497.9 404.2,1496.4 404.6,1494.9 404.9,1493.4 405.3,1492.0 405.7,1490.5 406.2,1489.0 406.7,1487.5 407.2,1486.1 407.8,1484.5 408.5,1483.0 409.1,1481.5 409.8,1480.0 410.4,1478.5 411.1,1477.0 411.7,1475.5 412.2,1474.0 412.7,1472.5 413.2,1471.0 413.6,1469.5 413.9,1468.0 414.3,1466.4 414.6,1464.8 414.8,1463.3 415.1,1461.8 415.3,1460.3 415.5,1458.7 415.7,1457.2 415.9,1455.7 416.1,1454.3 416.3,1452.7 416.4,1451.2 416.6,1449.7 416.7,1448.1 416.9,1446.5 417.0,1444.9 417.1,1443.3 417.2,1441.7 417.3,1440.2 417.4,1438.6 417.5,1437.1 417.6,1435.6 417.6,1434.2 417.7,1432.7 417.7,1431.2 417.8,1429.7 417.8,1428.2 417.8,1426.6 417.9,1425.1 417.9,1423.6 417.9,1422.1 418.0,1420.5 418.0,1419.0 418.1,1417.5 418.1,1415.9 418.2,1414.4 418.2,1412.9 418.3,1411.3 418.4,1409.8 418.5,1408.2 418.6,1406.7 418.7,1405.1 418.8,1403.6 418.9,1402.1 419.0,1400.5 419.1,1398.9 419.2,1397.4 419.3,1395.8 419.4,1394.2 419.5,1392.6 419.6,1391.1 419.6,1389.6 419.7,1388.0 419.8,1386.5 419.8,1385.0 419.9,1383.6 420.0,1382.1 420.0,1380.6 420.1,1379.1 420.1,1377.6 420.2,1376.1 420.2,1374.5 420.3,1373.0 420.3,1371.5 420.4,1370.0 420.4,1368.5 420.4,1366.9 420.5,1365.4 420.5,1363.9 420.6,1362.4 420.6,1360.9 420.7,1359.4 420.7,1357.9 420.7,1356.4 420.8,1354.9 420.8,1353.4 420.9,1351.9 420.9,1350.4 420.9,1348.9 421.0,1347.4 421.0,1345.9 421.0,1344.4 421.1,1342.9 421.1,1341.4 421.1,1339.9 421.2,1338.4 421.2,1336.9 421.2,1335.4 421.3,1333.9 421.3,1332.3 421.4,1330.8 421.4,1329.3 421.5,1327.8 421.5,1326.2 421.6,1324.7 421.6,1323.2 421.7,1321.7 421.7,1320.1 421.8,1318.6 421.9,1317.1 421.9,1315.5 422.0,1314.0 422.0,1312.5 422.1,1310.9 422.2,1309.3 422.2,1307.8 422.3,1306.2 422.4,1304.7 422.4,1303.1 422.5,1301.5 422.5,1299.9 422.6,1298.4 422.7,1296.8 422.7,1295.3 422.8,1293.8 422.8,1292.3 422.9,1290.9 422.9,1289.4 422.9,1287.9 423.0,1286.5 423.0,1285.0 423.1,1283.5 423.1,1282.0 423.2,1280.5 423.2,1279.0 423.3,1277.5 423.3,1276.0 423.3,1274.5 423.4,1273.0 423.4,1271.4 423.5,1269.9 423.6,1268.4 423.6,1266.9 423.7,1265.3 423.7,1263.8 423.8,1262.2 423.9,1260.7 423.9,1259.2 424.0,1257.7 424.1,1256.2 424.1,1254.7 424.2,1253.1 424.3,1251.6 424.4,1250.1 424.5,1248.5 424.6,1247.0 424.7,1245.5 424.8,1243.9 424.9,1242.3 425.0,1240.8 425.1,1239.2 425.2,1237.7 425.3,1236.1 425.4,1234.6 425.5,1233.0 425.6,1231.5 425.7,1229.9 425.8,1228.4 425.8,1226.9 425.9,1225.4 426.0,1223.9 426.1,1222.4 426.2,1220.9 426.3,1219.4 426.3,1217.9 426.4,1216.4 426.5,1214.8 426.6,1213.3 426.7,1211.7 426.7,1210.0 426.8,1208.4 426.9,1206.8 427.0,1205.2 427.0,1203.6 427.1,1202.1 427.2,1200.5 427.2,1198.9 427.3,1197.4 427.3,1195.9 427.4,1194.3 427.4,1192.8 427.5,1191.3 427.5,1189.8 427.6,1188.4 427.6,1186.9 427.6,1185.4 427.7,1183.8 427.7,1182.3 427.7,1180.7 427.7,1179.1 427.7,1177.5 427.7,1175.9 427.7,1174.3 427.7,1172.8 427.7,1171.2 427.6,1169.7 427.6,1168.2 427.6,1166.6 427.6,1165.1 427.6,1163.5 427.7,1162.0 427.7,1160.4 427.7,1158.8 427.8,1157.3 427.8,1155.7 427.9,1154.1 428.0,1152.5 428.0,1150.9 428.1,1149.3 428.2,1147.8 428.3,1146.2 428.4,1144.6 428.4,1143.0 428.5,1141.5 428.6,1139.9 428.7,1138.4 428.8,1136.8 428.9,1135.2 429.0,1133.7 429.1,1132.1 429.2,1130.5 429.3,1128.9 429.5,1127.3 429.6,1125.7 429.7,1124.1 429.8,1122.6 430.0,1121.1 430.1,1119.6 430.3,1118.1 430.5,1116.6 430.8,1115.1 431.1,1113.6 431.5,1112.1 431.8,1110.6 432.2,1109.0 432.7,1107.5 433.1,1105.9 433.5,1104.4 433.9,1102.9 434.2,1101.3 434.6,1099.7 435.0,1098.2 435.3,1096.6 435.7,1095.0 436.0,1093.4 436.3,1091.7 436.7,1090.1 437.0,1088.5 437.4,1086.9 437.7,1085.3 438.0,1083.7 438.4,1082.1 438.7,1080.5 439.0,1078.9 439.3,1077.3 439.7,1075.7 440.0,1074.1 440.4,1072.5 440.7,1070.9 441.1,1069.3 441.4,1067.8 441.8,1066.2 442.2,1064.7 442.5,1063.1 442.9,1061.6 443.3,1060.1 443.7,1058.6 444.1,1057.1 444.5,1055.6 445.0,1054.2 445.5,1052.8 446.1,1051.4 446.7,1050.0 447.4,1048.6 448.1,1047.3 449.0,1046.0 449.8,1044.7 450.8,1043.6 451.9,1042.5 453.1,1041.6 454.4,1040.8 455.7,1040.2 457.2,1039.7 458.7,1039.4 460.2,1039.4 461.7,1039.5 463.2,1039.8 464.7,1040.2 466.2,1040.8 467.6,1041.5 469.1,1042.3 470.5,1043.1 472.0,1043.9 473.4,1044.8 474.8,1045.8 476.2,1046.7 477.6,1047.6 479.1,1048.4 480.5,1049.3 481.8,1050.2 483.2,1051.0 484.6,1051.8 486.0,1052.5 487.5,1053.3 488.9,1053.9 490.4,1054.5 491.9,1055.1 493.4,1055.6 495.0,1056.0 496.5,1056.3 498.1,1056.7 499.7,1057.0 501.2,1057.4 502.8,1057.8 504.4,1058.1 506.0,1058.6 507.5,1059.0 509.1,1059.4 510.6,1059.8 512.2,1060.2 513.8,1060.5 515.3,1060.8 516.9,1061.1 518.5,1061.4 520.0,1061.6 521.6,1061.8 523.2,1062.0 524.8,1062.3 526.3,1062.5 527.9,1062.8 529.4,1063.2 531.0,1063.6 532.6,1064.1 534.1,1064.5 535.7,1065.0 537.3,1065.5 538.8,1066.0 540.4,1066.4 542.0,1066.8 543.5,1067.1 545.1,1067.5 546.7,1067.8 548.2,1068.1 549.8,1068.4 551.4,1068.7 552.9,1069.0 554.5,1069.3 556.0,1069.6 557.6,1069.9 559.1,1070.2 560.7,1070.5 562.3,1070.8 563.8,1071.1 565.3,1071.4 566.9,1071.7 568.4,1072.0 569.9,1072.3 571.4,1072.5 572.9,1072.8 574.4,1073.1 575.9,1073.3 577.4,1073.5 579.0,1073.7 580.5,1073.9 582.0,1074.1 583.6,1074.3 585.1,1074.4 586.7,1074.5 588.3,1074.7 589.8,1074.8 591.4,1074.9 592.9,1075.0 594.5,1075.1 596.0,1075.3 597.6,1075.4 599.1,1075.5 600.6,1075.7 602.1,1075.8 603.7,1075.9 605.2,1076.1 606.8,1076.2 608.3,1076.3 609.9,1076.4 611.4,1076.5 612.9,1076.6 614.4,1076.7 615.9,1076.8 617.5,1076.9 619.0,1076.9 620.6,1077.0 622.2,1077.1 623.8,1077.1 625.5,1077.2 627.1,1077.3 628.7,1077.4 630.3,1077.4 631.9,1077.5 633.5,1077.6 635.1,1077.8 636.7,1077.9 638.3,1078.0 639.8,1078.1 641.4,1078.3 643.0,1078.4 644.5,1078.6 646.1,1078.8 647.7,1078.9 649.2,1079.1 650.8,1079.2 652.4,1079.4 653.9,1079.6 655.5,1079.7 657.1,1079.9 658.6,1080.1 660.2,1080.2 661.8,1080.4 663.3,1080.6 664.9,1080.7 666.4,1080.9 668.0,1081.1 669.5,1081.2 671.1,1081.4 672.7,1081.5 674.2,1081.7 675.8,1081.9 677.3,1082.0 678.9,1082.2 680.5,1082.3 682.1,1082.5 683.6,1082.6 685.2,1082.7 686.7,1082.8 688.3,1083.0 689.8,1083.1 691.4,1083.2 692.9,1083.3 694.4,1083.4 696.0,1083.5 697.6,1083.6 699.1,1083.6 700.7,1083.7 702.2,1083.8 703.8,1083.9 705.3,1084.0 706.8,1084.1 708.3,1084.2 709.8,1084.3 711.4,1084.4 712.9,1084.5 714.4,1084.6 715.9,1084.8 717.4,1084.9 718.9,1085.0 720.4,1085.2 721.9,1085.3 723.4,1085.4 724.9,1085.6 726.4,1085.7 727.8,1085.8 729.3,1086.0 730.8,1086.1 732.3,1086.2 733.8,1086.4 735.4,1086.5 736.9,1086.6 738.4,1086.7 740.0,1086.8 741.5,1086.9 743.1,1087.0 744.7,1087.2 746.2,1087.3 747.8,1087.4 749.4,1087.5 751.0,1087.6 752.5,1087.7 754.1,1087.8 755.7,1087.9 757.3,1088.0 758.8,1088.1 760.4,1088.3 761.9,1088.4 763.5,1088.5 765.1,1088.7 766.6,1088.8 768.1,1089.0 769.7,1089.1 771.2,1089.3 772.8,1089.4 774.3,1089.6 775.9,1089.8 777.5,1089.9 779.0,1090.1 780.6,1090.3 782.2,1090.4 783.8,1090.6 785.3,1090.8 786.9,1090.9 788.4,1091.1 790.0,1091.3 791.5,1091.4 793.1,1091.6 794.6,1091.8 796.2,1092.0 797.8,1092.2 799.4,1092.3 801.0,1092.5 802.6,1092.7 804.1,1092.9 805.7,1093.0 807.2,1093.2 808.7,1093.4 810.2,1093.5 811.7,1093.6 813.2,1093.8 814.7,1093.9 816.3,1094.0 817.8,1094.1 819.4,1094.2 821.0,1094.3 822.6,1094.3 824.1,1094.4 825.7,1094.4 827.2,1094.5 828.8,1094.5 830.4,1094.6 831.9,1094.6 833.5,1094.7 835.0,1094.8 836.6,1094.9 838.1,1095.0 839.7,1095.2 841.2,1095.3 842.8,1095.4 844.3,1095.6 845.9,1095.8 847.5,1095.9 849.1,1096.1 850.7,1096.3 852.3,1096.4 853.9,1096.6 855.4,1096.8 857.0,1096.9 858.6,1097.1 860.2,1097.3 861.8,1097.4 863.4,1097.6 865.0,1097.7 866.6,1097.9 868.2,1098.0 869.9,1098.2 871.5,1098.3 873.1,1098.5 874.7,1098.7 876.3,1098.8 877.8,1099.0 879.4,1099.1 880.9,1099.3 882.4,1099.5 883.9,1099.6 885.4,1099.8 886.9,1100.0 888.4,1100.2 889.9,1100.5 891.4,1100.7 892.9,1100.9 894.3,1101.1 895.8,1101.4 897.3,1101.6 898.7,1101.8 900.2,1102.0 901.7,1102.2 903.2,1102.3 904.8,1102.5 906.3,1102.6 907.8,1102.8 909.4,1102.9 910.9,1103.1 912.5,1103.2 914.1,1103.4 915.6,1103.5 917.2,1103.7 918.8,1103.9 920.3,1104.1 921.9,1104.3 923.5,1104.5 925.0,1104.7 926.6,1105.0 928.2,1105.2 929.7,1105.5 931.3,1105.7 932.8,1106.0 934.4,1106.2 935.9,1106.5 937.4,1106.8 938.9,1107.0 940.5,1107.3 942.0,1107.6 943.5,1107.9 945.0,1108.2 946.6,1108.6 948.1,1108.9 949.5,1109.2 951.0,1109.5 952.5,1109.8 954.0,1110.0 955.6,1110.2 957.1,1110.4 958.7,1110.6 960.3,1110.7 961.9,1110.8 963.4,1111.0 965.0,1111.2 966.5,1111.5 968.1,1111.8 969.6,1112.3 971.0,1112.8 972.5,1113.4 974.0,1114.2 975.4,1115.0 976.7,1116.0 978.0,1117.0 979.3,1118.1 980.4,1119.2 981.6,1120.4 982.6,1121.6 983.6,1122.9 984.5,1124.3 985.5,1125.7 986.5,1127.1 987.7,1128.3 989.0,1129.5 990.4,1130.5 991.8,1131.5 993.6,1132.0 995.5,1132.3" stroke="#000" stroke-width="3.6"/>
<path d="M259.0,1132.3 260.9,1132.0 262.7,1131.5 264.1,1130.5 265.5,1129.5 266.8,1128.3 268.0,1127.1 269.0,1125.7 270.0,1124.3 270.9,1122.9 271.9,1121.6 272.9,1120.4 274.1,1119.2 275.2,1118.1 276.5,1117.0 277.8,1116.0 279.1,1115.0 280.5,1114.2 282.0,1113.4 283.5,1112.8 284.9,1112.3 286.4,1111.8 288.0,1111.5 289.5,1111.2 291.1,1111.0 292.6,1110.8 294.2,1110.7 295.8,1110.6 297.4,1110.4 298.9,1110.2 300.5,1110.0 302.0,1109.8 303.5,1109.5 305.0,1109.2 306.4,1108.9 307.9,1108.6 309.5,1108.2 311.0,1107.9 312.5,1107.6 314.0,1107.3 315.6,1107.0 317.1,1106.8 318.6,1106.5 320.1,1106.2 321.7,1106.0 323.2,1105.7 324.8,1105.5 326.3,1105.2 327.9,1105.0 329.5,1104.7 331.0,1104.5 332.6,1104.3 334.2,1104.1 335.7,1103.9 337.3,1103.7 338.9,1103.5 340.4,1103.4 342.0,1103.2 343.6,1103.1 345.1,1102.9 346.7,1102.8 348.2,1102.6 349.7,1102.5 351.3,1102.3 352.8,1102.2 354.3,1102.0 355.8,1101.8 357.2,1101.6 358.7,1101.4 360.2,1101.1 361.6,1100.9 363.1,1100.7 364.6,1100.5 366.1,1100.2 367.6,1100.0 369.1,1099.8 370.6,1099.6 372.1,1099.5 373.6,1099.3 375.1,1099.1 376.7,1099.0 378.2,1098.8 379.8,1098.7 381.4,1098.5 383.0,1098.3 384.6,1098.2 386.3,1098.0 387.9,1097.9 389.5,1097.7 391.1,1097.6 392.7,1097.4 394.3,1097.3 395.9,1097.1 397.5,1096.9 399.1,1096.8 400.6,1096.6 402.2,1096.4 403.8,1096.3 405.4,1096.1 407.0,1095.9 408.6,1095.8 410.2,1095.6 411.7,1095.4 413.3,1095.3 414.8,1095.2 416.4,1095.0 417.9,1094.9 419.5,1094.8 421.0,1094.7 422.6,1094.6 424.1,1094.6 425.7,1094.5 427.3,1094.5 428.8,1094.4 430.4,1094.4 431.9,1094.3 433.5,1094.3 435.1,1094.2 436.7,1094.1 438.2,1094.0 439.8,1093.9 441.3,1093.8 442.8,1093.6 444.3,1093.5 445.8,1093.4 447.3,1093.2 448.8,1093.0 450.4,1092.9 451.9,1092.7 453.5,1092.5 455.1,1092.3 456.7,1092.2 458.3,1092.0 459.9,1091.8 461.4,1091.6 463.0,1091.4 464.5,1091.3 466.1,1091.1 467.6,1090.9 469.2,1090.8 470.7,1090.6 472.3,1090.4 473.9,1090.3 475.5,1090.1 477.0,1089.9 478.6,1089.8 480.2,1089.6 481.7,1089.4 483.3,1089.3 484.8,1089.1 486.4,1089.0 487.9,1088.8 489.4,1088.7 491.0,1088.5 492.6,1088.4 494.1,1088.3 495.7,1088.1 497.2,1088.0 498.8,1087.9 500.4,1087.8 502.0,1087.7 503.5,1087.6 505.1,1087.5 506.7,1087.4 508.3,1087.3 509.8,1087.2 511.4,1087.0 513.0,1086.9 514.5,1086.8 516.1,1086.7 517.6,1086.6 519.1,1086.5 520.7,1086.4 522.2,1086.2 523.7,1086.1 525.2,1086.0 526.7,1085.8 528.1,1085.7 529.6,1085.6 531.1,1085.4 532.6,1085.3 534.1,1085.2 535.6,1085.0 537.1,1084.9 538.6,1084.8 540.1,1084.6 541.6,1084.5 543.1,1084.4 544.7,1084.3 546.2,1084.2 547.7,1084.1 549.2,1084.0 550.7,1083.9 552.3,1083.8 553.8,1083.7 555.4,1083.6 556.9,1083.6 558.5,1083.5 560.1,1083.4 561.6,1083.3 563.1,1083.2 564.7,1083.1 566.2,1083.0 567.8,1082.8 569.3,1082.7 570.9,1082.6 572.4,1082.5 574.0,1082.3 575.6,1082.2 577.2,1082.0 578.7,1081.9 580.3,1081.7 581.8,1081.5 583.4,1081.4 585.0,1081.2 586.5,1081.1 588.1,1080.9 589.6,1080.7 591.2,1080.6 592.7,1080.4 594.3,1080.2 595.9,1080.1 597.4,1079.9 599.0,1079.7 600.6,1079.6 602.1,1079.4 603.7,1079.2 605.3,1079.1 606.8,1078.9 608.4,1078.8 610.0,1078.6 611.5,1078.4 613.1,1078.3 614.7,1078.1 616.2,1078.0 617.8,1077.9 619.4,1077.8 621.0,1077.6 622.6,1077.5 624.2,1077.4 625.8,1077.4 627.4,1077.3 629.0,1077.2 630.7,1077.1 632.3,1077.1 633.9,1077.0 635.5,1076.9 637.0,1076.9 638.6,1076.8 640.1,1076.7 641.6,1076.6 643.1,1076.5 644.6,1076.4 646.2,1076.3 647.7,1076.2 649.3,1076.1 650.8,1075.9 652.4,1075.8 653.9,1075.7 655.4,1075.5 656.9,1075.4 658.5,1075.3 660.0,1075.1 661.6,1075.0 663.1,1074.9 664.7,1074.8 666.2,1074.7 667.8,1074.5 669.4,1074.4 670.9,1074.3 672.5,1074.1 674.0,1073.9 675.5,1073.7 677.1,1073.5 678.6,1073.3 680.1,1073.1 681.6,1072.8 683.1,1072.5 684.6,1072.3 686.1,1072.0 687.6,1071.7 689.2,1071.4 690.7,1071.1 692.2,1070.8 693.8,1070.5 695.4,1070.2 696.9,1069.9 698.5,1069.6 700.0,1069.3 701.6,1069.0 703.1,1068.7 704.7,1068.4 706.3,1068.1 707.8,1067.8 709.4,1067.5 711.0,1067.1 712.5,1066.8 714.1,1066.4 715.7,1066.0 717.2,1065.5 718.8,1065.0 720.4,1064.5 721.9,1064.1 723.5,1063.6 725.1,1063.2 726.6,1062.8 728.2,1062.5 729.7,1062.3 731.3,1062.0 732.9,1061.8 734.5,1061.6 736.0,1061.4 737.6,1061.1 739.2,1060.8 740.7,1060.5 742.3,1060.2 743.9,1059.8 745.4,1059.4 747.0,1059.0 748.5,1058.6 750.1,1058.1 751.7,1057.8 753.3,1057.4 754.8,1057.0 756.4,1056.7 758.0,1056.3 759.5,1056.0 761.1,1055.6 762.6,1055.1 764.1,1054.5 765.6,1053.9 767.0,1053.3 768.5,1052.5 769.9,1051.8 771.3,1051.0 772.7,1050.2 774.0,1049.3 775.4,1048.4 776.9,1047.6 778.3,1046.7 779.7,1045.8 781.1,1044.8 782.5,1043.9 784.0,1043.1 785.4,1042.3 786.9,1041.5 788.3,1040.8 789.8,1040.2 791.3,1039.8 792.8,1039.5 794.3,1039.4 795.8,1039.4 797.3,1039.7 798.8,1040.2 800.1,1040.8 801.4,1041.6 802.6,1042.5 803.7,1043.6 804.7,1044.7 805.5,1046.0 806.4,1047.3 807.1,1048.6 807.8,1050.0 808.4,1051.4 809.0,1052.8 809.5,1054.2 810.0,1055.6 810.4,1057.1 810.8,1058.6 811.2,1060.1 811.6,1061.6 812.0,1063.1 812.3,1064.7 812.7,1066.2 813.1,1067.8 813.4,1069.3 813.8,1070.9 814.1,1072.5 814.5,1074.1 814.8,1075.7 815.2,1077.3 815.5,1078.9 815.8,1080.5 816.1,1082.1 816.5,1083.7 816.8,1085.3 817.1,1086.9 817.5,1088.5 817.8,1090.1 818.2,1091.7 818.5,1093.4 818.8,1095.0 819.2,1096.6 819.5,1098.2 819.9,1099.7 820.3,1101.3 820.6,1102.9 821.0,1104.4 821.4,1105.9 821.8,1107.5 822.3,1109.0 822.7,1110.6 823.0,1112.1 823.4,1113.6 823.7,1115.1 824.0,1116.6 824.2,1118.1 824.4,1119.6 824.5,1121.1 824.7,1122.6 824.8,1124.1 824.9,1125.7 825.0,1127.3 825.2,1128.9 825.3,1130.5 825.4,1132.1 825.5,1133.7 825.6,1135.2 825.7,1136.8 825.8,1138.4 825.9,1139.9 826.0,1141.5 826.1,1143.0 826.1,1144.6 826.2,1146.2 826.3,1147.8 826.4,1149.3 826.5,1150.9 826.5,1152.5 826.6,1154.1 826.7,1155.7 826.7,1157.3 826.8,1158.8 826.8,1160.4 826.8,1162.0 826.9,1163.5 826.9,1165.1 826.9,1166.6 826.9,1168.2 826.9,1169.7 826.8,1171.2 826.8,1172.8 826.8,1174.3 826.8,1175.9 826.8,1177.5 826.8,1179.1 826.8,1180.7 826.8,1182.3 826.8,1183.8 826.9,1185.4 826.9,1186.9 826.9,1188.4 827.0,1189.8 827.0,1191.3 827.1,1192.8 827.1,1194.3 827.2,1195.9 827.2,1197.4 827.3,1198.9 827.3,1200.5 827.4,1202.1 827.5,1203.6 827.5,1205.2 827.6,1206.8 827.7,1208.4 827.8,1210.0 827.8,1211.7 827.9,1213.3 828.0,1214.8 828.1,1216.4 828.2,1217.9 828.2,1219.4 828.3,1220.9 828.4,1222.4 828.5,1223.9 828.6,1225.4 828.7,1226.9 828.7,1228.4 828.8,1229.9 828.9,1231.5 829.0,1233.0 829.1,1234.6 829.2,1236.1 829.3,1237.7 829.4,1239.2 829.5,1240.8 829.6,1242.3 829.7,1243.9 829.8,1245.5 829.9,1247.0 830.0,1248.5 830.1,1250.1 830.2,1251.6 830.3,1253.1 830.4,1254.7 830.4,1256.2 830.5,1257.7 830.6,1259.2 830.6,1260.7 830.7,1262.2 830.8,1263.8 830.8,1265.3 830.9,1266.9 830.9,1268.4 831.0,1269.9 831.1,1271.4 831.1,1273.0 831.2,1274.5 831.2,1276.0 831.2,1277.5 831.3,1279.0 831.3,1280.5 831.4,1282.0 831.4,1283.5 831.5,1285.0 831.5,1286.5 831.6,1287.9 831.6,1289.4 831.6,1290.9 831.7,1292.3 831.7,1293.8 831.8,1295.3 831.8,1296.8 831.9,1298.4 832.0,1299.9 832.0,1301.5 832.1,1303.1 832.1,1304.7 832.2,1306.2 832.3,1307.8 832.3,1309.3 832.4,1310.9 832.5,1312.5 832.5,1314.0 832.6,1315.5 832.6,1317.1 832.7,1318.6 832.8,1320.1 832.8,1321.7 832.9,1323.2 832.9,1324.7 833.0,1326.2 833.0,1327.8 833.1,1329.3 833.1,1330.8 833.2,1332.3 833.2,1333.9 833.3,1335.4 833.3,1336.9 833.3,1338.4 833.4,1339.9 833.4,1341.4 833.4,1342.9 833.5,1344.4 833.5,1345.9 833.5,1347.4 833.6,1348.9 833.6,1350.4 833.6,1351.9 833.7,1353.4 833.7,1354.9 833.8,1356.4 833.8,1357.9 833.8,1359.4 833.9,1360.9 833.9,1362.4 834.0,1363.9 834.0,1365.4 834.1,1366.9 834.1,1368.5 834.1,1370.0 834.2,1371.5 834.2,1373.0 834.3,1374.5 834.3,1376.1 834.4,1377.6 834.4,1379.1 834.5,1380.6 834.5,1382.1 834.6,1383.6 834.7,1385.0 834.7,1386.5 834.8,1388.0 834.9,1389.6 834.9,1391.1 835.0,1392.6 835.1,1394.2 835.2,1395.8 835.3,1397.4 835.4,1398.9 835.5,1400.5 835.6,1402.1 835.7,1403.6 835.8,1405.1 835.9,1406.7 836.0,1408.2 836.1,1409.8 836.2,1411.3 836.3,1412.9 836.3,1414.4 836.4,1415.9 836.4,1417.5 836.5,1419.0 836.5,1420.5 836.6,1422.1 836.6,1423.6 836.6,1425.1 836.7,1426.6 836.7,1428.2 836.7,1429.7 836.8,1431.2 836.8,1432.7 836.9,1434.2 836.9,1435.6 837.0,1437.1 837.1,1438.6 837.2,1440.2 837.3,1441.7 837.4,1443.3 837.5,1444.9 837.6,1446.5 837.8,1448.1 837.9,1449.7 838.1,1451.2 838.2,1452.7 838.4,1454.3 838.6,1455.7 838.8,1457.2 839.0,1458.7 839.2,1460.3 839.4,1461.8 839.7,1463.3 839.9,1464.8 840.2,1466.4 840.6,1468.0 840.9,1469.5 841.3,1471.0 841.8,1472.5 842.3,1474.0 842.8,1475.5 843.4,1477.0 844.1,1478.5 844.7,1480.0 845.4,1481.5 846.0,1483.0 846.7,1484.5 847.3,1486.1 847.8,1487.5 848.3,1489.0 848.8,1490.5 849.2,1492.0 849.6,1493.4 849.9,1494.9 850.3,1496.4 850.7,1497.9 851.0,1499.4 851.3,1501.0 851.6,1502.5 851.9,1503.9 852.2,1505.4 852.5,1506.9 852.7,1508.4 853.0,1509.9 853.2,1511.4 853.5,1512.9 853.7,1514.5 854.0,1516.0 854.2,1517.6 854.4,1519.1 854.7,1520.6 854.9,1522.2 855.2,1523.7 855.5,1525.2 855.7,1526.8 856.0,1528.3 856.3,1529.9 856.6,1531.5 856.9,1533.0 857.1,1534.6 857.4,1536.1 857.7,1537.6 858.0,1539.2 858.3,1540.7 858.6,1542.2 858.9,1543.8 859.2,1545.4 859.5,1547.0 859.8,1548.6 860.2,1550.2 860.5,1551.9 860.8,1553.5 861.2,1555.1 861.5,1556.7 861.8,1558.3 862.2,1559.8 862.6,1561.4 863.0,1562.9 863.5,1564.4 863.9,1565.9 864.4,1567.4 864.9,1568.8 865.6,1570.2 866.3,1571.6 867.1,1572.8 868.1,1574.0 869.2,1575.1 870.4,1576.0 871.8,1576.7 873.2,1577.2 874.6,1577.6 876.1,1577.7 877.7,1577.7 879.2,1577.7 880.9,1577.5 882.5,1577.3 884.2,1577.1 885.8,1576.7 887.4,1576.4 889.1,1575.9 890.7,1575.5 892.3,1575.0 893.9,1574.4 895.5,1573.8 897.0,1573.3 898.6,1572.7 900.2,1572.1 901.8,1571.6 903.3,1571.1 904.9,1570.7 906.5,1570.3 908.0,1569.9 909.6,1569.5 911.2,1569.1 912.7,1568.6 914.3,1568.2 915.9,1567.7 917.4,1567.2 919.0,1566.6 920.6,1566.1 922.1,1565.6 923.7,1565.0 925.3,1564.6 926.8,1564.1 928.4,1563.8 930.0,1563.4 931.5,1563.1 933.1,1562.8 934.7,1562.5 936.2,1562.2 937.7,1561.8 939.2,1561.3 940.7,1560.8 942.1,1560.2 943.5,1559.5 944.9,1558.8 946.3,1558.1 947.7,1557.4 949.1,1556.7 950.6,1556.0 952.0,1555.3 953.5,1554.6 955.0,1554.0 956.6,1553.4 958.1,1552.8 959.7,1552.2 961.3,1551.5 962.8,1550.9 964.3,1550.2 965.8,1549.5 967.3,1548.7 968.8,1548.0 970.3,1547.2 971.7,1546.4 973.1,1545.5 974.4,1544.5 975.6,1543.5 976.8,1542.4 977.9,1541.2 978.9,1539.9 979.8,1538.5 980.7,1537.1 981.6,1535.6 982.4,1534.2 983.2,1532.6 984.1,1531.1 984.9,1529.6 985.8,1528.2 986.7,1526.7 987.7,1525.3 988.8,1524.0 989.9,1522.8 991.2,1521.8 992.5,1520.7 994.1,1519.7 995.7,1518.9" stroke="#000" stroke-width="3.6" stroke-dasharray="15 5.5 4 5.5"/>
<path d="M258.8,1518.9 260.5,1519.6 262.0,1520.5 263.2,1521.7 264.4,1522.8 265.5,1524.1 266.4,1525.5 267.2,1526.9 267.9,1528.4 268.6,1530.0 269.2,1531.5 269.8,1533.1 270.3,1534.6 270.8,1536.2 271.2,1537.7 271.7,1539.3 272.2,1540.8 272.8,1542.3 273.4,1543.8 274.0,1545.2 274.7,1546.6 275.5,1547.9 276.3,1549.2 277.2,1550.5 278.1,1551.7 279.2,1552.8 280.3,1553.9 281.5,1554.9 282.8,1555.8 284.2,1556.7 285.6,1557.5 287.1,1558.2 288.6,1559.0 290.1,1559.6 291.6,1560.2 293.2,1560.8 294.7,1561.4 296.3,1561.9 297.9,1562.4 299.4,1562.9 301.0,1563.5 302.5,1564.1 303.9,1564.7 305.4,1565.4 306.8,1566.1 308.2,1566.9 309.6,1567.6 311.0,1568.3 312.4,1568.9 313.8,1569.6 315.3,1570.1 316.8,1570.5 318.3,1570.9 319.8,1571.3 321.4,1571.6 323.0,1571.9 324.5,1572.2 326.1,1572.5 327.7,1573.0 329.3,1573.5 330.8,1574.0 332.4,1574.6 333.9,1575.3 335.5,1575.9 337.1,1576.5 338.6,1577.1 340.2,1577.6 341.8,1578.0 343.3,1578.4 344.9,1578.7 346.5,1579.0 348.0,1579.3 349.6,1579.7 351.2,1580.0 352.7,1580.4 354.3,1580.9 355.9,1581.5 357.4,1582.0 359.0,1582.7 360.6,1583.3 362.1,1584.0 363.7,1584.6 365.3,1585.3 366.8,1586.0 368.4,1586.6 369.9,1587.3 371.5,1587.9 373.1,1588.5 374.6,1589.1 376.2,1589.7 377.8,1590.1 379.4,1590.6 380.9,1590.9 382.5,1591.2 384.1,1591.5 385.7,1591.8 387.2,1592.2 388.8,1592.6 390.3,1593.0 391.8,1593.6 393.3,1594.2 394.7,1594.8 396.1,1595.4 397.6,1596.1 399.0,1596.6 400.5,1597.2 401.9,1597.6 403.4,1597.9 404.9,1598.0 406.5,1598.0 408.0,1597.8 409.5,1597.4 411.0,1596.9 412.3,1596.1 413.5,1595.1 414.6,1594.0 415.6,1592.7 416.4,1591.4 417.1,1589.9 417.8,1588.4 418.5,1586.9 419.1,1585.3 419.8,1583.7 420.4,1582.2 421.0,1580.6 421.7,1579.0 422.3,1577.4 422.9,1575.8 423.5,1574.3 424.1,1572.7 424.7,1571.2 425.3,1569.7 425.9,1568.3 426.6,1566.8 427.3,1565.5 428.1,1564.1 429.0,1562.8 430.0,1561.6 431.0,1560.3 432.0,1559.0 433.0,1557.7 433.8,1556.3 434.6,1554.9 435.3,1553.4 435.9,1551.9 436.4,1550.2 436.9,1548.6 437.4,1547.0 437.8,1545.5 438.3,1543.9 438.7,1542.4 439.1,1540.9 439.5,1539.4 439.8,1537.9 440.2,1536.4 440.6,1534.9 440.9,1533.4 441.3,1531.8 441.6,1530.3 441.9,1528.8 442.3,1527.3 442.6,1525.8 442.9,1524.3 443.2,1522.8 443.5,1521.2 443.8,1519.7 444.1,1518.1 444.4,1516.6 444.6,1515.0 444.9,1513.4 445.1,1511.8 445.4,1510.2 445.6,1508.7 445.8,1507.1 446.0,1505.6 446.1,1504.1 446.3,1502.5 446.5,1500.9 446.6,1499.4 446.8,1497.8 446.9,1496.2 447.1,1494.6 447.2,1493.0 447.3,1491.4 447.5,1489.8 447.6,1488.3 447.8,1486.7 447.9,1485.1 448.1,1483.5 448.2,1481.9 448.4,1480.3 448.6,1478.8 448.7,1477.2 448.9,1475.6 449.1,1474.0 449.2,1472.4 449.4,1470.8 449.6,1469.3 449.7,1467.7 449.9,1466.1 450.0,1464.6 450.2,1463.1 450.3,1461.5 450.4,1460.0 450.5,1458.5 450.7,1456.9 450.8,1455.4 450.9,1453.9 451.0,1452.4 451.1,1451.0 451.2,1449.5 451.3,1448.0 451.4,1446.4 451.4,1444.9 451.5,1443.3 451.6,1441.8 451.6,1440.3 451.7,1438.7 451.7,1437.3 451.8,1435.8 451.8,1434.3 451.8,1432.8 451.9,1431.3 451.9,1429.8 451.9,1428.2 451.9,1426.7 451.9,1425.1 451.9,1423.5 451.9,1421.8 452.0,1420.2 452.0,1418.6 452.0,1417.0 452.0,1415.4 452.0,1413.8 452.0,1412.2 452.1,1410.6 452.1,1409.0 452.1,1407.5 452.2,1405.9 452.2,1404.4 452.3,1402.9 452.4,1401.3 452.4,1399.8 452.5,1398.3 452.6,1396.8 452.7,1395.2 452.8,1393.7 452.8,1392.2 452.9,1390.7 453.0,1389.3 453.1,1387.8 453.2,1386.3 453.3,1384.8 453.4,1383.3 453.5,1381.8 453.6,1380.3 453.7,1378.9 453.8,1377.4 453.9,1375.9 454.0,1374.4 454.1,1372.9 454.2,1371.4 454.2,1369.8 454.3,1368.3 454.4,1366.8 454.5,1365.3 454.6,1363.8 454.7,1362.2 454.8,1360.7 454.9,1359.2 454.9,1357.7 455.0,1356.2 455.1,1354.7 455.2,1353.2 455.3,1351.7 455.4,1350.2 455.5,1348.7 455.6,1347.2 455.6,1345.7 455.7,1344.2 455.8,1342.6 455.9,1341.1 456.0,1339.5 456.1,1337.9 456.2,1336.3 456.3,1334.7 456.3,1333.1 456.4,1331.6 456.5,1330.0 456.6,1328.5 456.7,1326.9 456.8,1325.4 456.9,1323.9 457.0,1322.3 457.1,1320.8 457.3,1319.3 457.4,1317.7 457.5,1316.2 457.7,1314.7 457.8,1313.2 458.0,1311.7 458.2,1310.2 458.3,1308.7 458.5,1307.3 458.7,1305.8 458.8,1304.3 459.0,1302.8 459.2,1301.3 459.4,1299.8 459.6,1298.2 459.7,1296.7 459.9,1295.2 460.1,1293.6 460.3,1292.1 460.5,1290.5 460.7,1289.0 460.9,1287.4 461.1,1285.9 461.2,1284.3 461.4,1282.7 461.6,1281.1 461.8,1279.5 462.0,1278.0 462.2,1276.4 462.4,1274.8 462.6,1273.3 462.7,1271.7 462.9,1270.1 463.1,1268.6 463.3,1267.0 463.4,1265.5 463.6,1263.9 463.7,1262.4 463.9,1260.8 464.1,1259.3 464.2,1257.7 464.4,1256.2 464.5,1254.6 464.7,1253.0 464.8,1251.4 465.0,1249.9 465.1,1248.3 465.2,1246.8 465.4,1245.3 465.5,1243.7 465.6,1242.3 465.7,1240.8 465.8,1239.3 465.9,1237.8 466.0,1236.3 466.2,1234.8 466.3,1233.3 466.4,1231.8 466.5,1230.3 466.6,1228.8 466.7,1227.3 466.7,1225.8 466.8,1224.2 466.9,1222.7 467.0,1221.2 467.1,1219.6 467.2,1218.1 467.2,1216.6 467.3,1215.0 467.4,1213.5 467.4,1212.0 467.5,1210.5 467.6,1208.9 467.6,1207.4 467.6,1205.9 467.7,1204.3 467.7,1202.8 467.8,1201.2 467.8,1199.7 467.9,1198.1 467.9,1196.6 467.9,1195.0 468.0,1193.5 468.0,1191.9 468.1,1190.3 468.1,1188.7 468.2,1187.2 468.2,1185.6 468.3,1184.1 468.3,1182.6 468.4,1181.1 468.4,1179.6 468.5,1178.1 468.5,1176.6 468.6,1175.1 468.7,1173.6 468.7,1172.1 468.8,1170.6 468.8,1169.1 468.9,1167.6 469.0,1166.1 469.0,1164.6 469.1,1163.1 469.2,1161.6 469.2,1160.0 469.3,1158.5 469.4,1157.0 469.4,1155.5 469.5,1154.0 469.6,1152.4 469.6,1150.9 469.7,1149.4 469.8,1147.9 469.8,1146.4 469.9,1144.9 470.0,1143.4 470.0,1141.8 470.1,1140.3 470.1,1138.8 470.2,1137.3 470.3,1135.8 470.3,1134.2 470.4,1132.7 470.5,1131.2 470.5,1129.6 470.6,1128.1 470.7,1126.6 470.7,1125.1 470.8,1123.6 470.9,1122.1 470.9,1120.6 471.0,1119.1 471.1,1117.6 471.2,1116.1 471.3,1114.6 471.3,1113.2 471.4,1111.7 471.5,1110.2 471.6,1108.7 471.7,1107.1 471.8,1105.6 471.9,1104.0 472.0,1102.5 472.2,1101.0 472.3,1099.4 472.4,1097.9 472.5,1096.4 472.6,1094.9 472.7,1093.4 472.9,1091.9 473.0,1090.4 473.1,1089.0 473.3,1087.5 473.4,1086.0 473.6,1084.6 473.7,1083.1 473.9,1081.6 474.0,1080.1 474.2,1078.5 474.4,1077.0 474.6,1075.4 474.8,1073.8 475.0,1072.1 475.2,1070.6 475.4,1069.0 475.6,1067.4 475.9,1065.8 476.1,1064.3 476.3,1062.7 476.6,1061.2 476.9,1059.7 477.2,1058.2 477.5,1056.6 477.8,1055.1 478.2,1053.5 478.6,1051.9 479.0,1050.3 479.5,1048.6 479.9,1047.0 480.4,1045.4 480.9,1043.9 481.4,1042.3 481.9,1040.8 482.4,1039.4 483.0,1037.9 483.6,1036.4 484.2,1035.0 484.8,1033.5 485.5,1032.0 486.2,1030.6 487.0,1029.1 487.8,1027.7 488.6,1026.4 489.6,1025.1 490.5,1023.9 491.6,1022.7 492.7,1021.6 493.9,1020.5 495.2,1019.5 496.6,1018.6 498.0,1017.8 499.5,1017.1 501.1,1016.5 502.7,1016.1 504.4,1015.7 506.1,1015.5 507.8,1015.4 509.5,1015.5 511.2,1015.7 512.8,1015.9 514.5,1016.3 516.2,1016.7 517.9,1017.1 519.5,1017.5 521.2,1018.0 522.9,1018.5 524.5,1019.0 526.1,1019.6 527.7,1020.3 529.2,1021.0 530.7,1021.8 532.1,1022.7 533.6,1023.6 535.0,1024.5 536.4,1025.4 537.8,1026.2 539.2,1027.0 540.5,1027.8 541.9,1028.6 543.3,1029.3 544.7,1030.0 546.1,1030.7 547.5,1031.3 549.0,1032.0 550.4,1032.6 551.9,1033.2 553.3,1033.7 554.8,1034.3 556.3,1034.8 557.8,1035.3 559.4,1035.8 560.9,1036.3 562.4,1036.7 563.9,1037.2 565.4,1037.6 566.9,1038.1 568.4,1038.5 569.9,1038.9 571.4,1039.3 572.9,1039.7 574.4,1040.0 575.9,1040.4 577.5,1040.7 579.0,1041.1 580.5,1041.4 582.0,1041.7 583.6,1041.9 585.2,1042.2 586.7,1042.4 588.3,1042.7 589.8,1042.9 591.4,1043.1 592.9,1043.4 594.5,1043.7 596.0,1044.0 597.6,1044.3 599.1,1044.7 600.6,1045.1 602.1,1045.5 603.7,1046.0 605.2,1046.4 606.8,1046.8 608.3,1047.2 609.9,1047.6 611.4,1047.9 612.9,1048.2 614.4,1048.6 615.9,1048.8 617.4,1049.1 619.0,1049.4 620.6,1049.7 622.2,1050.0 623.8,1050.3 625.4,1050.5 627.1,1050.8 628.7,1051.1 630.3,1051.4 631.9,1051.6 633.5,1051.9 635.1,1052.2 636.7,1052.5 638.3,1052.7 639.8,1053.0 641.4,1053.3 643.0,1053.6 644.5,1053.8 646.1,1054.1 647.7,1054.4 649.2,1054.7 650.8,1054.9 652.4,1055.2 653.9,1055.4 655.5,1055.7 657.1,1055.9 658.6,1056.2 660.2,1056.4 661.8,1056.7 663.3,1056.9 664.9,1057.1 666.4,1057.4 668.0,1057.6 669.5,1057.8 671.1,1058.0 672.6,1058.2 674.2,1058.4 675.8,1058.6 677.3,1058.8 678.9,1059.0 680.5,1059.2 682.1,1059.4 683.6,1059.5 685.2,1059.7 686.7,1059.8 688.3,1059.9 689.8,1060.1 691.4,1060.2 692.9,1060.3 694.4,1060.4 696.0,1060.4 697.6,1060.5 699.1,1060.6 700.7,1060.7 702.2,1060.8 703.8,1060.9 705.3,1060.9 706.8,1061.0 708.3,1061.1 709.8,1061.2 711.4,1061.4 712.9,1061.5 714.4,1061.6 715.9,1061.8 717.4,1061.9 718.9,1062.1 720.4,1062.2 721.9,1062.4 723.4,1062.5 724.9,1062.7 726.4,1062.9 727.8,1063.1 729.3,1063.2 730.8,1063.4 732.3,1063.6 733.8,1063.8 735.4,1064.0 736.9,1064.2 738.4,1064.3 740.0,1064.5 741.5,1064.7 743.1,1064.9 744.7,1065.1 746.2,1065.4 747.8,1065.6 749.4,1065.8 751.0,1066.0 752.5,1066.2 754.1,1066.4 755.7,1066.6 757.3,1066.8 758.8,1067.0 760.4,1067.2 761.9,1067.4 763.5,1067.6 765.1,1067.8 766.6,1068.0 768.1,1068.2 769.7,1068.3 771.2,1068.5 772.8,1068.7 774.3,1068.9 775.9,1069.1 777.5,1069.3 779.0,1069.5 780.6,1069.6 782.2,1069.8 783.8,1070.0 785.3,1070.2 786.9,1070.4 788.4,1070.6 790.0,1070.8 791.5,1071.0 793.1,1071.2 794.6,1071.4 796.2,1071.6 797.8,1071.8 799.4,1072.0 801.0,1072.2 802.6,1072.4 804.1,1072.6 805.7,1072.8 807.2,1073.0 808.8,1073.1 810.2,1073.3 811.7,1073.5 813.2,1073.7 814.7,1073.8 816.3,1074.0 817.8,1074.1 819.4,1074.3 821.0,1074.4 822.6,1074.6 824.1,1074.7 825.7,1074.9 827.2,1075.0 828.8,1075.1 830.4,1075.3 831.9,1075.4 833.5,1075.6 835.0,1075.7 836.6,1075.9 838.1,1076.1 839.7,1076.3 841.2,1076.5 842.8,1076.7 844.3,1076.9 845.9,1077.1 847.5,1077.3 849.1,1077.5 850.7,1077.7 852.3,1077.9 853.9,1078.1 855.4,1078.4 857.0,1078.6 858.6,1078.8 860.2,1079.0 861.8,1079.2 863.3,1079.4 864.9,1079.6 866.5,1079.8 868.0,1080.0 869.6,1080.2 871.2,1080.4 872.7,1080.6 874.3,1080.8 875.9,1081.0 877.4,1081.2 879.0,1081.4 880.6,1081.6 882.1,1081.8 883.7,1082.0 885.3,1082.2 886.8,1082.4 888.4,1082.6 889.9,1082.8 891.5,1083.0 893.1,1083.2 894.6,1083.4 896.2,1083.5 897.8,1083.7 899.3,1083.9 900.9,1084.1 902.5,1084.3 904.0,1084.5 905.6,1084.7 907.2,1084.9 908.7,1085.1 910.3,1085.3 911.9,1085.5 913.5,1085.7 915.1,1085.9 916.6,1086.1 918.2,1086.3 919.8,1086.5 921.4,1086.8 923.0,1087.0 924.6,1087.2 926.2,1087.4 927.7,1087.7 929.3,1087.9 930.8,1088.2 932.4,1088.5 933.9,1088.8 935.5,1089.1 937.0,1089.4 938.6,1089.7 940.2,1090.1 941.8,1090.5 943.4,1090.9 945.0,1091.3 946.6,1091.7 948.1,1092.1 949.6,1092.5 951.1,1092.9 952.6,1093.3 954.1,1093.7 955.6,1094.0 957.2,1094.4 958.8,1094.8 960.4,1095.2 962.0,1095.6 963.5,1096.0 965.0,1096.4 966.6,1096.9 968.1,1097.5 969.6,1098.2 971.0,1098.9 972.5,1099.8 974.0,1100.7 975.4,1101.7 976.7,1102.8 978.0,1104.0 979.2,1105.2 980.4,1106.5 981.4,1107.9 982.4,1109.3 983.2,1110.8 984.0,1112.3 984.7,1113.8 985.3,1115.3 985.9,1116.9 986.6,1118.4 987.2,1119.8 988.0,1121.2 989.0,1122.5 990.0,1123.6 991.2,1124.7 992.5,1125.7 994.0,1126.5 995.5,1127.3" stroke="#ff0000" stroke-width="3.6"/>
<path d="M257.5,1127.3 259.0,1126.5 260.5,1125.7 261.8,1124.7 263.0,1123.6 264.0,1122.5 265.0,1121.2 265.8,1119.8 266.4,1118.4 267.1,1116.9 267.7,1115.3 268.3,1113.8 269.0,1112.3 269.8,1110.8 270.6,1109.3 271.6,1107.9 272.6,1106.5 273.8,1105.2 275.0,1104.0 276.3,1102.8 277.6,1101.7 279.0,1100.7 280.5,1099.8 282.0,1098.9 283.4,1098.2 284.9,1097.5 286.4,1096.9 288.0,1096.4 289.5,1096.0 291.0,1095.6 292.6,1095.2 294.2,1094.8 295.8,1094.4 297.4,1094.0 298.9,1093.7 300.4,1093.3 301.9,1092.9 303.4,1092.5 304.9,1092.1 306.4,1091.7 308.0,1091.3 309.6,1090.9 311.2,1090.5 312.8,1090.1 314.4,1089.7 316.0,1089.4 317.5,1089.1 319.1,1088.8 320.6,1088.5 322.2,1088.2 323.7,1087.9 325.3,1087.7 326.8,1087.4 328.4,1087.2 330.0,1087.0 331.6,1086.8 333.2,1086.5 334.8,1086.3 336.4,1086.1 337.9,1085.9 339.5,1085.7 341.1,1085.5 342.7,1085.3 344.3,1085.1 345.8,1084.9 347.4,1084.7 349.0,1084.5 350.5,1084.3 352.1,1084.1 353.7,1083.9 355.2,1083.7 356.8,1083.5 358.4,1083.4 359.9,1083.2 361.5,1083.0 363.1,1082.8 364.6,1082.6 366.2,1082.4 367.7,1082.2 369.3,1082.0 370.9,1081.8 372.4,1081.6 374.0,1081.4 375.6,1081.2 377.1,1081.0 378.7,1080.8 380.3,1080.6 381.8,1080.4 383.4,1080.2 385.0,1080.0 386.5,1079.8 388.1,1079.6 389.7,1079.4 391.2,1079.2 392.8,1079.0 394.4,1078.8 396.0,1078.6 397.6,1078.4 399.1,1078.1 400.7,1077.9 402.3,1077.7 403.9,1077.5 405.5,1077.3 407.1,1077.1 408.7,1076.9 410.2,1076.7 411.8,1076.5 413.3,1076.3 414.9,1076.1 416.4,1075.9 418.0,1075.7 419.5,1075.6 421.1,1075.4 422.6,1075.3 424.2,1075.1 425.8,1075.0 427.3,1074.9 428.9,1074.7 430.4,1074.6 432.0,1074.4 433.6,1074.3 435.2,1074.1 436.7,1074.0 438.3,1073.8 439.8,1073.7 441.3,1073.5 442.8,1073.3 444.2,1073.1 445.8,1073.0 447.3,1072.8 448.9,1072.6 450.4,1072.4 452.0,1072.2 453.6,1072.0 455.2,1071.8 456.8,1071.6 458.4,1071.4 459.9,1071.2 461.5,1071.0 463.0,1070.8 464.6,1070.6 466.1,1070.4 467.7,1070.2 469.2,1070.0 470.8,1069.8 472.4,1069.6 474.0,1069.5 475.5,1069.3 477.1,1069.1 478.7,1068.9 480.2,1068.7 481.8,1068.5 483.3,1068.3 484.9,1068.2 486.4,1068.0 487.9,1067.8 489.5,1067.6 491.1,1067.4 492.6,1067.2 494.2,1067.0 495.7,1066.8 497.3,1066.6 498.9,1066.4 500.5,1066.2 502.0,1066.0 503.6,1065.8 505.2,1065.6 506.8,1065.4 508.3,1065.1 509.9,1064.9 511.5,1064.7 513.0,1064.5 514.6,1064.3 516.1,1064.2 517.6,1064.0 519.2,1063.8 520.7,1063.6 522.2,1063.4 523.7,1063.2 525.2,1063.1 526.6,1062.9 528.1,1062.7 529.6,1062.5 531.1,1062.4 532.6,1062.2 534.1,1062.1 535.6,1061.9 537.1,1061.8 538.6,1061.6 540.1,1061.5 541.6,1061.4 543.2,1061.2 544.7,1061.1 546.2,1061.0 547.7,1060.9 549.2,1060.9 550.8,1060.8 552.3,1060.7 553.9,1060.6 555.4,1060.5 557.0,1060.4 558.6,1060.4 560.1,1060.3 561.6,1060.2 563.2,1060.1 564.7,1059.9 566.3,1059.8 567.8,1059.7 569.4,1059.5 570.9,1059.4 572.5,1059.2 574.1,1059.0 575.7,1058.8 577.2,1058.6 578.8,1058.4 580.4,1058.2 581.9,1058.0 583.5,1057.8 585.0,1057.6 586.6,1057.4 588.1,1057.1 589.7,1056.9 591.2,1056.7 592.8,1056.4 594.4,1056.2 595.9,1055.9 597.5,1055.7 599.1,1055.4 600.6,1055.2 602.2,1054.9 603.8,1054.7 605.3,1054.4 606.9,1054.1 608.5,1053.8 610.0,1053.6 611.6,1053.3 613.2,1053.0 614.7,1052.7 616.3,1052.5 617.9,1052.2 619.5,1051.9 621.1,1051.6 622.7,1051.4 624.3,1051.1 625.9,1050.8 627.6,1050.5 629.2,1050.3 630.8,1050.0 632.4,1049.7 634.0,1049.4 635.6,1049.1 637.1,1048.8 638.6,1048.6 640.1,1048.2 641.6,1047.9 643.1,1047.6 644.7,1047.2 646.2,1046.8 647.8,1046.4 649.3,1046.0 650.9,1045.5 652.4,1045.1 653.9,1044.7 655.4,1044.3 657.0,1044.0 658.5,1043.7 660.1,1043.4 661.6,1043.1 663.2,1042.9 664.7,1042.7 666.3,1042.4 667.8,1042.2 669.4,1041.9 671.0,1041.7 672.5,1041.4 674.0,1041.1 675.5,1040.7 677.1,1040.4 678.6,1040.0 680.1,1039.7 681.6,1039.3 683.1,1038.9 684.6,1038.5 686.1,1038.1 687.6,1037.6 689.1,1037.2 690.6,1036.7 692.1,1036.3 693.6,1035.8 695.2,1035.3 696.7,1034.8 698.2,1034.3 699.7,1033.7 701.1,1033.2 702.6,1032.6 704.0,1032.0 705.5,1031.3 706.9,1030.7 708.3,1030.0 709.7,1029.3 711.1,1028.6 712.5,1027.8 713.8,1027.0 715.2,1026.2 716.6,1025.4 718.0,1024.5 719.4,1023.6 720.9,1022.7 722.3,1021.8 723.8,1021.0 725.3,1020.3 726.9,1019.6 728.5,1019.0 730.1,1018.5 731.8,1018.0 733.5,1017.5 735.1,1017.1 736.8,1016.7 738.5,1016.3 740.2,1015.9 741.8,1015.7 743.5,1015.5 745.2,1015.4 746.9,1015.5 748.6,1015.7 750.3,1016.1 751.9,1016.5 753.5,1017.1 755.0,1017.8 756.4,1018.6 757.8,1019.5 759.1,1020.5 760.3,1021.6 761.5,1022.8 762.6,1024.0 763.6,1025.3 764.5,1026.7 765.4,1028.1 766.2,1029.5 767.0,1030.9 767.7,1032.4 768.4,1033.8 769.0,1035.2 769.6,1036.6 770.2,1038.0 770.7,1039.4 771.3,1040.8 771.8,1042.3 772.4,1043.7 772.9,1045.2 773.4,1046.6 773.9,1048.1 774.4,1049.5 774.9,1051.0 775.4,1052.5 775.9,1054.0 776.4,1055.5 776.9,1057.1 777.4,1058.6 777.8,1060.1 778.3,1061.6 778.7,1063.1 779.1,1064.7 779.5,1066.2 779.9,1067.7 780.3,1069.2 780.7,1070.8 781.1,1072.4 781.5,1073.9 781.8,1075.5 782.2,1077.1 782.6,1078.6 783.0,1080.2 783.4,1081.7 783.8,1083.2 784.2,1084.8 784.6,1086.3 785.1,1087.8 785.5,1089.3 785.9,1090.9 786.3,1092.4 786.7,1094.0 787.0,1095.5 787.3,1097.1 787.6,1098.6 787.9,1100.2 788.2,1101.7 788.4,1103.3 788.6,1104.8 788.7,1106.4 788.9,1107.9 789.0,1109.5 789.1,1111.0 789.2,1112.6 789.3,1114.2 789.4,1115.8 789.5,1117.4 789.6,1119.0 789.7,1120.6 789.8,1122.1 789.9,1123.7 790.0,1125.3 790.1,1126.9 790.2,1128.4 790.3,1130.0 790.5,1131.5 790.6,1133.1 790.7,1134.6 790.8,1136.2 790.9,1137.7 791.0,1139.3 791.1,1140.8 791.2,1142.4 791.3,1144.0 791.4,1145.6 791.5,1147.2 791.6,1148.7 791.7,1150.3 791.8,1151.8 791.8,1153.3 791.9,1154.8 792.0,1156.2 792.1,1157.7 792.1,1159.2 792.2,1160.7 792.3,1162.2 792.3,1163.7 792.4,1165.2 792.5,1166.8 792.5,1168.3 792.6,1169.8 792.6,1171.3 792.7,1172.8 792.8,1174.3 792.8,1175.9 792.9,1177.4 792.9,1178.9 793.0,1180.4 793.1,1181.9 793.1,1183.4 793.2,1184.9 793.2,1186.3 793.3,1187.8 793.4,1189.3 793.4,1190.7 793.5,1192.2 793.5,1193.7 793.6,1195.2 793.7,1196.6 793.7,1198.1 793.8,1199.6 793.8,1201.2 793.9,1202.7 794.0,1204.2 794.0,1205.8 794.1,1207.3 794.1,1208.8 794.2,1210.4 794.3,1211.9 794.3,1213.4 794.4,1214.9 794.4,1216.3 794.5,1217.8 794.5,1219.3 794.6,1220.8 794.7,1222.4 794.7,1223.9 794.8,1225.5 794.8,1227.0 794.9,1228.6 795.0,1230.2 795.0,1231.7 795.1,1233.3 795.2,1234.9 795.2,1236.5 795.3,1238.0 795.3,1239.6 795.4,1241.1 795.5,1242.6 795.5,1244.2 795.6,1245.7 795.6,1247.2 795.7,1248.7 795.7,1250.2 795.8,1251.7 795.9,1253.3 795.9,1254.8 796.0,1256.3 796.0,1257.9 796.1,1259.4 796.1,1261.0 796.2,1262.5 796.3,1264.0 796.3,1265.5 796.4,1267.0 796.4,1268.5 796.5,1270.0 796.5,1271.5 796.6,1273.0 796.6,1274.5 796.7,1276.0 796.7,1277.6 796.8,1279.2 796.9,1280.7 796.9,1282.3 797.0,1283.8 797.1,1285.3 797.1,1286.8 797.2,1288.3 797.2,1289.7 797.3,1291.2 797.4,1292.7 797.4,1294.2 797.5,1295.7 797.6,1297.3 797.7,1298.8 797.7,1300.4 797.8,1301.9 797.9,1303.5 798.0,1305.0 798.0,1306.6 798.1,1308.2 798.2,1309.7 798.2,1311.3 798.3,1312.8 798.4,1314.4 798.5,1315.9 798.5,1317.4 798.6,1318.9 798.7,1320.4 798.7,1321.9 798.8,1323.4 798.8,1324.8 798.9,1326.2 798.9,1327.7 799.0,1329.2 799.1,1330.7 799.1,1332.2 799.2,1333.8 799.2,1335.3 799.2,1336.9 799.3,1338.4 799.3,1339.9 799.4,1341.3 799.4,1342.8 799.4,1344.3 799.5,1345.7 799.5,1347.2 799.5,1348.6 799.6,1350.1 799.6,1351.6 799.6,1353.0 799.7,1354.5 799.7,1356.0 799.8,1357.5 799.8,1359.0 799.8,1360.5 799.9,1362.0 799.9,1363.5 800.0,1365.0 800.0,1366.5 800.1,1368.1 800.1,1369.6 800.2,1371.2 800.2,1372.7 800.3,1374.3 800.4,1375.8 800.4,1377.3 800.5,1378.9 800.5,1380.4 800.6,1381.9 800.6,1383.4 800.7,1384.9 800.8,1386.3 800.8,1387.8 800.9,1389.2 800.9,1390.7 801.0,1392.3 801.1,1393.8 801.2,1395.3 801.3,1396.9 801.4,1398.5 801.5,1400.1 801.5,1401.6 801.6,1403.2 801.7,1404.7 801.8,1406.2 801.9,1407.7 802.0,1409.3 802.1,1410.8 802.2,1412.4 802.3,1413.9 802.4,1415.4 802.4,1416.9 802.5,1418.4 802.6,1419.9 802.6,1421.4 802.7,1422.8 802.8,1424.3 802.8,1425.8 802.9,1427.3 802.9,1428.9 803.0,1430.4 803.1,1432.0 803.2,1433.5 803.2,1435.1 803.3,1436.7 803.4,1438.3 803.5,1439.8 803.6,1441.3 803.7,1442.8 803.8,1444.2 803.9,1445.7 804.0,1447.1 804.1,1448.6 804.2,1450.1 804.3,1451.5 804.4,1453.1 804.5,1454.6 804.6,1456.1 804.7,1457.6 804.8,1459.2 804.9,1460.7 805.0,1462.2 805.2,1463.8 805.3,1465.3 805.4,1466.9 805.5,1468.4 805.7,1470.0 805.8,1471.5 805.9,1473.0 806.0,1474.6 806.2,1476.1 806.3,1477.6 806.4,1479.1 806.6,1480.6 806.7,1482.2 806.8,1483.7 807.0,1485.3 807.1,1486.8 807.3,1488.4 807.4,1489.9 807.6,1491.5 807.7,1493.0 807.9,1494.6 808.0,1496.1 808.2,1497.6 808.3,1499.2 808.5,1500.7 808.6,1502.2 808.8,1503.7 808.9,1505.2 809.1,1506.7 809.3,1508.1 809.4,1509.6 809.6,1511.0 809.8,1512.5 809.9,1514.0 810.1,1515.5 810.3,1517.0 810.5,1518.6 810.7,1520.2 810.9,1521.9 811.1,1523.5 811.3,1525.1 811.5,1526.7 811.7,1528.3 812.0,1529.8 812.2,1531.4 812.4,1532.9 812.7,1534.4 813.0,1535.9 813.3,1537.3 813.6,1538.8 814.0,1540.3 814.4,1541.8 814.8,1543.3 815.3,1544.8 815.7,1546.3 816.2,1547.8 816.8,1549.2 817.3,1550.7 817.8,1552.1 818.4,1553.5 819.0,1554.9 819.5,1556.3 820.1,1557.7 820.8,1559.1 821.4,1560.5 822.1,1561.9 822.7,1563.3 823.4,1564.7 824.1,1566.0 824.8,1567.4 825.5,1568.7 826.2,1570.1 826.9,1571.5 827.6,1572.8 828.3,1574.2 829.0,1575.6 829.7,1577.1 830.4,1578.5 831.1,1579.9 831.8,1581.3 832.5,1582.7 833.2,1584.0 833.9,1585.3 834.6,1586.7 835.3,1588.0 836.1,1589.3 836.8,1590.6 837.6,1591.8 838.6,1593.0 839.6,1594.2 840.7,1595.2 842.0,1596.1 843.3,1596.8 844.7,1597.3 846.2,1597.6 847.7,1597.7 849.2,1597.5 850.7,1597.1 852.1,1596.6 853.6,1596.0 855.0,1595.5 856.5,1594.9 858.0,1594.4 859.4,1593.9 860.9,1593.4 862.4,1592.9 863.9,1592.4 865.5,1591.9 867.0,1591.4 868.5,1590.9 870.0,1590.4 871.5,1589.9 872.9,1589.4 874.4,1589.0 875.8,1588.5 877.2,1588.1 878.6,1587.6 880.1,1587.2 881.5,1586.7 883.0,1586.3 884.5,1585.8 885.9,1585.4 887.4,1584.9 888.9,1584.4 890.4,1584.0 891.9,1583.5 893.4,1583.0 894.9,1582.6 896.4,1582.1 897.9,1581.6 899.4,1581.2 900.9,1580.7 902.5,1580.2 904.0,1579.7 905.6,1579.3 907.1,1578.8 908.6,1578.3 910.1,1577.9 911.6,1577.4 913.1,1577.0 914.6,1576.5 916.1,1576.1 917.5,1575.7 919.0,1575.3 920.5,1574.8 922.0,1574.4 923.5,1574.0 925.0,1573.5 926.5,1573.1 928.0,1572.6 929.5,1572.2 931.0,1571.7 932.5,1571.2 933.9,1570.8 935.4,1570.3 936.9,1569.8 938.3,1569.3 939.8,1568.8 941.3,1568.3 942.7,1567.8 944.2,1567.3 945.6,1566.8 947.1,1566.2 948.5,1565.7 949.9,1565.2 951.3,1564.6 952.7,1564.0 954.0,1563.4 955.3,1562.8 956.7,1562.1 958.0,1561.3 959.4,1560.6 960.7,1559.7 962.1,1558.9 963.4,1558.0 964.7,1557.0 966.0,1556.1 967.3,1555.1 968.5,1554.2 969.6,1553.2 970.7,1552.2 971.9,1551.1 972.9,1550.0 974.0,1548.9 975.0,1547.8 976.0,1546.6 976.9,1545.4 977.8,1544.1 978.7,1542.8 979.5,1541.5 980.3,1540.2 981.1,1538.8 981.8,1537.3 982.5,1535.9 983.1,1534.4 983.8,1532.9 984.4,1531.3 985.0,1529.8 985.6,1528.3 986.1,1526.7 986.7,1525.2 987.2,1523.7 987.7,1522.2 988.2,1520.8 988.7,1519.3 989.2,1517.8 989.6,1516.4 990.1,1514.9 990.5,1513.5 991.0,1512.0" stroke="#ff0000" stroke-width="3.6" stroke-dasharray="15 5.5 4 5.5"/>
<path d="M258.8,1554.0 260.4,1554.8 262.0,1555.7 263.2,1556.7 264.4,1557.7 265.4,1558.8 266.4,1560.0 267.2,1561.3 267.9,1562.6 268.6,1564.1 269.2,1565.5 269.9,1567.0 270.5,1568.5 271.2,1569.9 271.9,1571.4 272.6,1572.8 273.4,1574.2 274.1,1575.5 274.9,1576.9 275.7,1578.2 276.5,1579.4 277.4,1580.7 278.3,1581.8 279.3,1582.9 280.4,1583.9 281.6,1584.8 282.9,1585.7 284.2,1586.4 285.7,1587.2 287.1,1587.8 288.6,1588.4 290.1,1589.0 291.5,1589.5 293.0,1590.1 294.4,1590.6 295.8,1591.2 297.3,1591.7 298.7,1592.3 300.1,1593.0 301.6,1593.8 303.0,1594.6 304.4,1595.5 305.8,1596.4 307.3,1597.3 308.7,1598.1 310.1,1598.9 311.5,1599.6 313.0,1600.2 314.4,1600.8 315.8,1601.3 317.3,1601.8 318.7,1602.3 320.2,1602.8 321.6,1603.3 323.0,1603.9 324.5,1604.4 325.9,1604.9 327.3,1605.5 328.8,1606.1 330.2,1606.7 331.6,1607.4 333.0,1608.1 334.5,1608.8 335.9,1609.5 337.4,1610.2 338.9,1610.8 340.4,1611.4 342.0,1611.9 343.6,1612.4 345.2,1612.8 346.9,1613.3 348.5,1613.8 350.0,1614.3 351.6,1615.0 353.1,1615.8 354.5,1616.6 356.0,1617.5 357.4,1618.5 358.8,1619.4 360.2,1620.4 361.7,1621.3 363.1,1622.3 364.5,1623.2 365.9,1624.1 367.4,1624.9 368.9,1625.7 370.4,1626.4 372.0,1626.9 373.6,1627.4 375.3,1627.9 376.9,1628.3 378.5,1628.8 380.1,1629.4 381.6,1630.0 383.2,1630.8 384.6,1631.6 386.0,1632.5 387.4,1633.4 388.8,1634.4 390.2,1635.4 391.5,1636.3 392.8,1637.3 394.0,1638.3 395.3,1639.3 396.5,1640.2 397.8,1641.1 399.1,1642.0 400.4,1642.7 401.8,1643.4 403.2,1644.0 404.6,1644.6 406.0,1645.1 407.5,1645.7 408.9,1646.2 410.4,1646.8 411.8,1647.5 413.3,1648.1 414.7,1648.9 416.1,1649.6 417.6,1650.3 419.0,1651.0 420.5,1651.6 422.0,1652.3 423.4,1652.8 424.9,1653.3 426.5,1653.6 428.0,1653.9 429.5,1653.9 431.0,1653.8 432.5,1653.5 433.9,1653.0 435.3,1652.3 436.7,1651.4 437.9,1650.4 439.0,1649.3 440.0,1648.1 440.9,1646.9 441.8,1645.6 442.5,1644.3 443.2,1643.0 443.9,1641.6 444.6,1640.2 445.3,1638.8 445.9,1637.3 446.6,1635.8 447.3,1634.4 447.9,1632.9 448.5,1631.4 449.2,1630.0 449.8,1628.5 450.5,1627.0 451.1,1625.5 451.7,1624.0 452.3,1622.5 453.0,1621.1 453.6,1619.6 454.2,1618.2 454.9,1616.7 455.5,1615.3 456.2,1613.9 456.9,1612.6 457.6,1611.2 458.3,1609.8 459.0,1608.5 459.7,1607.1 460.4,1605.7 461.0,1604.3 461.6,1602.9 462.1,1601.5 462.6,1600.0 463.0,1598.6 463.5,1597.1 463.9,1595.6 464.3,1594.1 464.6,1592.6 465.0,1591.0 465.4,1589.4 465.7,1587.8 466.0,1586.2 466.3,1584.6 466.6,1583.0 466.9,1581.5 467.2,1580.0 467.4,1578.6 467.6,1577.1 467.8,1575.7 468.0,1574.2 468.2,1572.7 468.4,1571.2 468.6,1569.7 468.8,1568.1 469.0,1566.6 469.2,1565.1 469.3,1563.5 469.5,1562.0 469.7,1560.4 469.8,1558.9 470.0,1557.3 470.1,1555.8 470.3,1554.3 470.5,1552.7 470.6,1551.2 470.8,1549.7 470.9,1548.2 471.0,1546.7 471.2,1545.2 471.3,1543.8 471.4,1542.3 471.6,1540.8 471.7,1539.3 471.8,1537.8 471.9,1536.3 472.0,1534.8 472.1,1533.3 472.3,1531.8 472.4,1530.3 472.5,1528.7 472.6,1527.2 472.7,1525.7 472.8,1524.2 473.0,1522.7 473.1,1521.1 473.2,1519.6 473.3,1518.1 473.4,1516.5 473.6,1515.0 473.7,1513.4 473.8,1511.9 473.9,1510.3 474.0,1508.7 474.2,1507.2 474.3,1505.6 474.4,1504.0 474.5,1502.5 474.6,1500.9 474.8,1499.4 474.9,1497.8 475.0,1496.3 475.1,1494.7 475.2,1493.2 475.4,1491.6 475.5,1490.1 475.6,1488.5 475.7,1487.0 475.9,1485.5 476.0,1483.9 476.1,1482.4 476.3,1480.8 476.4,1479.3 476.5,1477.7 476.6,1476.2 476.8,1474.6 476.9,1473.1 477.0,1471.6 477.2,1470.1 477.3,1468.6 477.4,1467.1 477.5,1465.7 477.6,1464.3 477.8,1462.8 477.9,1461.3 478.0,1459.8 478.1,1458.4 478.2,1456.9 478.3,1455.4 478.4,1453.9 478.5,1452.4 478.6,1451.0 478.6,1449.5 478.7,1448.0 478.8,1446.5 478.9,1444.9 479.0,1443.4 479.1,1441.9 479.2,1440.3 479.3,1438.9 479.4,1437.4 479.5,1435.9 479.6,1434.5 479.7,1433.1 479.8,1431.6 479.9,1430.0 480.0,1428.5 480.1,1426.9 480.2,1425.3 480.3,1423.7 480.4,1422.0 480.5,1420.4 480.7,1418.7 480.8,1417.1 480.9,1415.4 481.0,1413.8 481.1,1412.1 481.2,1410.5 481.4,1408.9 481.5,1407.3 481.6,1405.7 481.7,1404.2 481.8,1402.7 481.9,1401.2 482.1,1399.7 482.2,1398.2 482.3,1396.6 482.5,1395.1 482.6,1393.5 482.7,1391.9 482.9,1390.3 483.0,1388.7 483.2,1387.1 483.3,1385.5 483.5,1384.0 483.7,1382.5 483.8,1381.0 484.0,1379.5 484.1,1378.0 484.3,1376.5 484.5,1374.9 484.6,1373.4 484.8,1371.8 485.0,1370.3 485.1,1368.7 485.3,1367.1 485.5,1365.5 485.7,1363.9 485.9,1362.3 486.1,1360.7 486.3,1359.1 486.5,1357.5 486.6,1355.9 486.8,1354.4 487.0,1352.8 487.2,1351.3 487.4,1349.8 487.6,1348.2 487.8,1346.7 488.0,1345.1 488.2,1343.5 488.5,1341.9 488.7,1340.4 488.9,1338.8 489.1,1337.2 489.3,1335.7 489.6,1334.1 489.8,1332.5 490.0,1331.0 490.3,1329.4 490.5,1327.9 490.7,1326.4 490.9,1324.8 491.1,1323.3 491.3,1321.8 491.6,1320.2 491.8,1318.7 492.0,1317.1 492.3,1315.6 492.5,1314.0 492.8,1312.5 493.1,1311.0 493.4,1309.6 493.8,1308.1 494.2,1306.6 494.7,1305.1 495.3,1303.6 495.8,1302.1 496.5,1300.6 497.1,1299.1 497.8,1297.7 498.4,1296.2 499.0,1294.7 499.6,1293.3 500.2,1291.8 500.7,1290.4 501.2,1289.0 501.7,1287.5 502.1,1286.1 502.5,1284.7 503.0,1283.3 503.4,1281.8 503.8,1280.3 504.2,1278.8 504.5,1277.3 504.9,1275.8 505.3,1274.3 505.6,1272.9 505.9,1271.4 506.3,1269.9 506.6,1268.5 506.8,1267.0 507.1,1265.5 507.4,1264.0 507.7,1262.4 508.0,1260.9 508.3,1259.3 508.5,1257.7 508.8,1256.1 509.1,1254.6 509.3,1253.0 509.6,1251.4 509.8,1249.8 510.1,1248.2 510.3,1246.7 510.5,1245.2 510.7,1243.6 510.9,1242.1 511.1,1240.5 511.3,1239.0 511.5,1237.4 511.6,1235.9 511.8,1234.3 512.0,1232.7 512.1,1231.2 512.3,1229.6 512.5,1228.1 512.6,1226.6 512.8,1225.1 513.0,1223.6 513.2,1222.1 513.4,1220.7 513.6,1219.3 513.9,1217.8 514.2,1216.3 514.5,1214.9 514.8,1213.4 515.2,1211.9 515.6,1210.4 516.0,1208.9 516.4,1207.4 516.8,1206.0 517.3,1204.6 517.7,1203.2 518.2,1201.8 518.7,1200.3 519.3,1198.8 519.9,1197.3 520.5,1195.7 521.2,1194.1 521.9,1192.5 522.6,1190.9 523.3,1189.4 523.9,1187.9 524.4,1186.5 524.8,1185.0 525.1,1183.6 525.3,1182.3 525.4,1181.0 525.6,1179.7 525.7,1178.3 525.8,1176.9 526.0,1175.6 526.2,1174.2 526.4,1172.7 526.7,1171.1 527.0,1169.4 527.2,1167.7 527.5,1166.0 527.8,1164.2 528.1,1162.4 528.3,1160.7 528.6,1158.9 528.9,1157.2 529.1,1155.6 529.3,1154.0 529.5,1152.4 529.7,1150.9 529.9,1149.4 530.1,1147.8 530.3,1146.3 530.5,1144.7 530.6,1143.1 530.8,1141.5 531.0,1139.9 531.2,1138.3 531.4,1136.7 531.5,1135.1 531.7,1133.5 531.9,1132.0 532.1,1130.4 532.2,1128.9 532.4,1127.3 532.6,1125.8 532.7,1124.2 532.9,1122.7 533.1,1121.1 533.2,1119.5 533.4,1118.0 533.6,1116.4 533.7,1114.8 533.9,1113.2 534.0,1111.7 534.2,1110.1 534.3,1108.6 534.5,1107.0 534.6,1105.5 534.8,1104.0 534.9,1102.4 535.1,1100.9 535.2,1099.3 535.4,1097.8 535.5,1096.2 535.7,1094.6 535.8,1093.1 536.0,1091.5 536.1,1089.9 536.2,1088.4 536.4,1086.8 536.5,1085.2 536.6,1083.7 536.8,1082.1 537.0,1080.5 537.1,1079.0 537.3,1077.4 537.5,1075.9 537.7,1074.3 537.9,1072.8 538.1,1071.2 538.3,1069.7 538.6,1068.1 538.8,1066.6 539.0,1065.0 539.3,1063.5 539.5,1061.9 539.8,1060.4 540.1,1058.9 540.4,1057.3 540.7,1055.9 541.0,1054.4 541.3,1053.0 541.7,1051.6 542.1,1050.2 542.6,1048.8 543.2,1047.4 543.8,1046.0 544.4,1044.6 545.2,1043.2 546.0,1041.8 546.8,1040.4 547.7,1039.1 548.6,1037.8 549.5,1036.5 550.4,1035.2 551.4,1033.9 552.3,1032.6 553.3,1031.4 554.3,1030.1 555.3,1028.9 556.3,1027.6 557.4,1026.4 558.4,1025.1 559.4,1023.9 560.4,1022.6 561.4,1021.3 562.4,1020.0 563.4,1018.7 564.4,1017.4 565.4,1016.1 566.4,1014.8 567.4,1013.6 568.4,1012.4 569.6,1011.2 570.7,1010.1 572.0,1009.0 573.3,1008.0 574.7,1007.0 576.1,1006.1 577.6,1005.3 579.1,1004.7 580.7,1004.1 582.3,1003.6 583.9,1003.2 585.6,1003.0 587.3,1002.8 589.0,1002.7 590.7,1002.7 592.4,1002.8 594.0,1002.9 595.7,1003.1 597.3,1003.3 598.9,1003.5 600.4,1003.7 601.9,1004.0 603.5,1004.3 605.0,1004.7 606.6,1005.1 608.1,1005.5 609.7,1006.0 611.3,1006.6 612.9,1007.1 614.4,1007.7 616.0,1008.3 617.6,1008.9 619.2,1009.5 620.7,1010.1 622.3,1010.7 623.8,1011.3 625.4,1012.0 626.9,1012.6 628.5,1013.2 630.0,1013.8 631.5,1014.3 633.1,1014.9 634.6,1015.4 636.1,1015.9 637.6,1016.4 639.1,1017.0 640.6,1017.4 642.1,1017.9 643.6,1018.4 645.1,1018.8 646.7,1019.3 648.2,1019.7 649.7,1020.1 651.2,1020.5 652.7,1020.8 654.2,1021.2 655.7,1021.6 657.2,1021.9 658.7,1022.3 660.2,1022.6 661.7,1022.9 663.2,1023.2 664.7,1023.6 666.2,1023.9 667.7,1024.2 669.2,1024.4 670.7,1024.7 672.2,1025.0 673.7,1025.3 675.2,1025.7 676.8,1026.0 678.3,1026.3 679.8,1026.6 681.3,1027.0 682.8,1027.3 684.3,1027.7 685.8,1028.0 687.3,1028.3 688.9,1028.6 690.4,1028.9 691.9,1029.1 693.5,1029.4 695.1,1029.6 696.6,1029.8 698.2,1030.0 699.8,1030.2 701.3,1030.5 702.9,1030.7 704.5,1031.0 706.1,1031.3 707.7,1031.6 709.3,1031.9 710.9,1032.2 712.4,1032.6 713.9,1032.9 715.4,1033.2 716.8,1033.5 718.2,1033.8 719.7,1034.2 721.2,1034.5 722.7,1034.8 724.3,1035.2 725.8,1035.6 727.4,1035.9 729.0,1036.3 730.6,1036.6 732.2,1037.0 733.7,1037.3 735.2,1037.6 736.7,1037.9 738.2,1038.2 739.7,1038.5 741.2,1038.8 742.6,1039.1 744.1,1039.4 745.6,1039.7 747.1,1040.0 748.5,1040.2 750.0,1040.5 751.5,1040.8 753.0,1041.1 754.5,1041.4 756.0,1041.7 757.4,1042.0 758.9,1042.4 760.4,1042.7 761.9,1043.0 763.3,1043.4 764.8,1043.7 766.2,1044.1 767.7,1044.4 769.1,1044.8 770.6,1045.2 772.1,1045.6 773.5,1045.9 775.0,1046.3 776.4,1046.7 777.9,1047.1 779.4,1047.5 780.9,1047.8 782.4,1048.2 783.9,1048.6 785.4,1048.9 786.9,1049.2 788.4,1049.6 790.0,1049.9 791.5,1050.3 793.1,1050.6 794.6,1050.9 796.2,1051.3 797.8,1051.6 799.4,1051.9 801.0,1052.2 802.5,1052.6 804.1,1052.9 805.7,1053.2 807.2,1053.5 808.7,1053.8 810.2,1054.1 811.7,1054.4 813.2,1054.7 814.7,1054.9 816.3,1055.2 817.8,1055.5 819.4,1055.8 821.0,1056.0 822.6,1056.3 824.1,1056.6 825.7,1056.8 827.2,1057.1 828.8,1057.3 830.4,1057.6 831.9,1057.9 833.4,1058.1 835.0,1058.4 836.5,1058.7 837.9,1059.0 839.4,1059.3 840.8,1059.6 842.3,1060.0 843.8,1060.3 845.2,1060.6 846.7,1061.0 848.2,1061.3 849.7,1061.6 851.2,1062.0 852.7,1062.3 854.2,1062.6 855.7,1063.0 857.2,1063.3 858.7,1063.6 860.2,1063.9 861.7,1064.2 863.2,1064.5 864.7,1064.8 866.2,1065.1 867.7,1065.4 869.2,1065.7 870.7,1066.0 872.2,1066.3 873.6,1066.5 875.1,1066.8 876.6,1067.1 878.1,1067.4 879.5,1067.7 881.0,1068.0 882.4,1068.3 883.9,1068.7 885.4,1069.1 886.9,1069.4 888.5,1069.9 890.0,1070.3 891.6,1070.8 893.2,1071.2 894.7,1071.7 896.2,1072.2 897.8,1072.6 899.3,1073.1 900.8,1073.5 902.3,1073.9 903.8,1074.3 905.4,1074.7 907.0,1075.0 908.5,1075.3 910.1,1075.6 911.7,1075.9 913.3,1076.1 914.9,1076.4 916.5,1076.6 918.1,1076.9 919.6,1077.2 921.2,1077.5 922.7,1077.8 924.3,1078.1 925.8,1078.5 927.3,1078.8 928.7,1079.2 930.2,1079.6 931.7,1080.0 933.2,1080.5 934.6,1080.9 936.1,1081.4 937.5,1081.8 939.0,1082.3 940.5,1082.9 942.0,1083.4 943.5,1084.0 945.0,1084.6 946.5,1085.3 948.0,1085.9 949.5,1086.6 951.0,1087.2 952.5,1087.8 954.0,1088.4 955.5,1088.9 957.1,1089.4 958.6,1089.9 960.2,1090.3 961.8,1090.8 963.4,1091.2 964.9,1091.7 966.4,1092.3 967.8,1092.9 969.2,1093.7 970.6,1094.4 971.9,1095.3 973.2,1096.2 974.4,1097.2 975.6,1098.2 976.8,1099.3 977.9,1100.5 978.9,1101.8 979.9,1103.1 980.8,1104.4 981.7,1105.9 982.6,1107.3 983.3,1108.8 984.0,1110.3 984.7,1111.8 985.3,1113.3 985.9,1114.7 986.6,1116.2 987.2,1117.6 988.0,1119.0 989.0,1120.2 990.1,1121.5 991.3,1122.6 992.5,1123.8 994.0,1124.8 995.5,1125.8" stroke="#0000ff" stroke-width="3.6"/>
<path d="M257.5,1125.8 259.0,1124.8 260.5,1123.8 261.7,1122.6 262.9,1121.5 264.0,1120.2 265.0,1119.0 265.8,1117.6 266.4,1116.2 267.1,1114.7 267.7,1113.3 268.3,1111.8 269.0,1110.3 269.7,1108.8 270.4,1107.3 271.3,1105.9 272.2,1104.4 273.1,1103.1 274.1,1101.8 275.1,1100.5 276.2,1099.3 277.4,1098.2 278.6,1097.2 279.8,1096.2 281.1,1095.3 282.4,1094.4 283.8,1093.7 285.2,1092.9 286.6,1092.3 288.1,1091.7 289.6,1091.2 291.2,1090.8 292.8,1090.3 294.4,1089.9 295.9,1089.4 297.5,1088.9 299.0,1088.4 300.5,1087.8 302.0,1087.2 303.5,1086.6 305.0,1085.9 306.5,1085.3 308.0,1084.6 309.5,1084.0 311.0,1083.4 312.5,1082.9 314.0,1082.3 315.5,1081.8 316.9,1081.4 318.4,1080.9 319.8,1080.5 321.3,1080.0 322.8,1079.6 324.3,1079.2 325.7,1078.8 327.2,1078.5 328.7,1078.1 330.3,1077.8 331.8,1077.5 333.4,1077.2 334.9,1076.9 336.5,1076.6 338.1,1076.4 339.7,1076.1 341.3,1075.9 342.9,1075.6 344.5,1075.3 346.0,1075.0 347.6,1074.7 349.2,1074.3 350.7,1073.9 352.2,1073.5 353.7,1073.1 355.2,1072.6 356.8,1072.2 358.3,1071.7 359.8,1071.2 361.4,1070.8 363.0,1070.3 364.5,1069.9 366.1,1069.4 367.6,1069.1 369.1,1068.7 370.6,1068.3 372.0,1068.0 373.5,1067.7 374.9,1067.4 376.4,1067.1 377.9,1066.8 379.4,1066.5 380.8,1066.3 382.3,1066.0 383.8,1065.7 385.3,1065.4 386.8,1065.1 388.3,1064.8 389.8,1064.5 391.3,1064.2 392.8,1063.9 394.3,1063.6 395.8,1063.3 397.3,1063.0 398.8,1062.6 400.3,1062.3 401.8,1062.0 403.3,1061.6 404.8,1061.3 406.3,1061.0 407.8,1060.6 409.2,1060.3 410.7,1060.0 412.2,1059.6 413.6,1059.3 415.1,1059.0 416.5,1058.7 418.0,1058.4 419.6,1058.1 421.1,1057.9 422.6,1057.6 424.2,1057.3 425.8,1057.1 427.3,1056.8 428.9,1056.6 430.4,1056.3 432.0,1056.0 433.6,1055.8 435.2,1055.5 436.7,1055.2 438.3,1054.9 439.8,1054.7 441.3,1054.4 442.8,1054.1 444.3,1053.8 445.8,1053.5 447.3,1053.2 448.9,1052.9 450.5,1052.6 452.0,1052.2 453.6,1051.9 455.2,1051.6 456.8,1051.3 458.4,1050.9 459.9,1050.6 461.5,1050.3 463.0,1049.9 464.6,1049.6 466.1,1049.2 467.6,1048.9 469.1,1048.6 470.6,1048.2 472.1,1047.8 473.6,1047.5 475.1,1047.1 476.6,1046.7 478.0,1046.3 479.5,1045.9 480.9,1045.6 482.4,1045.2 483.9,1044.8 485.3,1044.4 486.8,1044.1 488.2,1043.7 489.7,1043.4 491.1,1043.0 492.6,1042.7 494.1,1042.4 495.6,1042.0 497.0,1041.7 498.5,1041.4 500.0,1041.1 501.5,1040.8 503.0,1040.5 504.5,1040.2 505.9,1040.0 507.4,1039.7 508.9,1039.4 510.4,1039.1 511.8,1038.8 513.3,1038.5 514.8,1038.2 516.3,1037.9 517.8,1037.6 519.3,1037.3 520.8,1037.0 522.4,1036.6 524.0,1036.3 525.6,1035.9 527.2,1035.6 528.7,1035.2 530.3,1034.8 531.8,1034.5 533.3,1034.2 534.8,1033.8 536.2,1033.5 537.6,1033.2 539.1,1032.9 540.6,1032.6 542.1,1032.2 543.7,1031.9 545.3,1031.6 546.9,1031.3 548.5,1031.0 550.1,1030.7 551.7,1030.5 553.2,1030.2 554.8,1030.0 556.4,1029.8 557.9,1029.6 559.5,1029.4 561.1,1029.1 562.6,1028.9 564.1,1028.6 565.7,1028.3 567.2,1028.0 568.7,1027.7 570.2,1027.3 571.7,1027.0 573.2,1026.6 574.7,1026.3 576.2,1026.0 577.8,1025.7 579.3,1025.3 580.8,1025.0 582.3,1024.7 583.8,1024.4 585.3,1024.2 586.8,1023.9 588.3,1023.6 589.8,1023.2 591.3,1022.9 592.8,1022.6 594.3,1022.3 595.8,1021.9 597.3,1021.6 598.8,1021.2 600.3,1020.8 601.8,1020.5 603.3,1020.1 604.8,1019.7 606.3,1019.3 607.9,1018.8 609.4,1018.4 610.9,1017.9 612.4,1017.4 613.9,1017.0 615.4,1016.4 616.9,1015.9 618.4,1015.4 619.9,1014.9 621.5,1014.3 623.0,1013.8 624.5,1013.2 626.1,1012.6 627.6,1012.0 629.2,1011.3 630.7,1010.7 632.3,1010.1 633.8,1009.5 635.4,1008.9 637.0,1008.3 638.6,1007.7 640.1,1007.1 641.7,1006.6 643.3,1006.0 644.9,1005.5 646.4,1005.1 648.0,1004.7 649.5,1004.3 651.1,1004.0 652.6,1003.7 654.1,1003.5 655.7,1003.3 657.3,1003.1 659.0,1002.9 660.6,1002.8 662.3,1002.7 664.0,1002.7 665.7,1002.8 667.4,1003.0 669.1,1003.2 670.7,1003.6 672.3,1004.1 673.9,1004.7 675.4,1005.3 676.9,1006.1 678.3,1007.0 679.7,1008.0 681.0,1009.0 682.3,1010.1 683.4,1011.2 684.6,1012.4 685.6,1013.6 686.6,1014.8 687.6,1016.1 688.6,1017.4 689.6,1018.7 690.6,1020.0 691.6,1021.3 692.6,1022.6 693.6,1023.9 694.6,1025.1 695.6,1026.4 696.7,1027.6 697.7,1028.9 698.7,1030.1 699.7,1031.4 700.7,1032.6 701.6,1033.9 702.6,1035.2 703.5,1036.5 704.4,1037.8 705.3,1039.1 706.2,1040.4 707.0,1041.8 707.8,1043.2 708.6,1044.6 709.2,1046.0 709.8,1047.4 710.4,1048.8 710.9,1050.2 711.3,1051.6 711.7,1053.0 712.0,1054.4 712.3,1055.9 712.6,1057.3 712.9,1058.9 713.2,1060.4 713.5,1061.9 713.7,1063.5 714.0,1065.0 714.2,1066.6 714.4,1068.1 714.7,1069.7 714.9,1071.2 715.1,1072.8 715.3,1074.3 715.5,1075.9 715.7,1077.4 715.9,1079.0 716.0,1080.5 716.2,1082.1 716.4,1083.7 716.5,1085.2 716.6,1086.8 716.8,1088.4 716.9,1089.9 717.0,1091.5 717.2,1093.1 717.3,1094.6 717.5,1096.2 717.6,1097.8 717.8,1099.3 717.9,1100.9 718.1,1102.4 718.2,1104.0 718.4,1105.5 718.5,1107.0 718.7,1108.6 718.8,1110.1 719.0,1111.7 719.1,1113.2 719.3,1114.8 719.4,1116.4 719.6,1118.0 719.8,1119.5 719.9,1121.1 720.1,1122.7 720.3,1124.2 720.4,1125.8 720.6,1127.3 720.8,1128.9 720.9,1130.4 721.1,1132.0 721.3,1133.5 721.5,1135.1 721.6,1136.7 721.8,1138.3 722.0,1139.9 722.2,1141.5 722.4,1143.1 722.5,1144.7 722.7,1146.3 722.9,1147.8 723.1,1149.4 723.3,1150.9 723.5,1152.4 723.7,1154.0 723.9,1155.6 724.1,1157.2 724.4,1158.9 724.7,1160.7 724.9,1162.4 725.2,1164.2 725.5,1166.0 725.8,1167.7 726.0,1169.4 726.3,1171.1 726.6,1172.7 726.8,1174.2 727.0,1175.6 727.2,1176.9 727.3,1178.3 727.4,1179.7 727.6,1181.0 727.7,1182.3 727.9,1183.6 728.2,1185.0 728.6,1186.5 729.1,1187.9 729.7,1189.4 730.4,1190.9 731.1,1192.5 731.8,1194.1 732.5,1195.7 733.1,1197.3 733.7,1198.8 734.3,1200.3 734.8,1201.8 735.3,1203.2 735.7,1204.6 736.2,1206.0 736.6,1207.4 737.0,1208.9 737.4,1210.4 737.8,1211.9 738.2,1213.4 738.5,1214.9 738.8,1216.3 739.1,1217.8 739.4,1219.3 739.6,1220.7 739.8,1222.1 740.0,1223.6 740.2,1225.1 740.4,1226.6 740.5,1228.1 740.7,1229.6 740.9,1231.2 741.0,1232.7 741.2,1234.3 741.4,1235.9 741.5,1237.4 741.7,1239.0 741.9,1240.5 742.1,1242.1 742.3,1243.6 742.5,1245.2 742.7,1246.7 742.9,1248.2 743.2,1249.8 743.4,1251.4 743.7,1253.0 743.9,1254.6 744.2,1256.1 744.5,1257.7 744.7,1259.3 745.0,1260.9 745.3,1262.4 745.6,1264.0 745.9,1265.5 746.2,1267.0 746.4,1268.5 746.7,1269.9 747.1,1271.4 747.4,1272.9 747.7,1274.3 748.1,1275.8 748.5,1277.3 748.8,1278.8 749.2,1280.3 749.6,1281.8 750.0,1283.3 750.5,1284.7 750.9,1286.1 751.3,1287.5 751.8,1289.0 752.3,1290.4 752.8,1291.8 753.4,1293.3 754.0,1294.7 754.6,1296.2 755.2,1297.7 755.9,1299.1 756.5,1300.6 757.2,1302.1 757.7,1303.6 758.3,1305.1 758.8,1306.6 759.2,1308.1 759.6,1309.6 759.9,1311.0 760.2,1312.5 760.5,1314.0 760.7,1315.6 761.0,1317.1 761.2,1318.7 761.4,1320.2 761.7,1321.8 761.9,1323.3 762.1,1324.8 762.3,1326.4 762.5,1327.9 762.7,1329.4 763.0,1331.0 763.2,1332.5 763.4,1334.1 763.7,1335.7 763.9,1337.2 764.1,1338.8 764.3,1340.4 764.5,1341.9 764.8,1343.5 765.0,1345.1 765.2,1346.7 765.4,1348.2 765.6,1349.8 765.8,1351.3 766.0,1352.8 766.2,1354.4 766.4,1355.9 766.5,1357.5 766.7,1359.1 766.9,1360.7 767.1,1362.3 767.3,1363.9 767.5,1365.5 767.7,1367.1 767.9,1368.7 768.0,1370.3 768.2,1371.8 768.4,1373.4 768.5,1374.9 768.7,1376.5 768.9,1378.0 769.0,1379.5 769.2,1381.0 769.3,1382.5 769.5,1384.0 769.7,1385.5 769.8,1387.1 770.0,1388.7 770.1,1390.3 770.3,1391.9 770.4,1393.5 770.5,1395.1 770.7,1396.6 770.8,1398.2 770.9,1399.7 771.1,1401.2 771.2,1402.7 771.3,1404.2 771.4,1405.7 771.5,1407.3 771.6,1408.9 771.8,1410.5 771.9,1412.1 772.0,1413.8 772.1,1415.4 772.2,1417.1 772.3,1418.7 772.5,1420.4 772.6,1422.0 772.7,1423.7 772.8,1425.3 772.9,1426.9 773.0,1428.5 773.1,1430.0 773.2,1431.6 773.3,1433.1 773.4,1434.5 773.5,1435.9 773.6,1437.4 773.7,1438.9 773.8,1440.3 773.9,1441.9 774.0,1443.4 774.1,1444.9 774.2,1446.5 774.3,1448.0 774.4,1449.5 774.4,1451.0 774.5,1452.4 774.6,1453.9 774.7,1455.4 774.8,1456.9 774.9,1458.4 775.0,1459.8 775.1,1461.3 775.2,1462.8 775.4,1464.3 775.5,1465.7 775.6,1467.1 775.7,1468.6 775.8,1470.1 776.0,1471.6 776.1,1473.1 776.2,1474.6 776.4,1476.2 776.5,1477.7 776.6,1479.3 776.8,1480.8 776.9,1482.4 777.0,1483.9 777.1,1485.5 777.3,1487.0 777.4,1488.5 777.5,1490.1 777.6,1491.6 777.8,1493.2 777.9,1494.7 778.0,1496.3 778.1,1497.8 778.3,1499.4 778.4,1500.9 778.5,1502.5 778.6,1504.0 778.7,1505.6 778.9,1507.2 779.0,1508.7 779.1,1510.3 779.3,1511.9 779.4,1513.4 779.5,1515.0 779.7,1516.5 779.8,1518.1 780.0,1519.6 780.1,1521.1 780.3,1522.7 780.5,1524.2 780.7,1525.7 780.9,1527.2 781.1,1528.7 781.3,1530.3 781.5,1531.8 781.7,1533.3 782.0,1534.8 782.3,1536.3 782.6,1537.8 782.9,1539.3 783.2,1540.8 783.5,1542.3 783.9,1543.8 784.2,1545.2 784.6,1546.7 785.0,1548.2 785.4,1549.7 785.9,1551.2 786.3,1552.7 786.7,1554.3 787.1,1555.8 787.6,1557.3 788.0,1558.9 788.4,1560.4 788.8,1562.0 789.1,1563.5 789.5,1565.1 789.8,1566.6 790.1,1568.1 790.3,1569.7 790.6,1571.2 790.8,1572.7 790.9,1574.2 791.1,1575.7 791.2,1577.1 791.3,1578.6 791.4,1580.0 791.4,1581.5 791.5,1583.0 791.6,1584.6 791.6,1586.2 791.7,1587.8 791.7,1589.4 791.8,1591.0 791.9,1592.6 791.9,1594.1 792.1,1595.6 792.2,1597.1 792.4,1598.6 792.6,1600.0 792.9,1601.5 793.2,1602.9 793.6,1604.3 794.0,1605.7 794.5,1607.1 795.1,1608.5 795.7,1609.8 796.2,1611.2 796.8,1612.6 797.4,1613.9 798.0,1615.3 798.6,1616.7 799.2,1618.2 799.8,1619.6 800.3,1621.1 800.9,1622.5 801.5,1624.0 802.1,1625.5 802.7,1627.0 803.3,1628.5 803.9,1630.0 804.5,1631.4 805.2,1632.9 805.8,1634.4 806.4,1635.8 807.1,1637.3 807.7,1638.8 808.4,1640.2 809.1,1641.6 809.8,1643.0 810.5,1644.3 811.2,1645.6 812.1,1646.9 813.0,1648.1 814.0,1649.3 815.1,1650.4 816.3,1651.4 817.7,1652.3 819.1,1653.0 820.5,1653.5 822.0,1653.8 823.5,1653.9 825.0,1653.9 826.5,1653.6 828.1,1653.3 829.6,1652.8 831.0,1652.3 832.5,1651.6 834.0,1651.0 835.4,1650.3 836.9,1649.6 838.3,1648.9 839.8,1648.1 841.2,1647.5 842.6,1646.8 844.1,1646.2 845.5,1645.7 847.0,1645.1 848.4,1644.6 849.8,1644.0 851.2,1643.4 852.6,1642.7 853.9,1642.0 855.2,1641.1 856.5,1640.2 857.7,1639.3 859.0,1638.3 860.3,1637.3 861.6,1636.3 862.9,1635.4 864.2,1634.4 865.6,1633.4 867.0,1632.5 868.4,1631.6 869.9,1630.8 871.4,1630.0 873.0,1629.4 874.6,1628.8 876.2,1628.3 877.8,1627.9 879.5,1627.4 881.1,1626.9 882.7,1626.4 884.3,1625.7 885.8,1624.9 887.3,1624.1 888.7,1623.2 890.2,1622.3 891.6,1621.3 893.1,1620.4 894.5,1619.4 896.0,1618.5 897.5,1617.5 898.9,1616.6 900.4,1615.8 902.0,1615.0 903.6,1614.3 905.2,1613.8 906.8,1613.3 908.5,1612.8 910.2,1612.4 911.8,1611.9 913.4,1611.4 915.0,1610.8 916.6,1610.2 918.1,1609.5 919.6,1608.8 921.1,1608.1 922.6,1607.4 924.1,1606.7 925.6,1606.1 927.1,1605.5 928.6,1604.9 930.1,1604.4 931.6,1603.9 933.1,1603.3 934.6,1602.8 936.1,1602.3 937.6,1601.8 939.2,1601.3 940.7,1600.8 942.2,1600.2 943.7,1599.6 945.3,1598.9 946.8,1598.1 948.4,1597.3 950.0,1596.4 951.6,1595.5 953.1,1594.6 954.7,1593.8 956.3,1593.0 957.8,1592.3 959.4,1591.7 960.9,1591.2 962.5,1590.6 964.0,1590.1 965.5,1589.5 967.1,1589.0 968.7,1588.4 970.2,1587.8 971.8,1587.2 973.4,1586.4 974.9,1585.7 976.3,1584.8 977.6,1583.9 978.9,1582.9 980.0,1581.8 981.1,1580.7 982.1,1579.4 983.0,1578.2 983.9,1576.9 984.8,1575.5 985.6,1574.2 986.4,1572.8 987.1,1571.4 987.7,1569.9 988.4,1568.5 988.9,1567.0 989.5,1565.5 990.0,1564.1 990.5,1562.6 991.0,1561.3 991.6,1560.0 992.4,1558.8 993.3,1557.7 994.3,1556.7 995.3,1555.7 996.7,1554.8 998.2,1554.0" stroke="#0000ff" stroke-width="3.6" stroke-dasharray="15 5.5 4 5.5"/>
<path d="M258.8,1554.0 260.5,1554.7 262.0,1555.6 263.1,1556.7 264.3,1557.7 265.3,1558.9 266.2,1560.3 267.0,1561.6 267.8,1563.1 268.5,1564.6 269.3,1566.1 270.0,1567.6 270.7,1569.1 271.5,1570.5 272.2,1572.0 273.0,1573.4 273.7,1574.8 274.4,1576.2 275.2,1577.6 276.0,1579.0 276.9,1580.3 277.7,1581.5 278.7,1582.7 279.6,1583.9 280.7,1585.0 281.7,1586.1 282.8,1587.1 284.0,1588.0 285.3,1588.9 286.6,1589.7 287.9,1590.5 289.3,1591.2 290.8,1591.9 292.2,1592.6 293.6,1593.4 295.0,1594.2 296.3,1595.2 297.6,1596.1 298.9,1597.2 300.2,1598.3 301.4,1599.4 302.7,1600.5 303.9,1601.7 305.1,1602.9 306.4,1604.0 307.6,1605.2 308.8,1606.4 310.1,1607.5 311.3,1608.6 312.6,1609.6 314.0,1610.5 315.5,1611.2 317.0,1611.9 318.5,1612.4 320.2,1612.8 321.8,1613.3 323.3,1613.9 324.9,1614.5 326.3,1615.3 327.6,1616.2 328.9,1617.3 330.2,1618.4 331.4,1619.5 332.7,1620.6 334.0,1621.6 335.3,1622.5 336.7,1623.3 338.1,1623.9 339.5,1624.5 340.9,1625.0 342.3,1625.6 343.7,1626.2 345.1,1626.8 346.4,1627.6 347.7,1628.4 349.0,1629.2 350.3,1630.2 351.5,1631.1 352.8,1632.1 354.0,1633.1 355.3,1634.2 356.5,1635.3 357.7,1636.3 359.0,1637.4 360.2,1638.5 361.5,1639.6 362.7,1640.7 364.0,1641.8 365.2,1642.9 366.5,1643.9 367.7,1644.9 369.0,1645.9 370.2,1646.9 371.5,1647.8 372.8,1648.7 374.1,1649.5 375.5,1650.3 376.8,1651.0 378.2,1651.6 379.7,1652.3 381.1,1653.0 382.5,1653.7 383.9,1654.5 385.2,1655.4 386.5,1656.4 387.8,1657.5 389.1,1658.6 390.3,1659.6 391.6,1660.5 393.0,1661.4 394.4,1662.0 395.8,1662.5 397.3,1662.9 398.8,1663.1 400.4,1663.2 402.1,1663.2 403.7,1663.1 405.4,1662.9 407.0,1662.5 408.6,1662.0 410.1,1661.4 411.6,1660.7 412.9,1659.8 414.1,1658.9 415.3,1657.8 416.3,1656.6 417.3,1655.3 418.2,1654.0 419.0,1652.5 419.8,1651.1 420.5,1649.7 421.4,1648.2 422.2,1646.8 423.2,1645.4 424.3,1644.0 425.4,1642.8 426.6,1641.5 428.0,1640.4 429.4,1639.3 430.8,1638.3 432.2,1637.3 433.6,1636.3 434.8,1635.2 435.9,1634.1 436.9,1632.9 437.7,1631.5 438.4,1630.1 439.1,1628.6 439.7,1627.2 440.2,1625.7 440.7,1624.3 441.2,1622.8 441.6,1621.4 441.9,1620.1 442.3,1618.6 442.7,1617.2 443.0,1615.7 443.3,1614.1 443.6,1612.6 443.9,1611.0 444.2,1609.4 444.5,1607.7 444.8,1606.1 445.1,1604.6 445.4,1603.0 445.6,1601.5 445.8,1600.0 446.1,1598.5 446.3,1597.0 446.5,1595.5 446.7,1594.0 446.9,1592.4 447.1,1590.9 447.2,1589.3 447.4,1587.8 447.6,1586.2 447.8,1584.6 447.9,1583.0 448.1,1581.4 448.3,1579.8 448.4,1578.2 448.6,1576.6 448.7,1575.0 448.9,1573.5 449.0,1571.9 449.2,1570.3 449.3,1568.8 449.4,1567.3 449.6,1565.7 449.7,1564.2 449.8,1562.7 449.9,1561.2 450.0,1559.6 450.1,1558.1 450.2,1556.6 450.3,1555.0 450.4,1553.5 450.6,1552.0 450.7,1550.4 450.8,1548.9 450.9,1547.4 451.0,1545.8 451.1,1544.3 451.2,1542.8 451.3,1541.2 451.4,1539.7 451.5,1538.2 451.6,1536.7 451.7,1535.1 451.8,1533.6 451.9,1532.0 452.0,1530.5 452.1,1528.9 452.2,1527.3 452.3,1525.8 452.4,1524.2 452.6,1522.6 452.7,1521.1 452.8,1519.5 452.9,1518.0 453.0,1516.4 453.1,1514.9 453.2,1513.3 453.4,1511.8 453.5,1510.3 453.6,1508.7 453.8,1507.2 453.9,1505.7 454.0,1504.1 454.2,1502.6 454.3,1501.1 454.5,1499.5 454.6,1498.0 454.8,1496.4 455.0,1494.8 455.1,1493.3 455.3,1491.7 455.4,1490.1 455.6,1488.6 455.8,1487.0 456.0,1485.5 456.2,1484.0 456.4,1482.5 456.6,1481.0 456.8,1479.5 457.0,1478.1 457.2,1476.7 457.5,1475.2 457.7,1473.8 458.0,1472.3 458.4,1470.9 458.7,1469.4 459.1,1467.9 459.5,1466.4 460.0,1464.9 460.4,1463.4 460.8,1462.0 461.3,1460.6 461.7,1459.2 462.1,1457.8 462.5,1456.4 462.9,1455.0 463.3,1453.5 463.7,1452.1 464.1,1450.7 464.5,1449.2 464.9,1447.8 465.2,1446.3 465.6,1444.8 465.9,1443.3 466.3,1441.8 466.6,1440.4 466.9,1439.0 467.2,1437.5 467.5,1436.1 467.7,1434.8 468.0,1433.4 468.2,1432.0 468.5,1430.5 468.8,1429.0 469.0,1427.5 469.3,1425.9 469.6,1424.4 469.8,1422.8 470.1,1421.2 470.3,1419.6 470.6,1418.0 470.9,1416.4 471.1,1414.9 471.4,1413.3 471.6,1411.8 471.8,1410.2 472.1,1408.8 472.3,1407.3 472.6,1405.7 472.8,1404.2 473.0,1402.7 473.3,1401.1 473.5,1399.5 473.8,1397.8 474.0,1396.2 474.3,1394.6 474.5,1393.1 474.7,1391.5 474.9,1389.9 475.2,1388.4 475.4,1386.9 475.6,1385.4 475.8,1383.9 476.1,1382.4 476.3,1380.8 476.5,1379.3 476.8,1377.8 477.0,1376.2 477.3,1374.7 477.5,1373.2 477.8,1371.6 478.0,1370.1 478.3,1368.6 478.5,1367.1 478.7,1365.6 479.0,1364.0 479.3,1362.5 479.5,1361.0 479.8,1359.4 480.0,1357.9 480.3,1356.3 480.6,1354.7 480.8,1353.1 481.1,1351.6 481.4,1350.0 481.7,1348.3 482.0,1346.7 482.2,1345.1 482.5,1343.5 482.8,1341.9 483.0,1340.4 483.3,1338.8 483.6,1337.3 483.8,1335.7 484.0,1334.1 484.3,1332.6 484.5,1331.0 484.7,1329.4 485.0,1327.8 485.2,1326.2 485.4,1324.6 485.6,1323.1 485.8,1321.5 486.1,1320.0 486.3,1318.4 486.5,1316.8 486.8,1315.3 487.0,1313.7 487.3,1312.1 487.6,1310.6 487.8,1309.0 488.1,1307.4 488.4,1305.9 488.7,1304.3 489.0,1302.7 489.3,1301.2 489.6,1299.7 490.0,1298.1 490.4,1296.6 490.7,1295.1 491.2,1293.5 491.6,1292.0 492.0,1290.4 492.5,1288.9 493.0,1287.4 493.5,1286.0 494.1,1284.5 494.8,1283.1 495.5,1281.8 496.3,1280.5 497.2,1279.3 498.2,1278.1 499.2,1276.9 500.2,1275.7 501.2,1274.4 502.1,1273.2 503.0,1271.9 503.7,1270.6 504.4,1269.3 504.9,1267.9 505.4,1266.6 505.8,1265.2 506.2,1263.7 506.5,1262.3 506.9,1260.7 507.2,1259.2 507.5,1257.6 507.8,1256.0 508.0,1254.3 508.3,1252.7 508.6,1251.1 508.9,1249.5 509.1,1247.8 509.4,1246.3 509.7,1244.7 510.0,1243.1 510.4,1241.6 510.7,1240.0 511.0,1238.5 511.3,1236.9 511.7,1235.4 512.0,1233.8 512.3,1232.3 512.6,1230.7 512.9,1229.2 513.3,1227.6 513.6,1226.1 514.0,1224.7 514.4,1223.2 514.8,1221.8 515.2,1220.5 515.7,1219.1 516.2,1217.8 516.9,1216.4 517.6,1215.2 518.3,1213.9 519.2,1212.6 520.1,1211.4 521.0,1210.2 521.9,1209.0 522.8,1207.8 523.7,1206.6 524.5,1205.3 525.2,1204.0 525.8,1202.6 526.4,1201.2 527.0,1199.7 527.5,1198.2 528.0,1196.6 528.4,1195.0 528.8,1193.4 529.2,1191.8 529.6,1190.2 529.9,1188.7 530.2,1187.1 530.6,1185.5 530.8,1183.9 531.1,1182.4 531.3,1180.8 531.5,1179.3 531.7,1177.7 531.9,1176.2 532.1,1174.6 532.2,1173.0 532.4,1171.4 532.6,1169.8 532.9,1168.3 533.1,1166.8 533.4,1165.3 533.6,1163.9 533.9,1162.5 534.2,1161.0 534.5,1159.6 534.8,1158.0 535.1,1156.5 535.5,1155.0 535.8,1153.4 536.2,1151.8 536.5,1150.2 536.9,1148.6 537.3,1147.1 537.7,1145.5 538.1,1144.0 538.4,1142.5 538.8,1141.0 539.2,1139.5 539.6,1138.1 540.1,1136.6 540.5,1135.1 540.9,1133.6 541.4,1132.1 541.9,1130.6 542.4,1129.1 542.9,1127.5 543.4,1126.0 543.9,1124.6 544.5,1123.1 545.0,1121.7 545.6,1120.4 546.1,1119.1 546.8,1117.8 547.4,1116.5 548.2,1115.2 549.0,1114.0 549.9,1112.7 550.8,1111.5 551.7,1110.3 552.7,1109.1 553.6,1107.9 554.4,1106.6 555.1,1105.3 555.8,1104.0 556.4,1102.6 556.9,1101.2 557.3,1099.7 557.8,1098.2 558.1,1096.7 558.5,1095.1 558.8,1093.5 559.2,1091.8 559.5,1090.2 559.8,1088.6 560.1,1087.0 560.4,1085.4 560.7,1083.8 561.0,1082.2 561.2,1080.7 561.5,1079.2 561.7,1077.6 561.9,1076.1 562.1,1074.5 562.4,1072.9 562.6,1071.3 562.8,1069.7 563.0,1068.1 563.2,1066.5 563.5,1064.9 563.7,1063.4 563.9,1061.8 564.2,1060.3 564.4,1058.7 564.7,1057.2 564.9,1055.6 565.2,1054.1 565.4,1052.5 565.7,1051.0 565.9,1049.4 566.2,1047.9 566.4,1046.3 566.7,1044.8 567.0,1043.3 567.3,1041.9 567.7,1040.5 568.0,1039.1 568.4,1037.7 568.9,1036.3 569.4,1034.8 570.0,1033.4 570.7,1031.9 571.4,1030.5 572.2,1029.0 573.0,1027.6 573.9,1026.3 574.9,1025.0 575.9,1023.8 577.0,1022.7 578.2,1021.6 579.5,1020.6 580.9,1019.7 582.3,1018.8 583.8,1017.9 585.3,1017.2 586.9,1016.5 588.4,1015.8 590.0,1015.1 591.5,1014.5 593.0,1013.8 594.4,1013.0 595.7,1012.2 596.9,1011.3 598.0,1010.3 599.2,1009.4 600.5,1008.6 601.8,1007.8 603.3,1007.2 604.9,1006.7 606.6,1006.3 608.3,1005.9 610.0,1005.7 611.7,1005.4 613.4,1005.2 615.1,1005.0 616.8,1004.9 618.4,1004.7 620.1,1004.6 621.8,1004.5 623.5,1004.4 625.1,1004.4 626.8,1004.4 628.5,1004.4 630.1,1004.5 631.8,1004.7 633.5,1004.9 635.1,1005.2 636.8,1005.6 638.4,1005.9 640.0,1006.4 641.6,1006.8 643.2,1007.3 644.8,1007.7 646.4,1008.2 647.9,1008.7 649.5,1009.2 651.1,1009.6 652.7,1010.0 654.2,1010.4 655.8,1010.7 657.3,1011.1 658.9,1011.4 660.5,1011.7 662.0,1012.0 663.6,1012.3 665.1,1012.6 666.6,1013.0 668.1,1013.3 669.7,1013.7 671.1,1014.0 672.7,1014.4 674.2,1014.8 675.7,1015.2 677.2,1015.6 678.7,1016.0 680.2,1016.4 681.7,1016.8 683.2,1017.1 684.7,1017.5 686.2,1017.9 687.7,1018.3 689.2,1018.7 690.7,1019.1 692.2,1019.4 693.7,1019.7 695.3,1020.1 696.8,1020.3 698.4,1020.6 699.9,1020.8 701.5,1021.1 703.0,1021.3 704.6,1021.5 706.2,1021.7 707.9,1021.9 709.5,1022.1 711.0,1022.4 712.6,1022.6 714.1,1022.9 715.7,1023.2 717.1,1023.4 718.6,1023.7 720.1,1024.0 721.6,1024.3 723.1,1024.6 724.6,1025.0 726.1,1025.3 727.7,1025.6 729.2,1025.9 730.7,1026.2 732.3,1026.5 733.8,1026.8 735.3,1027.1 736.9,1027.4 738.4,1027.7 740.0,1027.9 741.5,1028.2 743.1,1028.5 744.7,1028.7 746.2,1029.0 747.8,1029.2 749.4,1029.5 751.0,1029.8 752.5,1030.0 754.1,1030.3 755.7,1030.6 757.2,1030.8 758.8,1031.1 760.3,1031.4 761.8,1031.7 763.3,1031.9 764.8,1032.2 766.2,1032.5 767.7,1032.8 769.1,1033.1 770.6,1033.4 772.1,1033.7 773.5,1034.0 775.0,1034.3 776.4,1034.6 777.9,1034.9 779.4,1035.2 780.9,1035.5 782.4,1035.8 783.9,1036.1 785.4,1036.4 786.9,1036.7 788.5,1037.0 790.0,1037.3 791.5,1037.6 793.1,1038.0 794.6,1038.3 796.2,1038.6 797.8,1038.9 799.4,1039.3 801.0,1039.6 802.6,1039.9 804.1,1040.2 805.7,1040.6 807.2,1040.9 808.8,1041.2 810.3,1041.5 811.7,1041.8 813.2,1042.1 814.7,1042.4 816.2,1042.7 817.6,1043.0 819.1,1043.3 820.6,1043.6 822.1,1043.8 823.5,1044.1 825.0,1044.4 826.4,1044.7 827.8,1044.9 829.3,1045.2 830.7,1045.5 832.2,1045.8 833.6,1046.1 835.1,1046.4 836.5,1046.8 838.0,1047.1 839.5,1047.4 840.9,1047.8 842.4,1048.2 843.9,1048.5 845.4,1048.9 846.9,1049.3 848.4,1049.7 849.9,1050.1 851.4,1050.4 852.9,1050.8 854.4,1051.2 855.9,1051.6 857.3,1052.0 858.8,1052.3 860.4,1052.7 861.9,1053.1 863.4,1053.4 865.0,1053.8 866.5,1054.2 868.1,1054.5 869.6,1054.9 871.1,1055.3 872.7,1055.6 874.2,1056.0 875.7,1056.4 877.2,1056.8 878.7,1057.3 880.2,1057.7 881.7,1058.2 883.1,1058.7 884.6,1059.2 886.1,1059.8 887.5,1060.3 889.0,1060.9 890.4,1061.5 891.9,1062.0 893.3,1062.6 894.7,1063.1 896.1,1063.7 897.6,1064.2 899.0,1064.7 900.4,1065.2 901.9,1065.7 903.3,1066.2 904.8,1066.6 906.3,1067.1 907.8,1067.5 909.3,1067.9 910.8,1068.4 912.2,1068.8 913.7,1069.2 915.2,1069.7 916.6,1070.1 918.1,1070.6 919.5,1071.0 921.0,1071.5 922.4,1071.9 923.9,1072.4 925.4,1072.8 926.9,1073.3 928.3,1073.8 929.8,1074.3 931.2,1074.8 932.6,1075.4 934.0,1076.0 935.4,1076.6 936.8,1077.3 938.2,1078.1 939.6,1078.8 940.9,1079.6 942.3,1080.5 943.6,1081.3 944.9,1082.1 946.3,1082.9 947.6,1083.7 949.0,1084.4 950.4,1085.1 951.9,1085.7 953.3,1086.3 954.8,1086.8 956.3,1087.3 957.9,1087.8 959.4,1088.3 960.9,1088.8 962.4,1089.3 963.8,1089.8 965.2,1090.4 966.6,1091.0 968.0,1091.8 969.4,1092.6 970.7,1093.5 972.0,1094.5 973.3,1095.6 974.5,1096.7 975.7,1097.9 976.7,1099.1 977.7,1100.3 978.7,1101.6 979.5,1102.9 980.3,1104.3 981.0,1105.7 981.7,1107.1 982.3,1108.5 983.0,1110.0 983.6,1111.4 984.1,1112.9 984.7,1114.4 985.2,1115.8 985.7,1117.3 986.2,1118.8 986.7,1120.2 987.3,1121.5 988.1,1122.8 989.0,1123.9 990.1,1124.9 991.3,1125.9 992.5,1126.8 994.0,1127.6 995.5,1128.3" stroke="#009100" stroke-width="3.6"/>
<path d="M257.5,1128.3 259.0,1127.6 260.5,1126.8 261.7,1125.9 262.9,1124.9 264.0,1123.9 264.9,1122.8 265.7,1121.5 266.3,1120.2 266.8,1118.8 267.3,1117.3 267.8,1115.8 268.3,1114.4 268.9,1112.9 269.4,1111.4 270.0,1110.0 270.7,1108.5 271.3,1107.1 272.0,1105.7 272.7,1104.3 273.5,1102.9 274.3,1101.6 275.3,1100.3 276.3,1099.1 277.3,1097.9 278.5,1096.7 279.7,1095.6 281.0,1094.5 282.3,1093.5 283.6,1092.6 285.0,1091.8 286.4,1091.0 287.8,1090.4 289.2,1089.8 290.6,1089.3 292.1,1088.8 293.6,1088.3 295.1,1087.8 296.7,1087.3 298.2,1086.8 299.7,1086.3 301.1,1085.7 302.6,1085.1 304.0,1084.4 305.4,1083.7 306.7,1082.9 308.1,1082.1 309.4,1081.3 310.7,1080.5 312.1,1079.6 313.4,1078.8 314.8,1078.1 316.2,1077.3 317.6,1076.6 319.0,1076.0 320.4,1075.4 321.8,1074.8 323.2,1074.3 324.7,1073.8 326.1,1073.3 327.6,1072.8 329.1,1072.4 330.6,1071.9 332.0,1071.5 333.5,1071.0 334.9,1070.6 336.4,1070.1 337.8,1069.7 339.3,1069.2 340.8,1068.8 342.2,1068.4 343.7,1067.9 345.2,1067.5 346.7,1067.1 348.2,1066.6 349.7,1066.2 351.1,1065.7 352.6,1065.2 354.0,1064.7 355.4,1064.2 356.9,1063.7 358.3,1063.1 359.7,1062.6 361.1,1062.0 362.6,1061.5 364.0,1060.9 365.5,1060.3 366.9,1059.8 368.4,1059.2 369.9,1058.7 371.3,1058.2 372.8,1057.7 374.3,1057.3 375.8,1056.8 377.3,1056.4 378.8,1056.0 380.3,1055.6 381.9,1055.3 383.4,1054.9 384.9,1054.5 386.5,1054.2 388.0,1053.8 389.6,1053.4 391.1,1053.1 392.6,1052.7 394.2,1052.3 395.7,1052.0 397.1,1051.6 398.6,1051.2 400.1,1050.8 401.6,1050.4 403.1,1050.1 404.6,1049.7 406.1,1049.3 407.6,1048.9 409.1,1048.5 410.6,1048.2 412.1,1047.8 413.5,1047.4 415.0,1047.1 416.5,1046.8 417.9,1046.4 419.4,1046.1 420.8,1045.8 422.3,1045.5 423.7,1045.2 425.2,1044.9 426.6,1044.7 428.0,1044.4 429.5,1044.1 430.9,1043.8 432.4,1043.6 433.9,1043.3 435.4,1043.0 436.8,1042.7 438.3,1042.4 439.8,1042.1 441.3,1041.8 442.7,1041.5 444.2,1041.2 445.8,1040.9 447.3,1040.6 448.9,1040.2 450.4,1039.9 452.0,1039.6 453.6,1039.3 455.2,1038.9 456.8,1038.6 458.4,1038.3 459.9,1038.0 461.5,1037.6 463.0,1037.3 464.5,1037.0 466.1,1036.7 467.6,1036.4 469.1,1036.1 470.6,1035.8 472.1,1035.5 473.6,1035.2 475.1,1034.9 476.6,1034.6 478.0,1034.3 479.5,1034.0 480.9,1033.7 482.4,1033.4 483.9,1033.1 485.3,1032.8 486.8,1032.5 488.2,1032.2 489.7,1031.9 491.2,1031.7 492.7,1031.4 494.2,1031.1 495.8,1030.8 497.3,1030.6 498.9,1030.3 500.5,1030.0 502.0,1029.8 503.6,1029.5 505.2,1029.2 506.8,1029.0 508.3,1028.7 509.9,1028.5 511.5,1028.2 513.0,1027.9 514.6,1027.7 516.1,1027.4 517.7,1027.1 519.2,1026.8 520.7,1026.5 522.3,1026.2 523.8,1025.9 525.3,1025.6 526.9,1025.3 528.4,1025.0 529.9,1024.6 531.4,1024.3 532.9,1024.0 534.4,1023.7 535.9,1023.4 537.3,1023.2 538.9,1022.9 540.4,1022.6 542.0,1022.4 543.5,1022.1 545.1,1021.9 546.8,1021.7 548.4,1021.5 550.0,1021.3 551.5,1021.1 553.1,1020.8 554.6,1020.6 556.2,1020.3 557.7,1020.1 559.3,1019.7 560.8,1019.4 562.3,1019.1 563.8,1018.7 565.3,1018.3 566.8,1017.9 568.3,1017.5 569.8,1017.1 571.3,1016.8 572.8,1016.4 574.3,1016.0 575.8,1015.6 577.3,1015.2 578.8,1014.8 580.3,1014.4 581.9,1014.0 583.3,1013.7 584.9,1013.3 586.4,1013.0 587.9,1012.6 589.4,1012.3 591.0,1012.0 592.5,1011.7 594.1,1011.4 595.7,1011.1 597.2,1010.7 598.8,1010.4 600.3,1010.0 601.9,1009.6 603.5,1009.2 605.1,1008.7 606.6,1008.2 608.2,1007.7 609.8,1007.3 611.4,1006.8 613.0,1006.4 614.6,1005.9 616.2,1005.6 617.9,1005.2 619.5,1004.9 621.2,1004.7 622.9,1004.5 624.5,1004.4 626.2,1004.4 627.9,1004.4 629.5,1004.4 631.2,1004.5 632.9,1004.6 634.6,1004.7 636.2,1004.9 637.9,1005.0 639.6,1005.2 641.3,1005.4 643.0,1005.7 644.7,1005.9 646.4,1006.3 648.1,1006.7 649.7,1007.2 651.2,1007.8 652.5,1008.6 653.8,1009.4 655.0,1010.3 656.1,1011.3 657.3,1012.2 658.6,1013.0 660.0,1013.8 661.5,1014.5 663.0,1015.1 664.6,1015.8 666.1,1016.5 667.7,1017.2 669.2,1017.9 670.7,1018.8 672.1,1019.7 673.5,1020.6 674.8,1021.6 676.0,1022.7 677.1,1023.8 678.1,1025.0 679.1,1026.3 680.0,1027.6 680.8,1029.0 681.6,1030.5 682.3,1031.9 683.0,1033.4 683.6,1034.8 684.1,1036.3 684.6,1037.7 685.0,1039.1 685.3,1040.5 685.7,1041.9 686.0,1043.3 686.3,1044.8 686.6,1046.3 686.8,1047.9 687.1,1049.4 687.3,1051.0 687.6,1052.5 687.8,1054.1 688.1,1055.6 688.3,1057.2 688.6,1058.7 688.8,1060.3 689.1,1061.8 689.3,1063.4 689.5,1064.9 689.8,1066.5 690.0,1068.1 690.2,1069.7 690.4,1071.3 690.6,1072.9 690.9,1074.5 691.1,1076.1 691.3,1077.6 691.5,1079.2 691.8,1080.7 692.0,1082.2 692.3,1083.8 692.6,1085.4 692.9,1087.0 693.2,1088.6 693.5,1090.2 693.8,1091.8 694.2,1093.5 694.5,1095.1 694.9,1096.7 695.2,1098.2 695.7,1099.7 696.1,1101.2 696.6,1102.6 697.2,1104.0 697.9,1105.3 698.6,1106.6 699.4,1107.9 700.3,1109.1 701.3,1110.3 702.2,1111.5 703.1,1112.7 704.0,1114.0 704.8,1115.2 705.6,1116.5 706.2,1117.8 706.9,1119.1 707.4,1120.4 708.0,1121.7 708.5,1123.1 709.1,1124.6 709.6,1126.0 710.1,1127.5 710.6,1129.1 711.1,1130.6 711.6,1132.1 712.1,1133.6 712.5,1135.1 712.9,1136.6 713.4,1138.1 713.8,1139.5 714.2,1141.0 714.6,1142.5 714.9,1144.0 715.3,1145.5 715.7,1147.1 716.1,1148.6 716.5,1150.2 716.8,1151.8 717.2,1153.4 717.5,1155.0 717.9,1156.5 718.2,1158.0 718.5,1159.6 718.8,1161.0 719.1,1162.5 719.4,1163.9 719.6,1165.3 719.9,1166.8 720.1,1168.3 720.4,1169.8 720.6,1171.4 720.8,1173.0 720.9,1174.6 721.1,1176.2 721.3,1177.7 721.5,1179.3 721.7,1180.8 721.9,1182.4 722.2,1183.9 722.4,1185.5 722.8,1187.1 723.1,1188.7 723.4,1190.2 723.8,1191.8 724.2,1193.4 724.6,1195.0 725.0,1196.6 725.5,1198.2 726.0,1199.7 726.6,1201.2 727.2,1202.6 727.8,1204.0 728.5,1205.3 729.3,1206.6 730.2,1207.8 731.1,1209.0 732.0,1210.2 732.9,1211.4 733.8,1212.6 734.7,1213.9 735.4,1215.2 736.1,1216.4 736.8,1217.8 737.3,1219.1 737.8,1220.5 738.2,1221.8 738.6,1223.2 739.0,1224.7 739.4,1226.1 739.7,1227.6 740.1,1229.2 740.4,1230.7 740.7,1232.3 741.0,1233.8 741.3,1235.4 741.7,1236.9 742.0,1238.5 742.3,1240.0 742.6,1241.6 743.0,1243.1 743.3,1244.7 743.6,1246.3 743.9,1247.8 744.1,1249.5 744.4,1251.1 744.7,1252.7 745.0,1254.3 745.2,1256.0 745.5,1257.6 745.8,1259.2 746.1,1260.7 746.5,1262.3 746.8,1263.7 747.2,1265.2 747.6,1266.6 748.1,1267.9 748.6,1269.3 749.3,1270.6 750.0,1271.9 750.9,1273.2 751.8,1274.4 752.8,1275.7 753.8,1276.9 754.8,1278.1 755.8,1279.3 756.7,1280.5 757.5,1281.8 758.2,1283.1 758.9,1284.5 759.5,1286.0 760.0,1287.4 760.5,1288.9 761.0,1290.4 761.4,1292.0 761.8,1293.5 762.3,1295.1 762.6,1296.6 763.0,1298.1 763.4,1299.7 763.7,1301.2 764.0,1302.7 764.3,1304.3 764.6,1305.9 764.9,1307.4 765.2,1309.0 765.4,1310.6 765.7,1312.1 766.0,1313.7 766.2,1315.3 766.5,1316.8 766.7,1318.4 766.9,1320.0 767.2,1321.5 767.4,1323.1 767.6,1324.6 767.8,1326.2 768.0,1327.8 768.3,1329.4 768.5,1331.0 768.7,1332.6 769.0,1334.1 769.2,1335.7 769.4,1337.3 769.7,1338.8 770.0,1340.4 770.2,1341.9 770.5,1343.5 770.8,1345.1 771.0,1346.7 771.3,1348.3 771.6,1350.0 771.9,1351.6 772.2,1353.1 772.4,1354.7 772.7,1356.3 773.0,1357.9 773.2,1359.4 773.5,1361.0 773.7,1362.5 774.0,1364.0 774.3,1365.6 774.5,1367.1 774.7,1368.6 775.0,1370.1 775.2,1371.6 775.5,1373.2 775.7,1374.7 776.0,1376.2 776.2,1377.8 776.5,1379.3 776.7,1380.8 776.9,1382.4 777.2,1383.9 777.4,1385.4 777.6,1386.9 777.8,1388.4 778.1,1389.9 778.3,1391.5 778.5,1393.1 778.7,1394.6 779.0,1396.2 779.2,1397.8 779.5,1399.5 779.7,1401.1 780.0,1402.7 780.2,1404.2 780.4,1405.7 780.7,1407.3 780.9,1408.8 781.2,1410.2 781.4,1411.8 781.6,1413.3 781.9,1414.9 782.1,1416.4 782.4,1418.0 782.7,1419.6 782.9,1421.2 783.2,1422.8 783.4,1424.4 783.7,1425.9 784.0,1427.5 784.2,1429.0 784.5,1430.5 784.8,1432.0 785.0,1433.4 785.3,1434.8 785.5,1436.1 785.8,1437.5 786.1,1439.0 786.4,1440.4 786.7,1441.8 787.1,1443.3 787.4,1444.8 787.8,1446.3 788.1,1447.8 788.5,1449.2 788.9,1450.7 789.3,1452.1 789.7,1453.5 790.1,1455.0 790.5,1456.4 790.9,1457.8 791.3,1459.2 791.7,1460.6 792.2,1462.0 792.6,1463.4 793.0,1464.9 793.5,1466.4 793.9,1467.9 794.3,1469.4 794.6,1470.9 795.0,1472.3 795.3,1473.8 795.5,1475.2 795.8,1476.7 796.0,1478.1 796.2,1479.5 796.4,1481.0 796.6,1482.5 796.8,1484.0 797.0,1485.5 797.2,1487.0 797.4,1488.6 797.6,1490.1 797.7,1491.7 797.9,1493.3 798.0,1494.8 798.2,1496.4 798.4,1498.0 798.5,1499.5 798.7,1501.1 798.8,1502.6 799.0,1504.1 799.1,1505.7 799.2,1507.2 799.4,1508.7 799.5,1510.3 799.6,1511.8 799.8,1513.3 799.9,1514.9 800.0,1516.4 800.1,1518.0 800.2,1519.5 800.3,1521.1 800.4,1522.6 800.6,1524.2 800.7,1525.8 800.8,1527.3 800.9,1528.9 801.0,1530.5 801.1,1532.0 801.2,1533.6 801.3,1535.1 801.4,1536.7 801.5,1538.2 801.6,1539.7 801.7,1541.2 801.8,1542.8 801.9,1544.3 802.0,1545.8 802.1,1547.4 802.2,1548.9 802.3,1550.4 802.4,1552.0 802.6,1553.5 802.7,1555.0 802.8,1556.6 802.9,1558.1 803.0,1559.6 803.1,1561.2 803.2,1562.7 803.3,1564.2 803.4,1565.7 803.6,1567.3 803.7,1568.8 803.8,1570.3 804.0,1571.9 804.1,1573.5 804.3,1575.0 804.4,1576.6 804.6,1578.2 804.7,1579.8 804.9,1581.4 805.1,1583.0 805.2,1584.6 805.4,1586.2 805.6,1587.8 805.8,1589.3 805.9,1590.9 806.1,1592.4 806.3,1594.0 806.5,1595.5 806.7,1597.0 806.9,1598.5 807.2,1600.0 807.4,1601.5 807.6,1603.0 807.9,1604.6 808.2,1606.1 808.5,1607.7 808.8,1609.4 809.1,1611.0 809.4,1612.6 809.7,1614.1 810.0,1615.7 810.3,1617.2 810.7,1618.6 811.1,1620.1 811.4,1621.4 811.8,1622.8 812.3,1624.3 812.8,1625.7 813.3,1627.2 813.9,1628.6 814.6,1630.1 815.3,1631.5 816.1,1632.9 817.1,1634.1 818.2,1635.2 819.4,1636.3 820.8,1637.3 822.2,1638.3 823.6,1639.3 825.0,1640.4 826.4,1641.5 827.6,1642.8 828.7,1644.0 829.8,1645.4 830.8,1646.8 831.6,1648.2 832.5,1649.7 833.2,1651.1 834.0,1652.5 834.8,1654.0 835.7,1655.3 836.7,1656.6 837.7,1657.8 838.9,1658.9 840.1,1659.8 841.4,1660.7 842.9,1661.4 844.4,1662.0 846.0,1662.5 847.6,1662.9 849.3,1663.1 850.9,1663.2 852.6,1663.2 854.2,1663.1 855.7,1662.9 857.2,1662.5 858.6,1662.0 860.0,1661.4 861.4,1660.5 862.7,1659.6 863.9,1658.6 865.2,1657.5 866.5,1656.4 867.8,1655.4 869.1,1654.5 870.5,1653.7 871.9,1653.0 873.3,1652.3 874.8,1651.6 876.2,1651.0 877.5,1650.3 878.9,1649.5 880.2,1648.7 881.5,1647.8 882.8,1646.9 884.0,1645.9 885.3,1644.9 886.5,1643.9 887.8,1642.9 889.0,1641.8 890.3,1640.7 891.5,1639.6 892.8,1638.5 894.0,1637.4 895.3,1636.3 896.5,1635.3 897.7,1634.2 899.0,1633.1 900.2,1632.1 901.5,1631.1 902.7,1630.2 904.0,1629.2 905.3,1628.4 906.6,1627.6 907.9,1626.8 909.3,1626.2 910.7,1625.6 912.1,1625.0 913.5,1624.5 914.9,1623.9 916.3,1623.3 917.7,1622.5 919.0,1621.6 920.3,1620.6 921.6,1619.5 922.8,1618.4 924.1,1617.3 925.4,1616.2 926.7,1615.3 928.1,1614.5 929.7,1613.9 931.2,1613.3 932.8,1612.8 934.5,1612.4 936.0,1611.9 937.5,1611.2 939.0,1610.5 940.4,1609.6 941.7,1608.6 942.9,1607.5 944.2,1606.4 945.4,1605.2 946.6,1604.0 947.9,1602.9 949.1,1601.7 950.3,1600.5 951.6,1599.4 952.8,1598.3 954.1,1597.2 955.4,1596.1 956.7,1595.2 958.0,1594.2 959.4,1593.4 960.8,1592.6 962.2,1591.9 963.7,1591.2 965.1,1590.5 966.4,1589.7 967.7,1588.9 969.0,1588.0 970.2,1587.1 971.3,1586.1 972.3,1585.0 973.4,1583.9 974.3,1582.7 975.3,1581.5 976.1,1580.3 977.0,1579.0 977.8,1577.6 978.6,1576.2 979.3,1574.8 980.0,1573.4 980.8,1572.0 981.5,1570.5 982.3,1569.1 983.0,1567.6 983.7,1566.1 984.5,1564.6 985.2,1563.1 986.0,1561.6 986.8,1560.3 987.7,1558.9 988.7,1557.7 989.9,1556.7 991.0,1555.6 992.5,1554.7 994.2,1554.0" stroke="#009100" stroke-width="3.6" stroke-dasharray="15 5.5 4 5.5"/>
</g>
<path d="M250.7,1677.4v20.3M435.1,1677.4v20.3M435.1,984.5v20.3M619.4,1677.4v20.3M619.4,984.5v20.3M803.8,1677.4v20.3M803.8,984.5v20.3M988.1,1677.4v20.3M342.9,1677.4v9.7M342.9,984.5v9.7M527.2,1677.4v9.7M527.2,984.5v9.7M711.6,1677.4v9.7M711.6,984.5v9.7M895.9,1677.4v9.7M895.9,984.5v9.7M250.7,984.5h-20.3M250.7,1100.0h-20.3M988.1,1100.0h-20.3M250.7,1215.5h-20.3M988.1,1215.5h-20.3M250.7,1331.0h-20.3M988.1,1331.0h-20.3M250.7,1446.4h-20.3M988.1,1446.4h-20.3M250.7,1561.9h-20.3M988.1,1561.9h-20.3M250.7,1677.4h-20.3M250.7,1042.2h-9.7M988.1,1042.2h-9.7M250.7,1157.7h-9.7M988.1,1157.7h-9.7M250.7,1273.2h-9.7M988.1,1273.2h-9.7M250.7,1388.7h-9.7M988.1,1388.7h-9.7M250.7,1504.2h-9.7M988.1,1504.2h-9.7M250.7,1619.7h-9.7M988.1,1619.7h-9.7" stroke="#000" stroke-width="4.1" fill="none"/>
<rect x="435.2" y="986.5" width="101.8" height="690.9" fill="rgba(184,184,184,0.463)"/>
<rect x="712.8" y="986.5" width="101.8" height="690.9" fill="rgba(184,184,184,0.463)"/>
<rect x="537.0" y="986.5" width="175.8" height="690.9" fill="rgba(66,161,66,0.757)"/>
<rect x="250.7" y="984.5" width="737.4" height="692.9" fill="none" stroke="#000" stroke-width="4.1"/>
<line x1="358.8" y1="1329.6" x2="563.3" y2="1329.6" stroke="#808000" stroke-width="4.2"/><polygon points="584.3,1329.6 553.3,1344.8 563.3,1329.6 553.3,1314.3" fill="#808000"/>
<line x1="880.0" y1="1329.6" x2="676.5" y2="1329.6" stroke="#808000" stroke-width="4.2"/><polygon points="655.5,1329.6 686.5,1314.3 676.5,1329.6 686.5,1344.8" fill="#808000"/>
<g class="san" font-size="36.8" fill="#000" text-anchor="end">
<text x="215.5" y="995.5">3</text>
<text x="215.5" y="1111.0">2</text>
<text x="215.5" y="1226.5">1</text>
<text x="215.5" y="1342.0">0</text>
<text x="215.5" y="1457.4">-1</text>
<text x="215.5" y="1572.9">-2</text>
<text x="215.5" y="1688.4">-3</text>
</g>
<g class="san" font-size="36.8" fill="#000" text-anchor="middle">
<text x="251.2" y="1741.5">0</text>
<text x="435.6" y="1741.5">1</text>
<text x="619.9" y="1741.5">2</text>
<text x="804.2" y="1741.5">3</text>
<text x="988.6" y="1741.5">4</text>
</g>
<text class="ser" font-size="41.3" letter-spacing="0.2" fill="#1a1a1a" text-anchor="middle" transform="translate(161.8,1331.8) rotate(-90)">Current density (×10<tspan font-size="27" dy="-16.5">10</tspan><tspan dy="16.5"> A/m</tspan><tspan font-size="27" dy="-16.5">2</tspan><tspan dy="16.5">)</tspan></text>
<text class="ser" font-size="40.6" fill="#1a1a1a" text-anchor="middle" x="620.6" y="1806.3">Width (mm)</text>
</svg></body></html>
